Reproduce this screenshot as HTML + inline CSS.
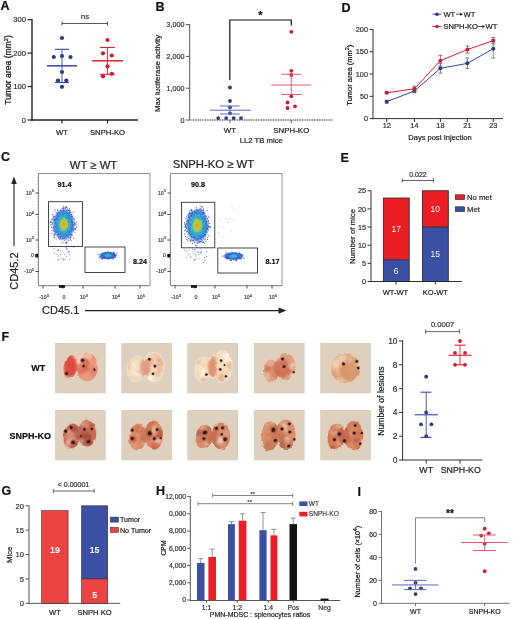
<!DOCTYPE html>
<html><head><meta charset="utf-8"><style>
html,body{margin:0;padding:0;background:#fff;width:520px;height:619px;overflow:hidden}
svg{display:block;font-family:"Liberation Sans",sans-serif;filter:blur(0.3px)}
text{stroke:currentColor;stroke-width:0.2px}
</style></head><body>
<svg width="520" height="619" viewBox="0 0 520 619">
<rect width="520" height="619" fill="#fff"/>
<text x="0.50" y="10.47" font-size="12.5" text-anchor="start" font-weight="bold" fill="#111" style="color:#111" >A</text>
<line x1="32.00" y1="19.00" x2="32.00" y2="120.70" stroke="#222" stroke-width="1.4" />
<line x1="31.30" y1="120.00" x2="138.00" y2="120.00" stroke="#222" stroke-width="1.4" />
<line x1="27.50" y1="120.00" x2="32.00" y2="120.00" stroke="#222" stroke-width="1.2" />
<text x="26.00" y="122.72" font-size="7.6" text-anchor="end" font-weight="normal" fill="#333" style="color:#333" >0</text>
<line x1="27.50" y1="86.55" x2="32.00" y2="86.55" stroke="#222" stroke-width="1.2" />
<text x="26.00" y="89.27" font-size="7.6" text-anchor="end" font-weight="normal" fill="#333" style="color:#333" >100</text>
<line x1="27.50" y1="53.10" x2="32.00" y2="53.10" stroke="#222" stroke-width="1.2" />
<text x="26.00" y="55.82" font-size="7.6" text-anchor="end" font-weight="normal" fill="#333" style="color:#333" >200</text>
<line x1="27.50" y1="19.65" x2="32.00" y2="19.65" stroke="#222" stroke-width="1.2" />
<text x="26.00" y="22.37" font-size="7.6" text-anchor="end" font-weight="normal" fill="#333" style="color:#333" >300</text>
<line x1="62.00" y1="120.00" x2="62.00" y2="123.50" stroke="#222" stroke-width="1.2" />
<line x1="107.50" y1="120.00" x2="107.50" y2="123.50" stroke="#222" stroke-width="1.2" />
<text x="62.00" y="134.76" font-size="7.7" text-anchor="middle" font-weight="normal" fill="#222" style="color:#222" >WT</text>
<text x="107.50" y="134.76" font-size="7.7" text-anchor="middle" font-weight="normal" fill="#222" style="color:#222" >SNPH-KO</text>
<text transform="translate(10.8,70) rotate(-90)" font-size="8.6" text-anchor="middle" fill="#222">Tumor area (mm<tspan font-size="5.5" dy="-3">2</tspan><tspan dy="3">)</tspan></text>
<line x1="62.00" y1="23.50" x2="107.50" y2="23.50" stroke="#444" stroke-width="0.9" />
<line x1="62.00" y1="21.50" x2="62.00" y2="25.50" stroke="#444" stroke-width="0.9" />
<line x1="107.50" y1="21.50" x2="107.50" y2="25.50" stroke="#444" stroke-width="0.9" />
<text x="85.00" y="19.36" font-size="8" text-anchor="middle" font-weight="normal" fill="#333" style="color:#333" >ns</text>
<circle cx="62.00" cy="38.00" r="2.1" fill="#2c3888"/>
<circle cx="53.80" cy="57.00" r="2.1" fill="#2c3888"/>
<circle cx="62.00" cy="56.00" r="2.1" fill="#2c3888"/>
<circle cx="70.50" cy="57.00" r="2.1" fill="#2c3888"/>
<circle cx="62.00" cy="72.00" r="2.1" fill="#2c3888"/>
<circle cx="58.00" cy="80.50" r="2.1" fill="#2c3888"/>
<circle cx="66.30" cy="80.50" r="2.1" fill="#2c3888"/>
<circle cx="62.00" cy="86.80" r="2.1" fill="#2c3888"/>
<line x1="47.00" y1="65.80" x2="77.00" y2="65.80" stroke="#34479a" stroke-width="1.5" />
<line x1="62.00" y1="49.30" x2="62.00" y2="82.50" stroke="#34479a" stroke-width="0.9" />
<line x1="55.00" y1="49.30" x2="69.00" y2="49.30" stroke="#34479a" stroke-width="1.1" />
<line x1="55.00" y1="82.50" x2="69.00" y2="82.50" stroke="#34479a" stroke-width="1.1" />
<circle cx="107.50" cy="40.00" r="2.1" fill="#d21838"/>
<circle cx="103.00" cy="53.30" r="2.1" fill="#d21838"/>
<circle cx="111.80" cy="55.50" r="2.1" fill="#d21838"/>
<circle cx="107.50" cy="66.30" r="2.1" fill="#d21838"/>
<circle cx="111.80" cy="73.80" r="2.1" fill="#d21838"/>
<circle cx="103.00" cy="76.30" r="2.1" fill="#d21838"/>
<line x1="92.00" y1="60.80" x2="123.00" y2="60.80" stroke="#e0202e" stroke-width="1.5" />
<line x1="107.50" y1="47.50" x2="107.50" y2="74.30" stroke="#e0202e" stroke-width="0.9" />
<line x1="100.00" y1="47.50" x2="115.00" y2="47.50" stroke="#e0202e" stroke-width="1.1" />
<line x1="100.00" y1="74.30" x2="115.00" y2="74.30" stroke="#e0202e" stroke-width="1.1" />
<text x="155.50" y="11.47" font-size="12.5" text-anchor="start" font-weight="bold" fill="#111" style="color:#111" >B</text>
<line x1="189.70" y1="24.00" x2="189.70" y2="120.00" stroke="#555" stroke-width="1" />
<line x1="186.00" y1="120.00" x2="189.70" y2="120.00" stroke="#555" stroke-width="1" />
<text x="184.50" y="122.58" font-size="7.2" text-anchor="end" font-weight="normal" fill="#333" style="color:#333" >0</text>
<line x1="186.00" y1="88.20" x2="189.70" y2="88.20" stroke="#555" stroke-width="1" />
<text x="184.50" y="90.78" font-size="7.2" text-anchor="end" font-weight="normal" fill="#333" style="color:#333" >1,000</text>
<line x1="186.00" y1="56.40" x2="189.70" y2="56.40" stroke="#555" stroke-width="1" />
<text x="184.50" y="58.98" font-size="7.2" text-anchor="end" font-weight="normal" fill="#333" style="color:#333" >2,000</text>
<line x1="186.00" y1="24.60" x2="189.70" y2="24.60" stroke="#555" stroke-width="1" />
<text x="184.50" y="27.18" font-size="7.2" text-anchor="end" font-weight="normal" fill="#333" style="color:#333" >3,000</text>
<line x1="189.70" y1="120.00" x2="333.00" y2="120.00" stroke="#666" stroke-width="1.3" stroke-dasharray="1,0.7"/>
<line x1="230.00" y1="120.00" x2="230.00" y2="123.00" stroke="#555" stroke-width="0.9" />
<line x1="291.30" y1="120.00" x2="291.30" y2="123.00" stroke="#555" stroke-width="0.9" />
<text x="230.00" y="132.83" font-size="7.9" text-anchor="middle" font-weight="normal" fill="#222" style="color:#222" >WT</text>
<text x="291.30" y="132.83" font-size="7.9" text-anchor="middle" font-weight="normal" fill="#222" style="color:#222" >SNPH-KO</text>
<text x="261.30" y="143.26" font-size="7.7" text-anchor="middle" font-weight="normal" fill="#222" style="color:#222" >LL2 TB mice</text>
<text transform="translate(157.50,73.50) rotate(-90)" x="0" y="2.83" font-size="7.9" text-anchor="middle" font-weight="normal" fill="#222" style="color:#222" >Max luciferase activity</text>
<polyline points="229.8,80 229.8,20 291.3,20 291.3,25.5" fill="none" stroke="#111" stroke-width="1.2"/>
<text x="260.50" y="19.44" font-size="11" text-anchor="middle" font-weight="bold" fill="#111" style="color:#111" >*</text>
<circle cx="230.00" cy="87.50" r="1.9" fill="#2c3888"/>
<circle cx="230.00" cy="101.00" r="1.9" fill="#2c3888"/>
<circle cx="230.00" cy="107.30" r="1.9" fill="#2c3888"/>
<circle cx="230.00" cy="113.30" r="1.9" fill="#2c3888"/>
<circle cx="218.20" cy="118.10" r="1.9" fill="#2c3888"/>
<circle cx="226.20" cy="118.10" r="1.9" fill="#2c3888"/>
<circle cx="233.70" cy="118.10" r="1.9" fill="#2c3888"/>
<circle cx="241.00" cy="118.10" r="1.9" fill="#2c3888"/>
<line x1="210.00" y1="110.20" x2="251.00" y2="110.20" stroke="#5a6cc0" stroke-width="1.0" />
<line x1="230.00" y1="106.00" x2="230.00" y2="114.00" stroke="#5a6cc0" stroke-width="0.9" />
<line x1="220.00" y1="106.00" x2="239.50" y2="106.00" stroke="#5a6cc0" stroke-width="1.0" />
<line x1="220.00" y1="114.00" x2="239.50" y2="114.00" stroke="#5a6cc0" stroke-width="1.0" />
<circle cx="291.30" cy="31.80" r="1.9" fill="#d21838"/>
<circle cx="291.30" cy="70.80" r="1.9" fill="#d21838"/>
<circle cx="291.30" cy="75.00" r="1.9" fill="#d21838"/>
<circle cx="291.30" cy="96.30" r="1.9" fill="#d21838"/>
<circle cx="287.50" cy="102.50" r="1.9" fill="#d21838"/>
<circle cx="287.50" cy="108.00" r="1.9" fill="#d21838"/>
<circle cx="295.00" cy="106.30" r="1.9" fill="#d21838"/>
<line x1="271.30" y1="85.00" x2="311.30" y2="85.00" stroke="#e65a6a" stroke-width="1.0" />
<line x1="291.30" y1="74.30" x2="291.30" y2="94.50" stroke="#e65a6a" stroke-width="0.9" />
<line x1="281.30" y1="74.30" x2="301.30" y2="74.30" stroke="#e65a6a" stroke-width="1.0" />
<line x1="281.30" y1="94.50" x2="301.30" y2="94.50" stroke="#e65a6a" stroke-width="1.0" />
<text x="341.50" y="12.47" font-size="12.5" text-anchor="start" font-weight="bold" fill="#111" style="color:#111" >D</text>
<line x1="373.00" y1="29.00" x2="373.00" y2="119.20" stroke="#333" stroke-width="1" />
<line x1="372.50" y1="118.60" x2="503.00" y2="118.60" stroke="#333" stroke-width="1" />
<line x1="369.50" y1="118.60" x2="373.00" y2="118.60" stroke="#333" stroke-width="1" />
<text x="368.00" y="121.21" font-size="7.3" text-anchor="end" font-weight="normal" fill="#333" style="color:#333" >0</text>
<line x1="369.50" y1="96.32" x2="373.00" y2="96.32" stroke="#333" stroke-width="1" />
<text x="368.00" y="98.94" font-size="7.3" text-anchor="end" font-weight="normal" fill="#333" style="color:#333" >50</text>
<line x1="369.50" y1="74.05" x2="373.00" y2="74.05" stroke="#333" stroke-width="1" />
<text x="368.00" y="76.66" font-size="7.3" text-anchor="end" font-weight="normal" fill="#333" style="color:#333" >100</text>
<line x1="369.50" y1="51.77" x2="373.00" y2="51.77" stroke="#333" stroke-width="1" />
<text x="368.00" y="54.39" font-size="7.3" text-anchor="end" font-weight="normal" fill="#333" style="color:#333" >150</text>
<line x1="369.50" y1="29.50" x2="373.00" y2="29.50" stroke="#333" stroke-width="1" />
<text x="368.00" y="32.11" font-size="7.3" text-anchor="end" font-weight="normal" fill="#333" style="color:#333" >200</text>
<line x1="386.70" y1="118.60" x2="386.70" y2="122.00" stroke="#333" stroke-width="1" />
<text x="386.70" y="128.11" font-size="7.3" text-anchor="middle" font-weight="normal" fill="#333" style="color:#333" >12</text>
<line x1="414.40" y1="118.60" x2="414.40" y2="122.00" stroke="#333" stroke-width="1" />
<text x="414.40" y="128.11" font-size="7.3" text-anchor="middle" font-weight="normal" fill="#333" style="color:#333" >14</text>
<line x1="440.40" y1="118.60" x2="440.40" y2="122.00" stroke="#333" stroke-width="1" />
<text x="440.40" y="128.11" font-size="7.3" text-anchor="middle" font-weight="normal" fill="#333" style="color:#333" >18</text>
<line x1="467.40" y1="118.60" x2="467.40" y2="122.00" stroke="#333" stroke-width="1" />
<text x="467.40" y="128.11" font-size="7.3" text-anchor="middle" font-weight="normal" fill="#333" style="color:#333" >21</text>
<line x1="493.30" y1="118.60" x2="493.30" y2="122.00" stroke="#333" stroke-width="1" />
<text x="493.30" y="128.11" font-size="7.3" text-anchor="middle" font-weight="normal" fill="#333" style="color:#333" >23</text>
<text x="440.00" y="139.69" font-size="7.5" text-anchor="middle" font-weight="normal" fill="#222" style="color:#222" >Days post Injection</text>
<text transform="translate(351.5,75.2) rotate(-90)" font-size="7.5" text-anchor="middle" fill="#222">Tumor area (mm<tspan font-size="5.3" dy="-3">2</tspan><tspan dy="3">)</tspan></text>
<polyline points="386.7,101.7 414.4,91.0 440.4,68.3 467.4,63.4 493.3,48.7" fill="none" stroke="#34479a" stroke-width="1"/>
<polyline points="386.7,92.8 414.4,88.8 440.4,60.7 467.4,49.5 493.3,40.6" fill="none" stroke="#e0202e" stroke-width="1"/>
<line x1="386.70" y1="100.33" x2="386.70" y2="103.01" stroke="#666" stroke-width="0.8" />
<line x1="384.70" y1="100.33" x2="388.70" y2="100.33" stroke="#666" stroke-width="0.8" />
<line x1="384.70" y1="103.01" x2="388.70" y2="103.01" stroke="#666" stroke-width="0.8" />
<circle cx="386.70" cy="101.67" r="2" fill="#2c3888"/>
<line x1="414.40" y1="89.64" x2="414.40" y2="92.32" stroke="#666" stroke-width="0.8" />
<line x1="412.40" y1="89.64" x2="416.40" y2="89.64" stroke="#666" stroke-width="0.8" />
<line x1="412.40" y1="92.32" x2="416.40" y2="92.32" stroke="#666" stroke-width="0.8" />
<circle cx="414.40" cy="90.98" r="2" fill="#2c3888"/>
<line x1="440.40" y1="63.36" x2="440.40" y2="73.16" stroke="#666" stroke-width="0.8" />
<line x1="438.40" y1="63.36" x2="442.40" y2="63.36" stroke="#666" stroke-width="0.8" />
<line x1="438.40" y1="73.16" x2="442.40" y2="73.16" stroke="#666" stroke-width="0.8" />
<circle cx="440.40" cy="68.26" r="2" fill="#2c3888"/>
<line x1="467.40" y1="58.01" x2="467.40" y2="68.70" stroke="#666" stroke-width="0.8" />
<line x1="465.40" y1="58.01" x2="469.40" y2="58.01" stroke="#666" stroke-width="0.8" />
<line x1="465.40" y1="68.70" x2="469.40" y2="68.70" stroke="#666" stroke-width="0.8" />
<circle cx="467.40" cy="63.36" r="2" fill="#2c3888"/>
<line x1="493.30" y1="39.30" x2="493.30" y2="58.01" stroke="#666" stroke-width="0.8" />
<line x1="491.30" y1="39.30" x2="495.30" y2="39.30" stroke="#666" stroke-width="0.8" />
<line x1="491.30" y1="58.01" x2="495.30" y2="58.01" stroke="#666" stroke-width="0.8" />
<circle cx="493.30" cy="48.66" r="2" fill="#2c3888"/>
<line x1="386.70" y1="91.87" x2="386.70" y2="93.65" stroke="#666" stroke-width="0.8" />
<line x1="384.70" y1="91.87" x2="388.70" y2="91.87" stroke="#666" stroke-width="0.8" />
<line x1="384.70" y1="93.65" x2="388.70" y2="93.65" stroke="#666" stroke-width="0.8" />
<circle cx="386.70" cy="92.76" r="2" fill="#d21838"/>
<line x1="414.40" y1="86.08" x2="414.40" y2="91.42" stroke="#666" stroke-width="0.8" />
<line x1="412.40" y1="86.08" x2="416.40" y2="86.08" stroke="#666" stroke-width="0.8" />
<line x1="412.40" y1="91.42" x2="416.40" y2="91.42" stroke="#666" stroke-width="0.8" />
<circle cx="414.40" cy="88.75" r="2" fill="#d21838"/>
<line x1="440.40" y1="55.34" x2="440.40" y2="66.03" stroke="#666" stroke-width="0.8" />
<line x1="438.40" y1="55.34" x2="442.40" y2="55.34" stroke="#666" stroke-width="0.8" />
<line x1="438.40" y1="66.03" x2="442.40" y2="66.03" stroke="#666" stroke-width="0.8" />
<circle cx="440.40" cy="60.68" r="2" fill="#d21838"/>
<line x1="467.40" y1="45.98" x2="467.40" y2="53.11" stroke="#666" stroke-width="0.8" />
<line x1="465.40" y1="45.98" x2="469.40" y2="45.98" stroke="#666" stroke-width="0.8" />
<line x1="465.40" y1="53.11" x2="469.40" y2="53.11" stroke="#666" stroke-width="0.8" />
<circle cx="467.40" cy="49.55" r="2" fill="#d21838"/>
<line x1="493.30" y1="37.52" x2="493.30" y2="43.76" stroke="#666" stroke-width="0.8" />
<line x1="491.30" y1="37.52" x2="495.30" y2="37.52" stroke="#666" stroke-width="0.8" />
<line x1="491.30" y1="43.76" x2="495.30" y2="43.76" stroke="#666" stroke-width="0.8" />
<circle cx="493.30" cy="40.64" r="2" fill="#d21838"/>
<line x1="432.50" y1="14.20" x2="441.30" y2="14.20" stroke="#34479a" stroke-width="1" />
<circle cx="437.00" cy="14.20" r="1.8" fill="#2c3888"/>
<text x="443.40" y="16.92" font-size="7.6" text-anchor="start" font-weight="normal" fill="#222" style="color:#222" >WT</text>
<line x1="456.00" y1="14.20" x2="460.50" y2="14.20" stroke="#222" stroke-width="0.8" />
<polygon points="463.00,14.20 460.00,12.60 460.00,15.80" fill="#222"/>
<text x="463.50" y="16.92" font-size="7.6" text-anchor="start" font-weight="normal" fill="#222" style="color:#222" >WT</text>
<line x1="432.50" y1="26.50" x2="441.30" y2="26.50" stroke="#e0202e" stroke-width="1" />
<circle cx="437.00" cy="26.50" r="1.8" fill="#d21838"/>
<text x="443.40" y="29.22" font-size="7.6" text-anchor="start" font-weight="normal" fill="#222" style="color:#222" >SNPH-KO</text>
<line x1="478.00" y1="26.50" x2="482.80" y2="26.50" stroke="#222" stroke-width="0.8" />
<polygon points="485.30,26.50 482.30,24.90 482.30,28.10" fill="#222"/>
<text x="485.60" y="29.22" font-size="7.6" text-anchor="start" font-weight="normal" fill="#222" style="color:#222" >WT</text>
<text x="1.00" y="160.97" font-size="12.5" text-anchor="start" font-weight="bold" fill="#111" style="color:#111" >C</text>
<text x="93.50" y="169.05" font-size="11.3" text-anchor="middle" font-weight="normal" fill="#222" style="color:#222" >WT  ≥ WT</text>
<text x="213.40" y="167.55" font-size="11.3" text-anchor="middle" font-weight="normal" fill="#222" style="color:#222" >SNPH-KO ≥ WT</text>
<line x1="14.00" y1="182.00" x2="14.00" y2="246.00" stroke="#222" stroke-width="1.1" />
<polygon points="14,176.5 11.2,184 16.8,184" fill="#222"/>
<text transform="translate(14.00,271.00) rotate(-90)" x="0" y="3.94" font-size="11" text-anchor="middle" font-weight="normal" fill="#222" style="color:#222" >CD45.2</text>
<text x="42.00" y="313.94" font-size="11" text-anchor="start" font-weight="normal" fill="#222" style="color:#222" >CD45.1</text>
<line x1="85.00" y1="310.60" x2="280.00" y2="310.60" stroke="#222" stroke-width="1.1" />
<polygon points="286.5,310.6 278.5,307.4 278.5,313.8" fill="#222"/>
<rect x="38.5" y="173.5" width="111.5" height="112" fill="none" stroke="#888" stroke-width="0.9"/>
<line x1="35.50" y1="193.00" x2="38.50" y2="193.00" stroke="#333" stroke-width="0.9" />
<text x="34.00" y="194.86" font-size="5.2" text-anchor="end" font-weight="normal" fill="#444" style="color:#444" >10<tspan font-size="4" dy="-2.5">5</tspan></text>
<line x1="35.50" y1="214.50" x2="38.50" y2="214.50" stroke="#333" stroke-width="0.9" />
<text x="34.00" y="216.36" font-size="5.2" text-anchor="end" font-weight="normal" fill="#444" style="color:#444" >10<tspan font-size="4" dy="-2.5">4</tspan></text>
<line x1="35.50" y1="240.00" x2="38.50" y2="240.00" stroke="#333" stroke-width="0.9" />
<text x="34.00" y="241.86" font-size="5.2" text-anchor="end" font-weight="normal" fill="#444" style="color:#444" >10<tspan font-size="4" dy="-2.5">3</tspan></text>
<line x1="35.50" y1="255.50" x2="38.50" y2="255.50" stroke="#333" stroke-width="0.9" />
<text x="34.00" y="257.36" font-size="5.2" text-anchor="end" font-weight="normal" fill="#444" style="color:#444" >0</text>
<line x1="35.50" y1="271.50" x2="38.50" y2="271.50" stroke="#333" stroke-width="0.9" />
<text x="34.00" y="273.36" font-size="5.2" text-anchor="end" font-weight="normal" fill="#444" style="color:#444" >-10<tspan font-size="4" dy="-2.5">3</tspan></text>
<line x1="37.00" y1="178.00" x2="38.50" y2="178.00" stroke="#666" stroke-width="0.5" />
<line x1="37.00" y1="181.00" x2="38.50" y2="181.00" stroke="#666" stroke-width="0.5" />
<line x1="37.00" y1="184.00" x2="38.50" y2="184.00" stroke="#666" stroke-width="0.5" />
<line x1="37.00" y1="187.00" x2="38.50" y2="187.00" stroke="#666" stroke-width="0.5" />
<line x1="37.00" y1="190.00" x2="38.50" y2="190.00" stroke="#666" stroke-width="0.5" />
<line x1="37.00" y1="193.00" x2="38.50" y2="193.00" stroke="#666" stroke-width="0.5" />
<line x1="37.00" y1="196.00" x2="38.50" y2="196.00" stroke="#666" stroke-width="0.5" />
<line x1="37.00" y1="199.00" x2="38.50" y2="199.00" stroke="#666" stroke-width="0.5" />
<line x1="37.00" y1="202.00" x2="38.50" y2="202.00" stroke="#666" stroke-width="0.5" />
<line x1="37.00" y1="205.00" x2="38.50" y2="205.00" stroke="#666" stroke-width="0.5" />
<line x1="37.00" y1="208.00" x2="38.50" y2="208.00" stroke="#666" stroke-width="0.5" />
<line x1="37.00" y1="211.00" x2="38.50" y2="211.00" stroke="#666" stroke-width="0.5" />
<line x1="37.00" y1="214.00" x2="38.50" y2="214.00" stroke="#666" stroke-width="0.5" />
<line x1="37.00" y1="217.00" x2="38.50" y2="217.00" stroke="#666" stroke-width="0.5" />
<line x1="37.00" y1="220.00" x2="38.50" y2="220.00" stroke="#666" stroke-width="0.5" />
<line x1="37.00" y1="223.00" x2="38.50" y2="223.00" stroke="#666" stroke-width="0.5" />
<line x1="37.00" y1="226.00" x2="38.50" y2="226.00" stroke="#666" stroke-width="0.5" />
<line x1="37.00" y1="229.00" x2="38.50" y2="229.00" stroke="#666" stroke-width="0.5" />
<line x1="37.00" y1="232.00" x2="38.50" y2="232.00" stroke="#666" stroke-width="0.5" />
<line x1="37.00" y1="235.00" x2="38.50" y2="235.00" stroke="#666" stroke-width="0.5" />
<line x1="37.00" y1="238.00" x2="38.50" y2="238.00" stroke="#666" stroke-width="0.5" />
<line x1="37.00" y1="241.00" x2="38.50" y2="241.00" stroke="#666" stroke-width="0.5" />
<line x1="37.00" y1="244.00" x2="38.50" y2="244.00" stroke="#666" stroke-width="0.5" />
<line x1="37.00" y1="247.00" x2="38.50" y2="247.00" stroke="#666" stroke-width="0.5" />
<line x1="37.00" y1="250.00" x2="38.50" y2="250.00" stroke="#666" stroke-width="0.5" />
<line x1="37.00" y1="253.00" x2="38.50" y2="253.00" stroke="#666" stroke-width="0.5" />
<line x1="37.00" y1="256.00" x2="38.50" y2="256.00" stroke="#666" stroke-width="0.5" />
<line x1="37.00" y1="259.00" x2="38.50" y2="259.00" stroke="#666" stroke-width="0.5" />
<line x1="37.00" y1="262.00" x2="38.50" y2="262.00" stroke="#666" stroke-width="0.5" />
<line x1="37.00" y1="265.00" x2="38.50" y2="265.00" stroke="#666" stroke-width="0.5" />
<line x1="37.00" y1="268.00" x2="38.50" y2="268.00" stroke="#666" stroke-width="0.5" />
<line x1="37.00" y1="271.00" x2="38.50" y2="271.00" stroke="#666" stroke-width="0.5" />
<line x1="37.00" y1="274.00" x2="38.50" y2="274.00" stroke="#666" stroke-width="0.5" />
<line x1="37.00" y1="277.00" x2="38.50" y2="277.00" stroke="#666" stroke-width="0.5" />
<line x1="37.00" y1="280.00" x2="38.50" y2="280.00" stroke="#666" stroke-width="0.5" />
<line x1="37.00" y1="283.00" x2="38.50" y2="283.00" stroke="#666" stroke-width="0.5" />
<rect x="35.30" y="253.90" width="2.80" height="3.60" fill="#111" />
<line x1="43.00" y1="285.50" x2="43.00" y2="288.50" stroke="#333" stroke-width="0.9" />
<text x="44.00" y="299.16" font-size="5.2" text-anchor="middle" font-weight="normal" fill="#444" style="color:#444" >-10<tspan font-size="4" dy="-2.5">3</tspan></text>
<line x1="63.00" y1="285.50" x2="63.00" y2="288.50" stroke="#333" stroke-width="0.9" />
<text x="64.00" y="299.16" font-size="5.2" text-anchor="middle" font-weight="normal" fill="#444" style="color:#444" >0</text>
<line x1="83.00" y1="285.50" x2="83.00" y2="288.50" stroke="#333" stroke-width="0.9" />
<text x="84.00" y="299.16" font-size="5.2" text-anchor="middle" font-weight="normal" fill="#444" style="color:#444" >10<tspan font-size="4" dy="-2.5">3</tspan></text>
<line x1="115.00" y1="285.50" x2="115.00" y2="288.50" stroke="#333" stroke-width="0.9" />
<text x="116.00" y="299.16" font-size="5.2" text-anchor="middle" font-weight="normal" fill="#444" style="color:#444" >10<tspan font-size="4" dy="-2.5">4</tspan></text>
<line x1="140.00" y1="285.50" x2="140.00" y2="288.50" stroke="#333" stroke-width="0.9" />
<text x="141.00" y="299.16" font-size="5.2" text-anchor="middle" font-weight="normal" fill="#444" style="color:#444" >10<tspan font-size="4" dy="-2.5">5</tspan></text>
<line x1="40.00" y1="285.50" x2="40.00" y2="287.00" stroke="#666" stroke-width="0.5" />
<line x1="43.00" y1="285.50" x2="43.00" y2="287.00" stroke="#666" stroke-width="0.5" />
<line x1="46.00" y1="285.50" x2="46.00" y2="287.00" stroke="#666" stroke-width="0.5" />
<line x1="49.00" y1="285.50" x2="49.00" y2="287.00" stroke="#666" stroke-width="0.5" />
<line x1="52.00" y1="285.50" x2="52.00" y2="287.00" stroke="#666" stroke-width="0.5" />
<line x1="55.00" y1="285.50" x2="55.00" y2="287.00" stroke="#666" stroke-width="0.5" />
<line x1="58.00" y1="285.50" x2="58.00" y2="287.00" stroke="#666" stroke-width="0.5" />
<line x1="61.00" y1="285.50" x2="61.00" y2="287.00" stroke="#666" stroke-width="0.5" />
<line x1="64.00" y1="285.50" x2="64.00" y2="287.00" stroke="#666" stroke-width="0.5" />
<line x1="67.00" y1="285.50" x2="67.00" y2="287.00" stroke="#666" stroke-width="0.5" />
<line x1="70.00" y1="285.50" x2="70.00" y2="287.00" stroke="#666" stroke-width="0.5" />
<line x1="73.00" y1="285.50" x2="73.00" y2="287.00" stroke="#666" stroke-width="0.5" />
<line x1="76.00" y1="285.50" x2="76.00" y2="287.00" stroke="#666" stroke-width="0.5" />
<line x1="79.00" y1="285.50" x2="79.00" y2="287.00" stroke="#666" stroke-width="0.5" />
<line x1="82.00" y1="285.50" x2="82.00" y2="287.00" stroke="#666" stroke-width="0.5" />
<line x1="85.00" y1="285.50" x2="85.00" y2="287.00" stroke="#666" stroke-width="0.5" />
<line x1="88.00" y1="285.50" x2="88.00" y2="287.00" stroke="#666" stroke-width="0.5" />
<line x1="91.00" y1="285.50" x2="91.00" y2="287.00" stroke="#666" stroke-width="0.5" />
<line x1="94.00" y1="285.50" x2="94.00" y2="287.00" stroke="#666" stroke-width="0.5" />
<line x1="97.00" y1="285.50" x2="97.00" y2="287.00" stroke="#666" stroke-width="0.5" />
<line x1="100.00" y1="285.50" x2="100.00" y2="287.00" stroke="#666" stroke-width="0.5" />
<line x1="103.00" y1="285.50" x2="103.00" y2="287.00" stroke="#666" stroke-width="0.5" />
<line x1="106.00" y1="285.50" x2="106.00" y2="287.00" stroke="#666" stroke-width="0.5" />
<line x1="109.00" y1="285.50" x2="109.00" y2="287.00" stroke="#666" stroke-width="0.5" />
<line x1="112.00" y1="285.50" x2="112.00" y2="287.00" stroke="#666" stroke-width="0.5" />
<line x1="115.00" y1="285.50" x2="115.00" y2="287.00" stroke="#666" stroke-width="0.5" />
<line x1="118.00" y1="285.50" x2="118.00" y2="287.00" stroke="#666" stroke-width="0.5" />
<line x1="121.00" y1="285.50" x2="121.00" y2="287.00" stroke="#666" stroke-width="0.5" />
<line x1="124.00" y1="285.50" x2="124.00" y2="287.00" stroke="#666" stroke-width="0.5" />
<line x1="127.00" y1="285.50" x2="127.00" y2="287.00" stroke="#666" stroke-width="0.5" />
<line x1="130.00" y1="285.50" x2="130.00" y2="287.00" stroke="#666" stroke-width="0.5" />
<line x1="133.00" y1="285.50" x2="133.00" y2="287.00" stroke="#666" stroke-width="0.5" />
<line x1="136.00" y1="285.50" x2="136.00" y2="287.00" stroke="#666" stroke-width="0.5" />
<line x1="139.00" y1="285.50" x2="139.00" y2="287.00" stroke="#666" stroke-width="0.5" />
<line x1="142.00" y1="285.50" x2="142.00" y2="287.00" stroke="#666" stroke-width="0.5" />
<line x1="145.00" y1="285.50" x2="145.00" y2="287.00" stroke="#666" stroke-width="0.5" />
<line x1="148.00" y1="285.50" x2="148.00" y2="287.00" stroke="#666" stroke-width="0.5" />
<rect x="59.00" y="285.20" width="6.00" height="2.60" fill="#111" />
<rect x="170.5" y="173.5" width="111.5" height="112" fill="none" stroke="#888" stroke-width="0.9"/>
<line x1="167.50" y1="193.00" x2="170.50" y2="193.00" stroke="#333" stroke-width="0.9" />
<text x="166.00" y="194.86" font-size="5.2" text-anchor="end" font-weight="normal" fill="#444" style="color:#444" >10<tspan font-size="4" dy="-2.5">5</tspan></text>
<line x1="167.50" y1="214.50" x2="170.50" y2="214.50" stroke="#333" stroke-width="0.9" />
<text x="166.00" y="216.36" font-size="5.2" text-anchor="end" font-weight="normal" fill="#444" style="color:#444" >10<tspan font-size="4" dy="-2.5">4</tspan></text>
<line x1="167.50" y1="240.00" x2="170.50" y2="240.00" stroke="#333" stroke-width="0.9" />
<text x="166.00" y="241.86" font-size="5.2" text-anchor="end" font-weight="normal" fill="#444" style="color:#444" >10<tspan font-size="4" dy="-2.5">3</tspan></text>
<line x1="167.50" y1="255.50" x2="170.50" y2="255.50" stroke="#333" stroke-width="0.9" />
<text x="166.00" y="257.36" font-size="5.2" text-anchor="end" font-weight="normal" fill="#444" style="color:#444" >0</text>
<line x1="167.50" y1="271.50" x2="170.50" y2="271.50" stroke="#333" stroke-width="0.9" />
<text x="166.00" y="273.36" font-size="5.2" text-anchor="end" font-weight="normal" fill="#444" style="color:#444" >-10<tspan font-size="4" dy="-2.5">3</tspan></text>
<line x1="169.00" y1="178.00" x2="170.50" y2="178.00" stroke="#666" stroke-width="0.5" />
<line x1="169.00" y1="181.00" x2="170.50" y2="181.00" stroke="#666" stroke-width="0.5" />
<line x1="169.00" y1="184.00" x2="170.50" y2="184.00" stroke="#666" stroke-width="0.5" />
<line x1="169.00" y1="187.00" x2="170.50" y2="187.00" stroke="#666" stroke-width="0.5" />
<line x1="169.00" y1="190.00" x2="170.50" y2="190.00" stroke="#666" stroke-width="0.5" />
<line x1="169.00" y1="193.00" x2="170.50" y2="193.00" stroke="#666" stroke-width="0.5" />
<line x1="169.00" y1="196.00" x2="170.50" y2="196.00" stroke="#666" stroke-width="0.5" />
<line x1="169.00" y1="199.00" x2="170.50" y2="199.00" stroke="#666" stroke-width="0.5" />
<line x1="169.00" y1="202.00" x2="170.50" y2="202.00" stroke="#666" stroke-width="0.5" />
<line x1="169.00" y1="205.00" x2="170.50" y2="205.00" stroke="#666" stroke-width="0.5" />
<line x1="169.00" y1="208.00" x2="170.50" y2="208.00" stroke="#666" stroke-width="0.5" />
<line x1="169.00" y1="211.00" x2="170.50" y2="211.00" stroke="#666" stroke-width="0.5" />
<line x1="169.00" y1="214.00" x2="170.50" y2="214.00" stroke="#666" stroke-width="0.5" />
<line x1="169.00" y1="217.00" x2="170.50" y2="217.00" stroke="#666" stroke-width="0.5" />
<line x1="169.00" y1="220.00" x2="170.50" y2="220.00" stroke="#666" stroke-width="0.5" />
<line x1="169.00" y1="223.00" x2="170.50" y2="223.00" stroke="#666" stroke-width="0.5" />
<line x1="169.00" y1="226.00" x2="170.50" y2="226.00" stroke="#666" stroke-width="0.5" />
<line x1="169.00" y1="229.00" x2="170.50" y2="229.00" stroke="#666" stroke-width="0.5" />
<line x1="169.00" y1="232.00" x2="170.50" y2="232.00" stroke="#666" stroke-width="0.5" />
<line x1="169.00" y1="235.00" x2="170.50" y2="235.00" stroke="#666" stroke-width="0.5" />
<line x1="169.00" y1="238.00" x2="170.50" y2="238.00" stroke="#666" stroke-width="0.5" />
<line x1="169.00" y1="241.00" x2="170.50" y2="241.00" stroke="#666" stroke-width="0.5" />
<line x1="169.00" y1="244.00" x2="170.50" y2="244.00" stroke="#666" stroke-width="0.5" />
<line x1="169.00" y1="247.00" x2="170.50" y2="247.00" stroke="#666" stroke-width="0.5" />
<line x1="169.00" y1="250.00" x2="170.50" y2="250.00" stroke="#666" stroke-width="0.5" />
<line x1="169.00" y1="253.00" x2="170.50" y2="253.00" stroke="#666" stroke-width="0.5" />
<line x1="169.00" y1="256.00" x2="170.50" y2="256.00" stroke="#666" stroke-width="0.5" />
<line x1="169.00" y1="259.00" x2="170.50" y2="259.00" stroke="#666" stroke-width="0.5" />
<line x1="169.00" y1="262.00" x2="170.50" y2="262.00" stroke="#666" stroke-width="0.5" />
<line x1="169.00" y1="265.00" x2="170.50" y2="265.00" stroke="#666" stroke-width="0.5" />
<line x1="169.00" y1="268.00" x2="170.50" y2="268.00" stroke="#666" stroke-width="0.5" />
<line x1="169.00" y1="271.00" x2="170.50" y2="271.00" stroke="#666" stroke-width="0.5" />
<line x1="169.00" y1="274.00" x2="170.50" y2="274.00" stroke="#666" stroke-width="0.5" />
<line x1="169.00" y1="277.00" x2="170.50" y2="277.00" stroke="#666" stroke-width="0.5" />
<line x1="169.00" y1="280.00" x2="170.50" y2="280.00" stroke="#666" stroke-width="0.5" />
<line x1="169.00" y1="283.00" x2="170.50" y2="283.00" stroke="#666" stroke-width="0.5" />
<rect x="167.30" y="253.90" width="2.80" height="3.60" fill="#111" />
<line x1="175.00" y1="285.50" x2="175.00" y2="288.50" stroke="#333" stroke-width="0.9" />
<text x="176.00" y="299.16" font-size="5.2" text-anchor="middle" font-weight="normal" fill="#444" style="color:#444" >-10<tspan font-size="4" dy="-2.5">3</tspan></text>
<line x1="195.00" y1="285.50" x2="195.00" y2="288.50" stroke="#333" stroke-width="0.9" />
<text x="196.00" y="299.16" font-size="5.2" text-anchor="middle" font-weight="normal" fill="#444" style="color:#444" >0</text>
<line x1="215.00" y1="285.50" x2="215.00" y2="288.50" stroke="#333" stroke-width="0.9" />
<text x="216.00" y="299.16" font-size="5.2" text-anchor="middle" font-weight="normal" fill="#444" style="color:#444" >10<tspan font-size="4" dy="-2.5">3</tspan></text>
<line x1="247.00" y1="285.50" x2="247.00" y2="288.50" stroke="#333" stroke-width="0.9" />
<text x="248.00" y="299.16" font-size="5.2" text-anchor="middle" font-weight="normal" fill="#444" style="color:#444" >10<tspan font-size="4" dy="-2.5">4</tspan></text>
<line x1="272.00" y1="285.50" x2="272.00" y2="288.50" stroke="#333" stroke-width="0.9" />
<text x="273.00" y="299.16" font-size="5.2" text-anchor="middle" font-weight="normal" fill="#444" style="color:#444" >10<tspan font-size="4" dy="-2.5">5</tspan></text>
<line x1="172.00" y1="285.50" x2="172.00" y2="287.00" stroke="#666" stroke-width="0.5" />
<line x1="175.00" y1="285.50" x2="175.00" y2="287.00" stroke="#666" stroke-width="0.5" />
<line x1="178.00" y1="285.50" x2="178.00" y2="287.00" stroke="#666" stroke-width="0.5" />
<line x1="181.00" y1="285.50" x2="181.00" y2="287.00" stroke="#666" stroke-width="0.5" />
<line x1="184.00" y1="285.50" x2="184.00" y2="287.00" stroke="#666" stroke-width="0.5" />
<line x1="187.00" y1="285.50" x2="187.00" y2="287.00" stroke="#666" stroke-width="0.5" />
<line x1="190.00" y1="285.50" x2="190.00" y2="287.00" stroke="#666" stroke-width="0.5" />
<line x1="193.00" y1="285.50" x2="193.00" y2="287.00" stroke="#666" stroke-width="0.5" />
<line x1="196.00" y1="285.50" x2="196.00" y2="287.00" stroke="#666" stroke-width="0.5" />
<line x1="199.00" y1="285.50" x2="199.00" y2="287.00" stroke="#666" stroke-width="0.5" />
<line x1="202.00" y1="285.50" x2="202.00" y2="287.00" stroke="#666" stroke-width="0.5" />
<line x1="205.00" y1="285.50" x2="205.00" y2="287.00" stroke="#666" stroke-width="0.5" />
<line x1="208.00" y1="285.50" x2="208.00" y2="287.00" stroke="#666" stroke-width="0.5" />
<line x1="211.00" y1="285.50" x2="211.00" y2="287.00" stroke="#666" stroke-width="0.5" />
<line x1="214.00" y1="285.50" x2="214.00" y2="287.00" stroke="#666" stroke-width="0.5" />
<line x1="217.00" y1="285.50" x2="217.00" y2="287.00" stroke="#666" stroke-width="0.5" />
<line x1="220.00" y1="285.50" x2="220.00" y2="287.00" stroke="#666" stroke-width="0.5" />
<line x1="223.00" y1="285.50" x2="223.00" y2="287.00" stroke="#666" stroke-width="0.5" />
<line x1="226.00" y1="285.50" x2="226.00" y2="287.00" stroke="#666" stroke-width="0.5" />
<line x1="229.00" y1="285.50" x2="229.00" y2="287.00" stroke="#666" stroke-width="0.5" />
<line x1="232.00" y1="285.50" x2="232.00" y2="287.00" stroke="#666" stroke-width="0.5" />
<line x1="235.00" y1="285.50" x2="235.00" y2="287.00" stroke="#666" stroke-width="0.5" />
<line x1="238.00" y1="285.50" x2="238.00" y2="287.00" stroke="#666" stroke-width="0.5" />
<line x1="241.00" y1="285.50" x2="241.00" y2="287.00" stroke="#666" stroke-width="0.5" />
<line x1="244.00" y1="285.50" x2="244.00" y2="287.00" stroke="#666" stroke-width="0.5" />
<line x1="247.00" y1="285.50" x2="247.00" y2="287.00" stroke="#666" stroke-width="0.5" />
<line x1="250.00" y1="285.50" x2="250.00" y2="287.00" stroke="#666" stroke-width="0.5" />
<line x1="253.00" y1="285.50" x2="253.00" y2="287.00" stroke="#666" stroke-width="0.5" />
<line x1="256.00" y1="285.50" x2="256.00" y2="287.00" stroke="#666" stroke-width="0.5" />
<line x1="259.00" y1="285.50" x2="259.00" y2="287.00" stroke="#666" stroke-width="0.5" />
<line x1="262.00" y1="285.50" x2="262.00" y2="287.00" stroke="#666" stroke-width="0.5" />
<line x1="265.00" y1="285.50" x2="265.00" y2="287.00" stroke="#666" stroke-width="0.5" />
<line x1="268.00" y1="285.50" x2="268.00" y2="287.00" stroke="#666" stroke-width="0.5" />
<line x1="271.00" y1="285.50" x2="271.00" y2="287.00" stroke="#666" stroke-width="0.5" />
<line x1="274.00" y1="285.50" x2="274.00" y2="287.00" stroke="#666" stroke-width="0.5" />
<line x1="277.00" y1="285.50" x2="277.00" y2="287.00" stroke="#666" stroke-width="0.5" />
<line x1="280.00" y1="285.50" x2="280.00" y2="287.00" stroke="#666" stroke-width="0.5" />
<rect x="191.00" y="285.20" width="6.00" height="2.60" fill="#111" />
<rect x="48.5" y="201.7" width="34" height="44.8" fill="none" stroke="#333" stroke-width="0.9"/>
<rect x="85" y="247" width="40" height="25.5" fill="none" stroke="#333" stroke-width="0.9"/>
<rect x="181.5" y="202.3" width="33.3" height="45.5" fill="none" stroke="#333" stroke-width="0.9"/>
<rect x="217.8" y="248" width="39.7" height="25" fill="none" stroke="#333" stroke-width="0.9"/>
<text x="64.50" y="186.58" font-size="7.2" text-anchor="middle" font-weight="bold" fill="#111" style="color:#111" >91.4</text>
<text x="140.00" y="263.58" font-size="7.2" text-anchor="middle" font-weight="bold" fill="#111" style="color:#111" >8.24</text>
<text x="198.00" y="187.08" font-size="7.2" text-anchor="middle" font-weight="bold" fill="#111" style="color:#111" >90.8</text>
<text x="272.50" y="263.98" font-size="7.2" text-anchor="middle" font-weight="bold" fill="#111" style="color:#111" >8.17</text>
<defs><radialGradient id="g1" cx="0.5" cy="0.5" r="0.5"><stop offset="0" stop-color="rgb(243, 133, 40)"/><stop offset="0.12" stop-color="rgb(235, 178, 43)"/><stop offset="0.3" stop-color="rgb(148, 207, 82)"/><stop offset="0.5" stop-color="rgb(70, 190, 176)"/><stop offset="0.75" stop-color="rgb(52, 136, 221)" stop-opacity="0.9"/><stop offset="1" stop-color="rgb(50, 85, 202)" stop-opacity="0"/></radialGradient></defs>
<ellipse cx="63.8" cy="224.5" rx="11.9" ry="16.575" fill="url(#g1)"/>
<rect x="58.4" y="222.4" width="1" height="1" fill="rgb(53, 145, 219)" opacity="0.85"/>
<rect x="68.0" y="228.2" width="1" height="1" fill="rgb(67, 188, 185)" opacity="0.85"/>
<rect x="54.3" y="211.1" width="1" height="1" fill="rgb(50, 71, 194)" opacity="0.85"/>
<rect x="73.4" y="228.2" width="1" height="1" fill="rgb(50, 85, 202)" opacity="0.85"/>
<rect x="59.8" y="236.7" width="1" height="1" fill="rgb(50, 87, 204)" opacity="0.85"/>
<rect x="56.7" y="218.8" width="1" height="1" fill="rgb(51, 127, 223)" opacity="0.85"/>
<rect x="60.9" y="216.9" width="1" height="1" fill="rgb(55, 156, 216)" opacity="0.85"/>
<rect x="58.3" y="219.8" width="1" height="1" fill="rgb(54, 151, 217)" opacity="0.85"/>
<rect x="65.6" y="213.0" width="1" height="1" fill="rgb(50, 110, 218)" opacity="0.85"/>
<rect x="57.5" y="219.9" width="1" height="1" fill="rgb(60, 185, 209)" opacity="0.85"/>
<rect x="55.5" y="230.1" width="1" height="1" fill="rgb(50, 96, 209)" opacity="0.85"/>
<rect x="58.9" y="213.0" width="1" height="1" fill="rgb(50, 118, 224)" opacity="0.85"/>
<rect x="60.9" y="214.6" width="1" height="1" fill="rgb(54, 151, 217)" opacity="0.85"/>
<rect x="53.5" y="227.9" width="1" height="1" fill="rgb(51, 128, 223)" opacity="0.85"/>
<rect x="55.5" y="225.8" width="1" height="1" fill="rgb(50, 104, 215)" opacity="0.85"/>
<rect x="61.0" y="213.8" width="1" height="1" fill="rgb(58, 174, 212)" opacity="0.85"/>
<rect x="57.3" y="231.2" width="1" height="1" fill="rgb(50, 101, 213)" opacity="0.85"/>
<rect x="63.4" y="231.4" width="1" height="1" fill="rgb(72, 191, 168)" opacity="0.85"/>
<rect x="68.4" y="227.9" width="1" height="1" fill="rgb(57, 171, 213)" opacity="0.85"/>
<rect x="70.6" y="214.8" width="1" height="1" fill="rgb(51, 127, 223)" opacity="0.85"/>
<rect x="62.3" y="231.6" width="1" height="1" fill="rgb(56, 161, 215)" opacity="0.85"/>
<rect x="73.3" y="211.6" width="1" height="1" fill="rgb(50, 50, 180)" opacity="0.85"/>
<rect x="63.9" y="232.5" width="1" height="1" fill="rgb(57, 169, 213)" opacity="0.85"/>
<rect x="58.8" y="227.5" width="1" height="1" fill="rgb(59, 184, 210)" opacity="0.85"/>
<rect x="71.1" y="220.7" width="1" height="1" fill="rgb(51, 129, 222)" opacity="0.85"/>
<rect x="57.4" y="216.5" width="1" height="1" fill="rgb(50, 102, 213)" opacity="0.85"/>
<rect x="70.8" y="216.4" width="1" height="1" fill="rgb(52, 138, 220)" opacity="0.85"/>
<rect x="64.9" y="216.9" width="1" height="1" fill="rgb(57, 168, 213)" opacity="0.85"/>
<rect x="69.3" y="230.4" width="1" height="1" fill="rgb(50, 108, 217)" opacity="0.85"/>
<rect x="65.8" y="229.8" width="1" height="1" fill="rgb(54, 149, 218)" opacity="0.85"/>
<rect x="67.4" y="228.2" width="1" height="1" fill="rgb(53, 143, 219)" opacity="0.85"/>
<rect x="68.5" y="216.7" width="1" height="1" fill="rgb(50, 115, 222)" opacity="0.85"/>
<rect x="63.2" y="230.8" width="1" height="1" fill="rgb(58, 172, 212)" opacity="0.85"/>
<rect x="70.7" y="234.0" width="1" height="1" fill="rgb(51, 129, 222)" opacity="0.85"/>
<rect x="57.3" y="225.8" width="1" height="1" fill="rgb(51, 130, 222)" opacity="0.85"/>
<rect x="67.2" y="228.1" width="1" height="1" fill="rgb(56, 165, 214)" opacity="0.85"/>
<rect x="76.2" y="226.6" width="1" height="1" fill="rgb(50, 67, 191)" opacity="0.85"/>
<rect x="67.3" y="231.4" width="1" height="1" fill="rgb(50, 117, 223)" opacity="0.85"/>
<rect x="68.7" y="215.3" width="1" height="1" fill="rgb(50, 111, 219)" opacity="0.85"/>
<rect x="64.2" y="214.9" width="1" height="1" fill="rgb(58, 176, 211)" opacity="0.85"/>
<rect x="69.1" y="213.3" width="1" height="1" fill="rgb(51, 127, 223)" opacity="0.85"/>
<rect x="58.3" y="223.2" width="1" height="1" fill="rgb(53, 144, 219)" opacity="0.85"/>
<rect x="62.8" y="235.4" width="1" height="1" fill="rgb(56, 163, 215)" opacity="0.85"/>
<rect x="51.5" y="229.7" width="1" height="1" fill="rgb(50, 99, 212)" opacity="0.85"/>
<rect x="68.2" y="222.0" width="1" height="1" fill="rgb(55, 158, 216)" opacity="0.85"/>
<rect x="65.4" y="233.9" width="1" height="1" fill="rgb(57, 171, 213)" opacity="0.85"/>
<rect x="66.6" y="216.9" width="1" height="1" fill="rgb(58, 175, 212)" opacity="0.85"/>
<rect x="57.1" y="210.2" width="1" height="1" fill="rgb(50, 98, 211)" opacity="0.85"/>
<rect x="63.3" y="215.6" width="1" height="1" fill="rgb(52, 138, 220)" opacity="0.85"/>
<rect x="59.0" y="228.6" width="1" height="1" fill="rgb(75, 192, 159)" opacity="0.85"/>
<rect x="71.3" y="216.4" width="1" height="1" fill="rgb(50, 87, 204)" opacity="0.85"/>
<rect x="60.6" y="218.3" width="1" height="1" fill="rgb(60, 185, 207)" opacity="0.85"/>
<rect x="70.9" y="222.0" width="1" height="1" fill="rgb(52, 137, 220)" opacity="0.85"/>
<rect x="68.5" y="220.8" width="1" height="1" fill="rgb(68, 189, 181)" opacity="0.85"/>
<rect x="63.7" y="233.8" width="1" height="1" fill="rgb(51, 127, 223)" opacity="0.85"/>
<rect x="67.5" y="220.3" width="1" height="1" fill="rgb(59, 178, 211)" opacity="0.85"/>
<rect x="53.3" y="216.0" width="1" height="1" fill="rgb(50, 80, 199)" opacity="0.85"/>
<rect x="68.8" y="219.7" width="1" height="1" fill="rgb(56, 162, 215)" opacity="0.85"/>
<rect x="72.8" y="224.3" width="1" height="1" fill="rgb(50, 90, 206)" opacity="0.85"/>
<rect x="54.9" y="226.0" width="1" height="1" fill="rgb(50, 125, 223)" opacity="0.85"/>
<rect x="60.3" y="232.0" width="1" height="1" fill="rgb(56, 161, 215)" opacity="0.85"/>
<rect x="61.8" y="236.6" width="1" height="1" fill="rgb(50, 113, 221)" opacity="0.85"/>
<rect x="55.0" y="219.3" width="1" height="1" fill="rgb(53, 145, 219)" opacity="0.85"/>
<rect x="56.4" y="227.6" width="1" height="1" fill="rgb(53, 142, 219)" opacity="0.85"/>
<rect x="55.2" y="223.1" width="1" height="1" fill="rgb(50, 123, 224)" opacity="0.85"/>
<rect x="57.4" y="222.2" width="1" height="1" fill="rgb(67, 188, 183)" opacity="0.85"/>
<rect x="59.9" y="209.6" width="1" height="1" fill="rgb(50, 117, 223)" opacity="0.85"/>
<rect x="62.9" y="233.5" width="1" height="1" fill="rgb(60, 185, 209)" opacity="0.85"/>
<rect x="67.4" y="229.5" width="1" height="1" fill="rgb(52, 135, 221)" opacity="0.85"/>
<rect x="58.8" y="212.7" width="1" height="1" fill="rgb(52, 139, 220)" opacity="0.85"/>
<rect x="68.1" y="233.7" width="1" height="1" fill="rgb(52, 135, 221)" opacity="0.85"/>
<rect x="70.2" y="236.0" width="1" height="1" fill="rgb(50, 116, 223)" opacity="0.85"/>
<rect x="65.8" y="242.0" width="1" height="1" fill="rgb(50, 59, 185)" opacity="0.85"/>
<rect x="57.5" y="227.7" width="1" height="1" fill="rgb(53, 145, 219)" opacity="0.85"/>
<rect x="57.9" y="221.3" width="1" height="1" fill="rgb(51, 131, 222)" opacity="0.85"/>
<rect x="59.7" y="233.0" width="1" height="1" fill="rgb(53, 140, 220)" opacity="0.85"/>
<rect x="72.3" y="227.2" width="1" height="1" fill="rgb(50, 99, 211)" opacity="0.85"/>
<rect x="67.1" y="229.6" width="1" height="1" fill="rgb(71, 190, 171)" opacity="0.85"/>
<rect x="70.4" y="237.4" width="1" height="1" fill="rgb(50, 83, 201)" opacity="0.85"/>
<rect x="70.9" y="228.0" width="1" height="1" fill="rgb(50, 122, 224)" opacity="0.85"/>
<rect x="74.6" y="231.7" width="1" height="1" fill="rgb(50, 79, 198)" opacity="0.85"/>
<rect x="67.1" y="217.8" width="1" height="1" fill="rgb(55, 154, 217)" opacity="0.85"/>
<rect x="51.8" y="218.5" width="1" height="1" fill="rgb(50, 63, 188)" opacity="0.85"/>
<rect x="67.8" y="230.6" width="1" height="1" fill="rgb(52, 135, 221)" opacity="0.85"/>
<rect x="62.6" y="214.7" width="1" height="1" fill="rgb(51, 127, 223)" opacity="0.85"/>
<rect x="51.0" y="226.7" width="1" height="1" fill="rgb(50, 51, 181)" opacity="0.85"/>
<rect x="65.7" y="216.8" width="1" height="1" fill="rgb(57, 169, 213)" opacity="0.85"/>
<rect x="66.0" y="217.6" width="1" height="1" fill="rgb(58, 176, 211)" opacity="0.85"/>
<rect x="57.8" y="235.7" width="1" height="1" fill="rgb(50, 114, 221)" opacity="0.85"/>
<rect x="59.7" y="218.3" width="1" height="1" fill="rgb(56, 162, 215)" opacity="0.85"/>
<rect x="71.2" y="229.2" width="1" height="1" fill="rgb(50, 104, 215)" opacity="0.85"/>
<rect x="69.1" y="211.4" width="1" height="1" fill="rgb(50, 103, 214)" opacity="0.85"/>
<rect x="61.7" y="231.9" width="1" height="1" fill="rgb(52, 139, 220)" opacity="0.85"/>
<rect x="58.9" y="229.7" width="1" height="1" fill="rgb(56, 164, 214)" opacity="0.85"/>
<rect x="65.2" y="232.4" width="1" height="1" fill="rgb(50, 120, 224)" opacity="0.85"/>
<rect x="64.1" y="233.8" width="1" height="1" fill="rgb(54, 148, 218)" opacity="0.85"/>
<rect x="63.3" y="213.2" width="1" height="1" fill="rgb(54, 150, 217)" opacity="0.85"/>
<rect x="67.1" y="218.9" width="1" height="1" fill="rgb(56, 162, 215)" opacity="0.85"/>
<rect x="62.1" y="213.5" width="1" height="1" fill="rgb(50, 106, 216)" opacity="0.85"/>
<rect x="69.0" y="210.6" width="1" height="1" fill="rgb(50, 95, 209)" opacity="0.85"/>
<rect x="62.3" y="210.5" width="1" height="1" fill="rgb(50, 86, 203)" opacity="0.85"/>
<rect x="57.1" y="222.7" width="1" height="1" fill="rgb(60, 185, 209)" opacity="0.85"/>
<rect x="66.7" y="210.9" width="1" height="1" fill="rgb(50, 108, 217)" opacity="0.85"/>
<rect x="69.6" y="217.0" width="1" height="1" fill="rgb(53, 144, 219)" opacity="0.85"/>
<rect x="66.7" y="229.2" width="1" height="1" fill="rgb(54, 150, 218)" opacity="0.85"/>
<rect x="66.8" y="215.9" width="1" height="1" fill="rgb(56, 160, 215)" opacity="0.85"/>
<rect x="57.7" y="216.0" width="1" height="1" fill="rgb(51, 129, 222)" opacity="0.85"/>
<rect x="72.8" y="224.3" width="1" height="1" fill="rgb(50, 124, 224)" opacity="0.85"/>
<rect x="56.7" y="223.8" width="1" height="1" fill="rgb(57, 166, 214)" opacity="0.85"/>
<rect x="71.3" y="228.9" width="1" height="1" fill="rgb(50, 105, 215)" opacity="0.85"/>
<rect x="58.1" y="224.3" width="1" height="1" fill="rgb(58, 175, 212)" opacity="0.85"/>
<rect x="59.6" y="212.4" width="1" height="1" fill="rgb(50, 121, 224)" opacity="0.85"/>
<rect x="59.5" y="214.0" width="1" height="1" fill="rgb(53, 141, 220)" opacity="0.85"/>
<rect x="61.7" y="232.6" width="1" height="1" fill="rgb(55, 154, 217)" opacity="0.85"/>
<rect x="75.7" y="221.6" width="1" height="1" fill="rgb(50, 50, 180)" opacity="0.85"/>
<rect x="53.8" y="227.5" width="1" height="1" fill="rgb(52, 135, 221)" opacity="0.85"/>
<rect x="66.5" y="241.3" width="1" height="1" fill="rgb(50, 52, 181)" opacity="0.85"/>
<rect x="50.3" y="221.2" width="1" height="1" fill="rgb(50, 50, 180)" opacity="0.85"/>
<rect x="66.0" y="216.0" width="1" height="1" fill="rgb(62, 186, 202)" opacity="0.85"/>
<rect x="68.2" y="218.9" width="1" height="1" fill="rgb(50, 125, 223)" opacity="0.85"/>
<rect x="69.5" y="224.2" width="1" height="1" fill="rgb(55, 157, 216)" opacity="0.85"/>
<rect x="63.3" y="209.8" width="1" height="1" fill="rgb(50, 79, 199)" opacity="0.85"/>
<rect x="70.8" y="218.8" width="1" height="1" fill="rgb(55, 154, 216)" opacity="0.85"/>
<rect x="62.0" y="230.9" width="1" height="1" fill="rgb(57, 170, 213)" opacity="0.85"/>
<rect x="70.4" y="223.9" width="1" height="1" fill="rgb(52, 134, 221)" opacity="0.85"/>
<rect x="62.7" y="232.8" width="1" height="1" fill="rgb(52, 134, 221)" opacity="0.85"/>
<rect x="54.0" y="237.2" width="1" height="1" fill="rgb(50, 84, 202)" opacity="0.85"/>
<rect x="66.2" y="214.3" width="1" height="1" fill="rgb(57, 171, 213)" opacity="0.85"/>
<rect x="69.6" y="220.6" width="1" height="1" fill="rgb(57, 169, 213)" opacity="0.85"/>
<rect x="71.5" y="227.7" width="1" height="1" fill="rgb(50, 117, 223)" opacity="0.85"/>
<rect x="63.4" y="213.3" width="1" height="1" fill="rgb(50, 119, 224)" opacity="0.85"/>
<rect x="74.9" y="229.1" width="1" height="1" fill="rgb(50, 55, 183)" opacity="0.85"/>
<rect x="58.5" y="225.2" width="1" height="1" fill="rgb(57, 167, 214)" opacity="0.85"/>
<rect x="62.8" y="234.8" width="1" height="1" fill="rgb(50, 119, 224)" opacity="0.85"/>
<rect x="58.3" y="221.4" width="1" height="1" fill="rgb(54, 149, 218)" opacity="0.85"/>
<rect x="68.5" y="219.2" width="1" height="1" fill="rgb(52, 138, 220)" opacity="0.85"/>
<rect x="53.2" y="217.4" width="1" height="1" fill="rgb(50, 103, 214)" opacity="0.85"/>
<rect x="58.6" y="228.0" width="1" height="1" fill="rgb(58, 174, 212)" opacity="0.85"/>
<rect x="59.8" y="228.7" width="1" height="1" fill="rgb(54, 150, 218)" opacity="0.85"/>
<rect x="67.7" y="230.2" width="1" height="1" fill="rgb(57, 169, 213)" opacity="0.85"/>
<rect x="58.6" y="228.7" width="1" height="1" fill="rgb(71, 190, 171)" opacity="0.85"/>
<rect x="69.6" y="211.8" width="1" height="1" fill="rgb(50, 66, 190)" opacity="0.85"/>
<rect x="71.5" y="226.3" width="1" height="1" fill="rgb(55, 155, 216)" opacity="0.85"/>
<rect x="56.3" y="225.6" width="1" height="1" fill="rgb(50, 110, 219)" opacity="0.85"/>
<rect x="53.9" y="234.7" width="1" height="1" fill="rgb(50, 95, 208)" opacity="0.85"/>
<rect x="67.0" y="231.4" width="1" height="1" fill="rgb(57, 170, 213)" opacity="0.85"/>
<rect x="71.2" y="219.7" width="1" height="1" fill="rgb(52, 133, 221)" opacity="0.85"/>
<rect x="63.8" y="215.8" width="1" height="1" fill="rgb(57, 170, 213)" opacity="0.85"/>
<rect x="72.3" y="227.2" width="1" height="1" fill="rgb(50, 96, 210)" opacity="0.85"/>
<rect x="70.0" y="218.9" width="1" height="1" fill="rgb(50, 120, 224)" opacity="0.85"/>
<rect x="57.9" y="215.3" width="1" height="1" fill="rgb(50, 102, 214)" opacity="0.85"/>
<rect x="69.2" y="227.9" width="1" height="1" fill="rgb(56, 162, 215)" opacity="0.85"/>
<rect x="61.4" y="231.8" width="1" height="1" fill="rgb(70, 190, 175)" opacity="0.85"/>
<rect x="56.5" y="211.9" width="1" height="1" fill="rgb(50, 89, 205)" opacity="0.85"/>
<rect x="71.4" y="221.2" width="1" height="1" fill="rgb(50, 112, 220)" opacity="0.85"/>
<rect x="69.5" y="225.2" width="1" height="1" fill="rgb(58, 173, 212)" opacity="0.85"/>
<rect x="57.3" y="209.4" width="1" height="1" fill="rgb(50, 62, 187)" opacity="0.85"/>
<rect x="68.0" y="225.4" width="1" height="1" fill="rgb(58, 178, 211)" opacity="0.85"/>
<rect x="65.8" y="212.4" width="1" height="1" fill="rgb(50, 119, 224)" opacity="0.85"/>
<rect x="59.6" y="236.7" width="1" height="1" fill="rgb(50, 89, 205)" opacity="0.85"/>
<rect x="64.9" y="236.3" width="1" height="1" fill="rgb(50, 103, 214)" opacity="0.85"/>
<rect x="69.2" y="221.4" width="1" height="1" fill="rgb(52, 136, 221)" opacity="0.85"/>
<rect x="64.2" y="231.6" width="1" height="1" fill="rgb(60, 185, 209)" opacity="0.85"/>
<rect x="54.4" y="233.8" width="1" height="1" fill="rgb(50, 107, 217)" opacity="0.85"/>
<rect x="68.2" y="240.0" width="1" height="1" fill="rgb(50, 86, 203)" opacity="0.85"/>
<rect x="71.0" y="226.2" width="1" height="1" fill="rgb(50, 123, 224)" opacity="0.85"/>
<rect x="62.4" y="230.8" width="1" height="1" fill="rgb(80, 195, 142)" opacity="0.85"/>
<rect x="73.1" y="237.4" width="1" height="1" fill="rgb(50, 50, 180)" opacity="0.85"/>
<rect x="57.2" y="234.8" width="1" height="1" fill="rgb(50, 123, 224)" opacity="0.85"/>
<rect x="58.2" y="225.2" width="1" height="1" fill="rgb(76, 193, 155)" opacity="0.85"/>
<rect x="65.1" y="230.6" width="1" height="1" fill="rgb(76, 193, 156)" opacity="0.85"/>
<rect x="68.7" y="225.4" width="1" height="1" fill="rgb(67, 188, 183)" opacity="0.85"/>
<rect x="63.1" y="208.2" width="1" height="1" fill="rgb(50, 77, 197)" opacity="0.85"/>
<rect x="61.4" y="242.5" width="1" height="1" fill="rgb(50, 68, 191)" opacity="0.85"/>
<rect x="62.7" y="235.7" width="1" height="1" fill="rgb(50, 111, 219)" opacity="0.85"/>
<rect x="63.7" y="207.5" width="1" height="1" fill="rgb(50, 88, 204)" opacity="0.85"/>
<rect x="63.9" y="232.4" width="1" height="1" fill="rgb(68, 189, 180)" opacity="0.85"/>
<rect x="68.3" y="221.9" width="1" height="1" fill="rgb(55, 157, 216)" opacity="0.85"/>
<rect x="57.7" y="227.7" width="1" height="1" fill="rgb(65, 187, 190)" opacity="0.85"/>
<rect x="67.2" y="236.2" width="1" height="1" fill="rgb(50, 122, 224)" opacity="0.85"/>
<rect x="67.3" y="212.6" width="1" height="1" fill="rgb(50, 119, 224)" opacity="0.85"/>
<rect x="57.3" y="233.9" width="1" height="1" fill="rgb(50, 88, 204)" opacity="0.85"/>
<rect x="66.2" y="235.7" width="1" height="1" fill="rgb(50, 102, 213)" opacity="0.85"/>
<rect x="74.2" y="222.1" width="1" height="1" fill="rgb(50, 117, 223)" opacity="0.85"/>
<rect x="68.4" y="229.0" width="1" height="1" fill="rgb(58, 176, 211)" opacity="0.85"/>
<rect x="56.9" y="229.1" width="1" height="1" fill="rgb(55, 154, 217)" opacity="0.85"/>
<rect x="63.2" y="209.6" width="1" height="1" fill="rgb(50, 108, 217)" opacity="0.85"/>
<rect x="70.7" y="233.8" width="1" height="1" fill="rgb(50, 89, 205)" opacity="0.85"/>
<rect x="58.6" y="221.1" width="1" height="1" fill="rgb(67, 188, 184)" opacity="0.85"/>
<rect x="68.5" y="217.5" width="1" height="1" fill="rgb(52, 134, 221)" opacity="0.85"/>
<rect x="66.1" y="213.9" width="1" height="1" fill="rgb(58, 173, 212)" opacity="0.85"/>
<rect x="68.1" y="229.0" width="1" height="1" fill="rgb(62, 186, 202)" opacity="0.85"/>
<rect x="69.7" y="210.2" width="1" height="1" fill="rgb(50, 55, 183)" opacity="0.85"/>
<rect x="52.7" y="215.5" width="1" height="1" fill="rgb(50, 68, 191)" opacity="0.85"/>
<rect x="67.2" y="218.0" width="1" height="1" fill="rgb(54, 148, 218)" opacity="0.85"/>
<rect x="65.5" y="206.4" width="1" height="1" fill="rgb(50, 50, 180)" opacity="0.85"/>
<rect x="57.2" y="218.1" width="1" height="1" fill="rgb(50, 119, 224)" opacity="0.85"/>
<rect x="57.0" y="217.7" width="1" height="1" fill="rgb(50, 114, 221)" opacity="0.85"/>
<rect x="65.2" y="215.0" width="1" height="1" fill="rgb(50, 118, 224)" opacity="0.85"/>
<rect x="67.6" y="228.4" width="1" height="1" fill="rgb(59, 179, 211)" opacity="0.85"/>
<rect x="67.5" y="233.8" width="1" height="1" fill="rgb(50, 120, 224)" opacity="0.85"/>
<rect x="58.7" y="221.2" width="1" height="1" fill="rgb(58, 174, 212)" opacity="0.85"/>
<rect x="74.7" y="224.6" width="1" height="1" fill="rgb(50, 81, 200)" opacity="0.85"/>
<rect x="65.6" y="217.2" width="1" height="1" fill="rgb(71, 190, 171)" opacity="0.85"/>
<rect x="70.0" y="224.9" width="1" height="1" fill="rgb(56, 162, 215)" opacity="0.85"/>
<rect x="59.6" y="219.0" width="1" height="1" fill="rgb(59, 179, 211)" opacity="0.85"/>
<rect x="51.3" y="221.8" width="1" height="1" fill="rgb(50, 55, 183)" opacity="0.85"/>
<rect x="53.7" y="224.8" width="1" height="1" fill="rgb(52, 139, 220)" opacity="0.85"/>
<rect x="68.0" y="220.7" width="1" height="1" fill="rgb(74, 192, 162)" opacity="0.85"/>
<rect x="56.1" y="214.5" width="1" height="1" fill="rgb(50, 85, 202)" opacity="0.85"/>
<rect x="54.8" y="232.1" width="1" height="1" fill="rgb(50, 117, 223)" opacity="0.85"/>
<rect x="58.1" y="229.3" width="1" height="1" fill="rgb(54, 148, 218)" opacity="0.85"/>
<rect x="61.5" y="208.4" width="1" height="1" fill="rgb(50, 61, 187)" opacity="0.85"/>
<rect x="55.0" y="219.2" width="1" height="1" fill="rgb(50, 90, 205)" opacity="0.85"/>
<rect x="57.8" y="218.5" width="1" height="1" fill="rgb(56, 162, 215)" opacity="0.85"/>
<rect x="61.4" y="231.3" width="1" height="1" fill="rgb(58, 178, 211)" opacity="0.85"/>
<rect x="56.3" y="228.9" width="1" height="1" fill="rgb(51, 129, 222)" opacity="0.85"/>
<rect x="58.8" y="218.2" width="1" height="1" fill="rgb(53, 140, 220)" opacity="0.85"/>
<rect x="64.1" y="211.2" width="1" height="1" fill="rgb(50, 109, 218)" opacity="0.85"/>
<rect x="65.9" y="231.6" width="1" height="1" fill="rgb(52, 133, 221)" opacity="0.85"/>
<rect x="67.2" y="229.7" width="1" height="1" fill="rgb(52, 138, 220)" opacity="0.85"/>
<rect x="57.4" y="227.2" width="1" height="1" fill="rgb(50, 122, 224)" opacity="0.85"/>
<rect x="62.3" y="211.2" width="1" height="1" fill="rgb(50, 113, 220)" opacity="0.85"/>
<rect x="69.2" y="226.9" width="1" height="1" fill="rgb(54, 149, 218)" opacity="0.85"/>
<rect x="62.2" y="210.5" width="1" height="1" fill="rgb(50, 88, 204)" opacity="0.85"/>
<rect x="69.4" y="223.0" width="1" height="1" fill="rgb(67, 188, 185)" opacity="0.85"/>
<rect x="66.2" y="207.4" width="1" height="1" fill="rgb(50, 50, 180)" opacity="0.85"/>
<rect x="58.0" y="234.0" width="1" height="1" fill="rgb(50, 96, 210)" opacity="0.85"/>
<rect x="51.3" y="223.8" width="1" height="1" fill="rgb(50, 63, 188)" opacity="0.85"/>
<rect x="62.8" y="232.8" width="1" height="1" fill="rgb(53, 144, 219)" opacity="0.85"/>
<rect x="69.9" y="238.8" width="1" height="1" fill="rgb(50, 82, 201)" opacity="0.85"/>
<rect x="55.9" y="222.0" width="1" height="1" fill="rgb(51, 126, 223)" opacity="0.85"/>
<rect x="68.0" y="217.2" width="1" height="1" fill="rgb(55, 157, 216)" opacity="0.85"/>
<rect x="70.8" y="223.5" width="1" height="1" fill="rgb(51, 130, 222)" opacity="0.85"/>
<rect x="70.3" y="223.4" width="1" height="1" fill="rgb(52, 136, 221)" opacity="0.85"/>
<rect x="63.8" y="216.0" width="1" height="1" fill="rgb(53, 143, 219)" opacity="0.85"/>
<rect x="56.6" y="218.4" width="1" height="1" fill="rgb(50, 118, 224)" opacity="0.85"/>
<rect x="67.7" y="232.3" width="1" height="1" fill="rgb(52, 136, 221)" opacity="0.85"/>
<rect x="52.0" y="222.7" width="1" height="1" fill="rgb(50, 66, 190)" opacity="0.85"/>
<rect x="64.4" y="234.7" width="1" height="1" fill="rgb(50, 103, 214)" opacity="0.85"/>
<rect x="68.3" y="224.1" width="1" height="1" fill="rgb(54, 151, 217)" opacity="0.85"/>
<rect x="57.2" y="219.0" width="1" height="1" fill="rgb(50, 122, 224)" opacity="0.85"/>
<rect x="59.0" y="218.1" width="1" height="1" fill="rgb(52, 135, 221)" opacity="0.85"/>
<rect x="56.3" y="212.5" width="1" height="1" fill="rgb(50, 109, 218)" opacity="0.85"/>
<rect x="70.9" y="224.8" width="1" height="1" fill="rgb(53, 141, 220)" opacity="0.85"/>
<rect x="58.8" y="232.6" width="1" height="1" fill="rgb(51, 131, 222)" opacity="0.85"/>
<rect x="71.3" y="219.4" width="1" height="1" fill="rgb(50, 105, 215)" opacity="0.85"/>
<rect x="58.0" y="222.5" width="1" height="1" fill="rgb(55, 153, 217)" opacity="0.85"/>
<rect x="71.9" y="228.6" width="1" height="1" fill="rgb(50, 85, 202)" opacity="0.85"/>
<rect x="51.3" y="218.5" width="1" height="1" fill="rgb(50, 50, 180)" opacity="0.85"/>
<rect x="65.6" y="233.6" width="1" height="1" fill="rgb(53, 143, 219)" opacity="0.85"/>
<rect x="57.2" y="213.5" width="1" height="1" fill="rgb(50, 88, 204)" opacity="0.85"/>
<rect x="73.9" y="228.7" width="1" height="1" fill="rgb(50, 104, 215)" opacity="0.85"/>
<rect x="68.2" y="213.8" width="1" height="1" fill="rgb(50, 115, 222)" opacity="0.85"/>
<rect x="63.0" y="215.9" width="1" height="1" fill="rgb(53, 145, 219)" opacity="0.85"/>
<rect x="68.0" y="225.6" width="1" height="1" fill="rgb(71, 190, 170)" opacity="0.85"/>
<rect x="59.8" y="210.5" width="1" height="1" fill="rgb(50, 111, 219)" opacity="0.85"/>
<rect x="62.6" y="233.4" width="1" height="1" fill="rgb(54, 146, 218)" opacity="0.85"/>
<rect x="64.8" y="215.2" width="1" height="1" fill="rgb(52, 138, 220)" opacity="0.85"/>
<rect x="54.6" y="209.1" width="1" height="1" fill="rgb(50, 50, 180)" opacity="0.85"/>
<rect x="62.8" y="206.2" width="1" height="1" fill="rgb(50, 82, 201)" opacity="0.85"/>
<rect x="58.2" y="237.5" width="1" height="1" fill="rgb(50, 81, 200)" opacity="0.85"/>
<rect x="64.1" y="240.1" width="1" height="1" fill="rgb(50, 90, 206)" opacity="0.85"/>
<rect x="60.5" y="213.7" width="1" height="1" fill="rgb(57, 170, 213)" opacity="0.85"/>
<rect x="53.3" y="226.7" width="1" height="1" fill="rgb(50, 112, 219)" opacity="0.85"/>
<rect x="66.9" y="217.8" width="1" height="1" fill="rgb(61, 185, 205)" opacity="0.85"/>
<rect x="65.1" y="234.1" width="1" height="1" fill="rgb(50, 110, 219)" opacity="0.85"/>
<rect x="67.7" y="221.1" width="1" height="1" fill="rgb(55, 155, 216)" opacity="0.85"/>
<rect x="60.6" y="214.2" width="1" height="1" fill="rgb(55, 153, 217)" opacity="0.85"/>
<rect x="59.0" y="220.2" width="1" height="1" fill="rgb(72, 191, 168)" opacity="0.85"/>
<rect x="68.0" y="209.9" width="1" height="1" fill="rgb(50, 64, 189)" opacity="0.85"/>
<rect x="71.3" y="211.9" width="1" height="1" fill="rgb(50, 106, 216)" opacity="0.85"/>
<rect x="68.9" y="212.9" width="1" height="1" fill="rgb(50, 114, 221)" opacity="0.85"/>
<rect x="66.7" y="214.7" width="1" height="1" fill="rgb(50, 122, 224)" opacity="0.85"/>
<rect x="60.9" y="231.1" width="1" height="1" fill="rgb(52, 134, 221)" opacity="0.85"/>
<rect x="62.2" y="217.1" width="1" height="1" fill="rgb(57, 165, 214)" opacity="0.85"/>
<rect x="69.4" y="222.0" width="1" height="1" fill="rgb(61, 185, 206)" opacity="0.85"/>
<rect x="58.4" y="228.1" width="1" height="1" fill="rgb(63, 186, 197)" opacity="0.85"/>
<rect x="58.6" y="233.5" width="1" height="1" fill="rgb(51, 128, 223)" opacity="0.85"/>
<rect x="65.5" y="238.4" width="1" height="1" fill="rgb(50, 73, 194)" opacity="0.85"/>
<rect x="69.5" y="224.2" width="1" height="1" fill="rgb(56, 160, 215)" opacity="0.85"/>
<rect x="58.4" y="224.2" width="1" height="1" fill="rgb(74, 192, 161)" opacity="0.85"/>
<rect x="62.5" y="241.7" width="1" height="1" fill="rgb(50, 57, 184)" opacity="0.85"/>
<rect x="65.1" y="235.2" width="1" height="1" fill="rgb(50, 126, 223)" opacity="0.85"/>
<rect x="69.1" y="230.7" width="1" height="1" fill="rgb(50, 109, 218)" opacity="0.85"/>
<rect x="65.2" y="212.9" width="1" height="1" fill="rgb(54, 149, 218)" opacity="0.85"/>
<rect x="59.8" y="219.0" width="1" height="1" fill="rgb(58, 173, 212)" opacity="0.85"/>
<rect x="54.5" y="233.6" width="1" height="1" fill="rgb(50, 65, 189)" opacity="0.85"/>
<rect x="68.4" y="218.9" width="1" height="1" fill="rgb(54, 150, 217)" opacity="0.85"/>
<rect x="56.9" y="226.2" width="1" height="1" fill="rgb(58, 174, 212)" opacity="0.85"/>
<rect x="63.4" y="213.3" width="1" height="1" fill="rgb(50, 124, 224)" opacity="0.85"/>
<rect x="67.6" y="214.9" width="1" height="1" fill="rgb(54, 152, 217)" opacity="0.85"/>
<rect x="66.1" y="231.0" width="1" height="1" fill="rgb(63, 186, 198)" opacity="0.85"/>
<rect x="52.5" y="227.6" width="1" height="1" fill="rgb(50, 75, 196)" opacity="0.85"/>
<rect x="60.3" y="210.3" width="1" height="1" fill="rgb(50, 80, 199)" opacity="0.85"/>
<rect x="60.3" y="232.0" width="1" height="1" fill="rgb(51, 130, 222)" opacity="0.85"/>
<rect x="71.8" y="222.1" width="1" height="1" fill="rgb(50, 98, 210)" opacity="0.85"/>
<rect x="65.7" y="212.4" width="1" height="1" fill="rgb(50, 115, 222)" opacity="0.85"/>
<rect x="65.8" y="234.0" width="1" height="1" fill="rgb(50, 110, 218)" opacity="0.85"/>
<rect x="64.7" y="231.1" width="1" height="1" fill="rgb(53, 140, 220)" opacity="0.85"/>
<rect x="55.7" y="231.8" width="1" height="1" fill="rgb(50, 121, 224)" opacity="0.85"/>
<rect x="55.8" y="224.0" width="1" height="1" fill="rgb(52, 135, 221)" opacity="0.85"/>
<rect x="67.9" y="231.8" width="1" height="1" fill="rgb(52, 135, 221)" opacity="0.85"/>
<rect x="62.6" y="207.8" width="1" height="1" fill="rgb(50, 79, 198)" opacity="0.85"/>
<rect x="55.4" y="218.5" width="1" height="1" fill="rgb(50, 112, 220)" opacity="0.85"/>
<rect x="64.4" y="235.8" width="1" height="1" fill="rgb(54, 151, 217)" opacity="0.85"/>
<rect x="64.5" y="212.6" width="1" height="1" fill="rgb(55, 153, 217)" opacity="0.85"/>
<rect x="60.0" y="214.4" width="1" height="1" fill="rgb(52, 133, 221)" opacity="0.85"/>
<rect x="60.4" y="233.6" width="1" height="1" fill="rgb(50, 111, 219)" opacity="0.85"/>
<rect x="55.2" y="230.3" width="1" height="1" fill="rgb(50, 125, 223)" opacity="0.85"/>
<rect x="58.1" y="227.8" width="1" height="1" fill="rgb(58, 176, 212)" opacity="0.85"/>
<rect x="56.6" y="230.0" width="1" height="1" fill="rgb(56, 164, 214)" opacity="0.85"/>
<rect x="66.5" y="233.9" width="1" height="1" fill="rgb(55, 156, 216)" opacity="0.85"/>
<rect x="58.6" y="229.5" width="1" height="1" fill="rgb(68, 189, 182)" opacity="0.85"/>
<rect x="69.8" y="226.2" width="1" height="1" fill="rgb(51, 126, 223)" opacity="0.85"/>
<rect x="65.8" y="206.7" width="1" height="1" fill="rgb(50, 72, 194)" opacity="0.85"/>
<rect x="68.9" y="229.7" width="1" height="1" fill="rgb(54, 151, 217)" opacity="0.85"/>
<rect x="62.0" y="215.3" width="1" height="1" fill="rgb(57, 168, 213)" opacity="0.85"/>
<rect x="66.4" y="216.1" width="1" height="1" fill="rgb(54, 149, 218)" opacity="0.85"/>
<rect x="61.2" y="217.2" width="1" height="1" fill="rgb(67, 188, 186)" opacity="0.85"/>
<rect x="62.5" y="231.4" width="1" height="1" fill="rgb(52, 137, 221)" opacity="0.85"/>
<rect x="58.5" y="227.8" width="1" height="1" fill="rgb(61, 185, 205)" opacity="0.85"/>
<rect x="64.7" y="236.0" width="1" height="1" fill="rgb(54, 152, 217)" opacity="0.85"/>
<rect x="65.0" y="217.0" width="1" height="1" fill="rgb(55, 153, 217)" opacity="0.85"/>
<rect x="69.6" y="233.3" width="1" height="1" fill="rgb(52, 134, 221)" opacity="0.85"/>
<rect x="59.3" y="217.8" width="1" height="1" fill="rgb(57, 169, 213)" opacity="0.85"/>
<rect x="65.4" y="242.9" width="1" height="1" fill="rgb(50, 50, 180)" opacity="0.85"/>
<rect x="57.0" y="213.5" width="1" height="1" fill="rgb(50, 124, 224)" opacity="0.85"/>
<rect x="65.8" y="218.0" width="1" height="1" fill="rgb(74, 192, 160)" opacity="0.85"/>
<rect x="62.7" y="231.2" width="1" height="1" fill="rgb(56, 159, 215)" opacity="0.85"/>
<rect x="71.8" y="224.2" width="1" height="1" fill="rgb(50, 109, 217)" opacity="0.85"/>
<rect x="57.7" y="225.0" width="1" height="1" fill="rgb(59, 181, 210)" opacity="0.85"/>
<rect x="60.6" y="218.1" width="1" height="1" fill="rgb(77, 193, 150)" opacity="0.85"/>
<rect x="68.7" y="209.8" width="1" height="1" fill="rgb(50, 100, 212)" opacity="0.85"/>
<rect x="69.7" y="234.8" width="1" height="1" fill="rgb(50, 110, 218)" opacity="0.85"/>
<rect x="70.7" y="220.8" width="1" height="1" fill="rgb(50, 116, 222)" opacity="0.85"/>
<rect x="64.2" y="236.8" width="1" height="1" fill="rgb(50, 104, 214)" opacity="0.85"/>
<rect x="69.9" y="237.1" width="1" height="1" fill="rgb(50, 100, 212)" opacity="0.85"/>
<rect x="68.8" y="237.6" width="1" height="1" fill="rgb(50, 94, 208)" opacity="0.85"/>
<rect x="64.8" y="213.2" width="1" height="1" fill="rgb(56, 162, 215)" opacity="0.85"/>
<rect x="65.7" y="210.2" width="1" height="1" fill="rgb(50, 84, 201)" opacity="0.85"/>
<rect x="61.0" y="215.5" width="1" height="1" fill="rgb(58, 174, 212)" opacity="0.85"/>
<rect x="53.1" y="229.8" width="1" height="1" fill="rgb(50, 93, 208)" opacity="0.85"/>
<rect x="67.3" y="230.6" width="1" height="1" fill="rgb(51, 126, 223)" opacity="0.85"/>
<rect x="57.1" y="224.5" width="1" height="1" fill="rgb(56, 163, 215)" opacity="0.85"/>
<rect x="66.5" y="217.0" width="1" height="1" fill="rgb(57, 169, 213)" opacity="0.85"/>
<rect x="58.1" y="211.8" width="1" height="1" fill="rgb(50, 93, 208)" opacity="0.85"/>
<rect x="51.5" y="233.2" width="1" height="1" fill="rgb(50, 50, 180)" opacity="0.85"/>
<rect x="58.4" y="216.0" width="1" height="1" fill="rgb(50, 106, 216)" opacity="0.85"/>
<rect x="57.1" y="216.9" width="1" height="1" fill="rgb(56, 163, 215)" opacity="0.85"/>
<rect x="57.2" y="223.4" width="1" height="1" fill="rgb(65, 187, 192)" opacity="0.85"/>
<rect x="71.6" y="226.5" width="1" height="1" fill="rgb(51, 132, 222)" opacity="0.85"/>
<rect x="57.7" y="236.5" width="1" height="1" fill="rgb(50, 88, 204)" opacity="0.85"/>
<rect x="56.9" y="225.4" width="1" height="1" fill="rgb(58, 177, 211)" opacity="0.85"/>
<rect x="64.7" y="231.7" width="1" height="1" fill="rgb(56, 163, 214)" opacity="0.85"/>
<rect x="53.9" y="219.4" width="1" height="1" fill="rgb(50, 92, 207)" opacity="0.85"/>
<rect x="65.8" y="217.3" width="1" height="1" fill="rgb(58, 174, 212)" opacity="0.85"/>
<rect x="62.4" y="232.7" width="1" height="1" fill="rgb(66, 188, 187)" opacity="0.85"/>
<rect x="58.0" y="213.2" width="1" height="1" fill="rgb(50, 100, 212)" opacity="0.85"/>
<rect x="56.8" y="218.6" width="1" height="1" fill="rgb(56, 160, 215)" opacity="0.85"/>
<rect x="71.6" y="227.0" width="1" height="1" fill="rgb(54, 151, 217)" opacity="0.85"/>
<rect x="67.7" y="239.5" width="1" height="1" fill="rgb(50, 84, 202)" opacity="0.85"/>
<rect x="58.2" y="213.1" width="1" height="1" fill="rgb(52, 138, 220)" opacity="0.85"/>
<rect x="57.7" y="217.4" width="1" height="1" fill="rgb(54, 151, 217)" opacity="0.85"/>
<rect x="60.9" y="214.6" width="1" height="1" fill="rgb(55, 158, 216)" opacity="0.85"/>
<rect x="65.1" y="234.7" width="1" height="1" fill="rgb(51, 129, 222)" opacity="0.85"/>
<rect x="65.1" y="207.8" width="1" height="1" fill="rgb(50, 90, 205)" opacity="0.85"/>
<rect x="56.6" y="234.1" width="1" height="1" fill="rgb(50, 120, 224)" opacity="0.85"/>
<rect x="61.5" y="231.3" width="1" height="1" fill="rgb(55, 157, 216)" opacity="0.85"/>
<rect x="56.4" y="228.5" width="1" height="1" fill="rgb(57, 170, 213)" opacity="0.85"/>
<rect x="69.8" y="227.2" width="1" height="1" fill="rgb(50, 115, 221)" opacity="0.85"/>
<rect x="70.4" y="233.2" width="1" height="1" fill="rgb(50, 111, 219)" opacity="0.85"/>
<rect x="68.3" y="220.1" width="1" height="1" fill="rgb(51, 130, 222)" opacity="0.85"/>
<rect x="57.9" y="230.5" width="1" height="1" fill="rgb(59, 179, 211)" opacity="0.85"/>
<rect x="69.3" y="223.0" width="1" height="1" fill="rgb(55, 156, 216)" opacity="0.85"/>
<rect x="69.4" y="230.4" width="1" height="1" fill="rgb(50, 115, 222)" opacity="0.85"/>
<rect x="71.4" y="224.3" width="1" height="1" fill="rgb(50, 105, 215)" opacity="0.85"/>
<rect x="71.7" y="225.3" width="1" height="1" fill="rgb(50, 107, 216)" opacity="0.85"/>
<rect x="72.0" y="228.0" width="1" height="1" fill="rgb(51, 127, 223)" opacity="0.85"/>
<rect x="68.6" y="214.6" width="1" height="1" fill="rgb(50, 96, 210)" opacity="0.85"/>
<rect x="57.5" y="215.6" width="1" height="1" fill="rgb(50, 121, 224)" opacity="0.85"/>
<rect x="71.5" y="221.4" width="1" height="1" fill="rgb(50, 94, 208)" opacity="0.85"/>
<rect x="71.0" y="225.0" width="1" height="1" fill="rgb(56, 160, 215)" opacity="0.85"/>
<rect x="67.2" y="217.4" width="1" height="1" fill="rgb(51, 127, 223)" opacity="0.85"/>
<rect x="58.6" y="231.2" width="1" height="1" fill="rgb(53, 143, 219)" opacity="0.85"/>
<rect x="64.8" y="217.3" width="1" height="1" fill="rgb(64, 187, 196)" opacity="0.85"/>
<rect x="59.5" y="218.4" width="1" height="1" fill="rgb(56, 163, 214)" opacity="0.85"/>
<rect x="66.2" y="206.6" width="1" height="1" fill="rgb(50, 84, 202)" opacity="0.85"/>
<rect x="60.4" y="210.7" width="1" height="1" fill="rgb(50, 94, 208)" opacity="0.85"/>
<rect x="66.8" y="215.2" width="1" height="1" fill="rgb(51, 128, 222)" opacity="0.85"/>
<rect x="53.3" y="230.7" width="1" height="1" fill="rgb(50, 82, 200)" opacity="0.85"/>
<rect x="60.4" y="214.8" width="1" height="1" fill="rgb(58, 174, 212)" opacity="0.85"/>
<rect x="57.1" y="228.6" width="1" height="1" fill="rgb(57, 170, 213)" opacity="0.85"/>
<rect x="68.2" y="212.3" width="1" height="1" fill="rgb(51, 129, 222)" opacity="0.85"/>
<rect x="69.0" y="213.2" width="1" height="1" fill="rgb(50, 117, 223)" opacity="0.85"/>
<rect x="67.5" y="220.5" width="1" height="1" fill="rgb(54, 150, 217)" opacity="0.85"/>
<rect x="54.3" y="219.6" width="1" height="1" fill="rgb(50, 92, 207)" opacity="0.85"/>
<rect x="63.3" y="206.8" width="1" height="1" fill="rgb(50, 59, 186)" opacity="0.85"/>
<rect x="57.0" y="217.1" width="1" height="1" fill="rgb(51, 127, 223)" opacity="0.85"/>
<rect x="63.4" y="210.9" width="1" height="1" fill="rgb(50, 107, 217)" opacity="0.85"/>
<rect x="71.5" y="231.0" width="1" height="1" fill="rgb(50, 123, 224)" opacity="0.85"/>
<rect x="64.1" y="233.7" width="1" height="1" fill="rgb(58, 178, 211)" opacity="0.85"/>
<rect x="68.2" y="218.1" width="1" height="1" fill="rgb(55, 154, 216)" opacity="0.85"/>
<rect x="61.8" y="217.3" width="1" height="1" fill="rgb(60, 185, 208)" opacity="0.85"/>
<rect x="58.0" y="229.1" width="1" height="1" fill="rgb(51, 129, 222)" opacity="0.85"/>
<rect x="57.0" y="214.3" width="1" height="1" fill="rgb(50, 91, 206)" opacity="0.85"/>
<rect x="59.3" y="220.1" width="1" height="1" fill="rgb(59, 184, 210)" opacity="0.85"/>
<rect x="73.9" y="223.1" width="1" height="1" fill="rgb(50, 94, 208)" opacity="0.85"/>
<rect x="64.3" y="216.3" width="1" height="1" fill="rgb(72, 191, 167)" opacity="0.85"/>
<rect x="64.4" y="210.4" width="1" height="1" fill="rgb(52, 135, 221)" opacity="0.85"/>
<rect x="53.2" y="218.7" width="1" height="1" fill="rgb(50, 91, 206)" opacity="0.85"/>
<rect x="74.3" y="218.7" width="1" height="1" fill="rgb(50, 58, 185)" opacity="0.85"/>
<rect x="58.9" y="219.7" width="1" height="1" fill="rgb(53, 145, 219)" opacity="0.85"/>
<rect x="56.3" y="219.8" width="1" height="1" fill="rgb(58, 172, 212)" opacity="0.85"/>
<rect x="60.7" y="217.5" width="1" height="1" fill="rgb(57, 171, 213)" opacity="0.85"/>
<rect x="70.7" y="240.2" width="1" height="1" fill="rgb(50, 84, 201)" opacity="0.85"/>
<rect x="63.1" y="230.9" width="1" height="1" fill="rgb(77, 193, 151)" opacity="0.85"/>
<rect x="71.7" y="216.0" width="1" height="1" fill="rgb(50, 76, 196)" opacity="0.85"/>
<rect x="65.2" y="212.7" width="1" height="1" fill="rgb(52, 135, 221)" opacity="0.85"/>
<rect x="68.8" y="233.8" width="1" height="1" fill="rgb(54, 149, 218)" opacity="0.85"/>
<rect x="55.8" y="217.2" width="1" height="1" fill="rgb(50, 93, 208)" opacity="0.85"/>
<rect x="67.6" y="230.0" width="1" height="1" fill="rgb(52, 136, 221)" opacity="0.85"/>
<rect x="75.2" y="227.8" width="1" height="1" fill="rgb(50, 60, 186)" opacity="0.85"/>
<rect x="73.1" y="218.0" width="1" height="1" fill="rgb(50, 116, 222)" opacity="0.85"/>
<rect x="67.0" y="230.2" width="1" height="1" fill="rgb(52, 136, 221)" opacity="0.85"/>
<rect x="72.5" y="217.8" width="1" height="1" fill="rgb(50, 107, 217)" opacity="0.85"/>
<rect x="58.7" y="226.0" width="1" height="1" fill="rgb(74, 192, 160)" opacity="0.85"/>
<rect x="55.9" y="225.5" width="1" height="1" fill="rgb(50, 113, 221)" opacity="0.85"/>
<rect x="61.8" y="214.8" width="1" height="1" fill="rgb(50, 123, 224)" opacity="0.85"/>
<rect x="62.0" y="238.1" width="1" height="1" fill="rgb(50, 91, 206)" opacity="0.85"/>
<rect x="66.4" y="231.5" width="1" height="1" fill="rgb(54, 147, 218)" opacity="0.85"/>
<rect x="69.5" y="217.3" width="1" height="1" fill="rgb(50, 112, 220)" opacity="0.85"/>
<rect x="75.4" y="223.8" width="1" height="1" fill="rgb(50, 54, 183)" opacity="0.85"/>
<rect x="60.5" y="239.3" width="1" height="1" fill="rgb(50, 62, 187)" opacity="0.85"/>
<rect x="65.0" y="217.7" width="1" height="1" fill="rgb(55, 155, 216)" opacity="0.85"/>
<rect x="73.4" y="224.2" width="1" height="1" fill="rgb(50, 104, 214)" opacity="0.85"/>
<rect x="65.5" y="231.3" width="1" height="1" fill="rgb(70, 190, 175)" opacity="0.85"/>
<rect x="64.7" y="233.5" width="1" height="1" fill="rgb(50, 120, 224)" opacity="0.85"/>
<rect x="67.2" y="235.5" width="1" height="1" fill="rgb(51, 127, 223)" opacity="0.85"/>
<rect x="69.5" y="229.3" width="1" height="1" fill="rgb(53, 142, 219)" opacity="0.85"/>
<rect x="57.0" y="216.5" width="1" height="1" fill="rgb(54, 148, 218)" opacity="0.85"/>
<rect x="71.2" y="228.8" width="1" height="1" fill="rgb(50, 114, 221)" opacity="0.85"/>
<rect x="65.1" y="217.8" width="1" height="1" fill="rgb(76, 193, 155)" opacity="0.85"/>
<rect x="67.4" y="217.5" width="1" height="1" fill="rgb(50, 123, 224)" opacity="0.85"/>
<rect x="68.4" y="219.5" width="1" height="1" fill="rgb(64, 187, 194)" opacity="0.85"/>
<rect x="65.8" y="217.8" width="1" height="1" fill="rgb(55, 153, 217)" opacity="0.85"/>
<rect x="58.4" y="231.2" width="1" height="1" fill="rgb(50, 110, 218)" opacity="0.85"/>
<rect x="57.6" y="223.0" width="1" height="1" fill="rgb(57, 169, 213)" opacity="0.85"/>
<rect x="69.4" y="232.1" width="1" height="1" fill="rgb(54, 147, 218)" opacity="0.85"/>
<rect x="62.0" y="217.0" width="1" height="1" fill="rgb(67, 188, 184)" opacity="0.85"/>
<rect x="73.3" y="229.6" width="1" height="1" fill="rgb(50, 118, 224)" opacity="0.85"/>
<rect x="56.9" y="224.3" width="1" height="1" fill="rgb(56, 160, 215)" opacity="0.85"/>
<rect x="63.3" y="237.7" width="1" height="1" fill="rgb(50, 79, 198)" opacity="0.85"/>
<rect x="70.1" y="230.5" width="1" height="1" fill="rgb(50, 107, 216)" opacity="0.85"/>
<rect x="70.5" y="225.1" width="1" height="1" fill="rgb(54, 150, 218)" opacity="0.85"/>
<rect x="55.1" y="222.3" width="1" height="1" fill="rgb(50, 101, 213)" opacity="0.85"/>
<rect x="69.1" y="215.4" width="1" height="1" fill="rgb(50, 96, 209)" opacity="0.85"/>
<rect x="67.7" y="230.0" width="1" height="1" fill="rgb(56, 160, 215)" opacity="0.85"/>
<rect x="54.4" y="216.0" width="1" height="1" fill="rgb(50, 76, 197)" opacity="0.85"/>
<rect x="55.4" y="218.6" width="1" height="1" fill="rgb(50, 98, 211)" opacity="0.85"/>
<rect x="69.1" y="208.5" width="1" height="1" fill="rgb(50, 66, 190)" opacity="0.85"/>
<rect x="54.4" y="230.8" width="1" height="1" fill="rgb(50, 102, 213)" opacity="0.85"/>
<rect x="53.3" y="234.8" width="1" height="1" fill="rgb(50, 86, 203)" opacity="0.85"/>
<rect x="60.4" y="230.8" width="1" height="1" fill="rgb(73, 191, 164)" opacity="0.85"/>
<rect x="67.2" y="208.6" width="1" height="1" fill="rgb(50, 99, 211)" opacity="0.85"/>
<rect x="50.0" y="222.0" width="1" height="1" fill="rgb(50, 86, 203)" opacity="0.85"/>
<rect x="63.3" y="231.8" width="1" height="1" fill="rgb(59, 182, 210)" opacity="0.85"/>
<rect x="59.0" y="230.9" width="1" height="1" fill="rgb(50, 121, 224)" opacity="0.85"/>
<rect x="57.5" y="227.6" width="1" height="1" fill="rgb(50, 121, 224)" opacity="0.85"/>
<rect x="65.4" y="206.8" width="1" height="1" fill="rgb(50, 80, 199)" opacity="0.85"/>
<rect x="67.3" y="209.7" width="1" height="1" fill="rgb(50, 111, 219)" opacity="0.85"/>
<rect x="70.7" y="226.3" width="1" height="1" fill="rgb(50, 119, 224)" opacity="0.85"/>
<rect x="51.6" y="219.6" width="1" height="1" fill="rgb(50, 84, 202)" opacity="0.85"/>
<rect x="63.3" y="233.0" width="1" height="1" fill="rgb(54, 151, 217)" opacity="0.85"/>
<rect x="60.7" y="234.1" width="1" height="1" fill="rgb(50, 110, 218)" opacity="0.85"/>
<rect x="52.3" y="213.7" width="1" height="1" fill="rgb(50, 63, 188)" opacity="0.85"/>
<rect x="62.6" y="232.2" width="1" height="1" fill="rgb(57, 167, 213)" opacity="0.85"/>
<rect x="53.5" y="219.9" width="1" height="1" fill="rgb(50, 107, 216)" opacity="0.85"/>
<rect x="56.3" y="219.4" width="1" height="1" fill="rgb(50, 114, 221)" opacity="0.85"/>
<rect x="61.8" y="216.0" width="1" height="1" fill="rgb(57, 169, 213)" opacity="0.85"/>
<rect x="58.8" y="218.6" width="1" height="1" fill="rgb(54, 149, 218)" opacity="0.85"/>
<rect x="58.1" y="223.4" width="1" height="1" fill="rgb(59, 184, 210)" opacity="0.85"/>
<rect x="68.2" y="224.5" width="1" height="1" fill="rgb(75, 192, 158)" opacity="0.85"/>
<rect x="63.8" y="233.4" width="1" height="1" fill="rgb(54, 150, 217)" opacity="0.85"/>
<rect x="60.7" y="236.2" width="1" height="1" fill="rgb(50, 94, 208)" opacity="0.85"/>
<rect x="73.1" y="230.1" width="1" height="1" fill="rgb(50, 90, 205)" opacity="0.85"/>
<rect x="68.2" y="226.8" width="1" height="1" fill="rgb(58, 172, 212)" opacity="0.85"/>
<rect x="65.4" y="242.5" width="1" height="1" fill="rgb(50, 74, 195)" opacity="0.85"/>
<rect x="66.0" y="229.5" width="1" height="1" fill="rgb(58, 172, 212)" opacity="0.85"/>
<rect x="60.0" y="214.9" width="1" height="1" fill="rgb(57, 168, 213)" opacity="0.85"/>
<rect x="66.1" y="215.9" width="1" height="1" fill="rgb(58, 175, 212)" opacity="0.85"/>
<rect x="62.9" y="211.5" width="1" height="1" fill="rgb(50, 114, 221)" opacity="0.85"/>
<rect x="65.1" y="212.6" width="1" height="1" fill="rgb(55, 156, 216)" opacity="0.85"/>
<rect x="70.8" y="234.8" width="1" height="1" fill="rgb(50, 66, 190)" opacity="0.85"/>
<rect x="64.0" y="214.2" width="1" height="1" fill="rgb(54, 146, 218)" opacity="0.85"/>
<rect x="70.0" y="221.8" width="1" height="1" fill="rgb(53, 142, 219)" opacity="0.85"/>
<rect x="65.6" y="209.3" width="1" height="1" fill="rgb(50, 99, 211)" opacity="0.85"/>
<rect x="59.1" y="229.6" width="1" height="1" fill="rgb(56, 163, 214)" opacity="0.85"/>
<rect x="58.1" y="230.0" width="1" height="1" fill="rgb(53, 142, 219)" opacity="0.85"/>
<rect x="59.2" y="235.7" width="1" height="1" fill="rgb(52, 134, 221)" opacity="0.85"/>
<rect x="57.5" y="224.0" width="1" height="1" fill="rgb(53, 143, 219)" opacity="0.85"/>
<rect x="57.1" y="219.5" width="1" height="1" fill="rgb(50, 116, 222)" opacity="0.85"/>
<rect x="68.9" y="212.2" width="1" height="1" fill="rgb(51, 129, 222)" opacity="0.85"/>
<rect x="64.9" y="231.5" width="1" height="1" fill="rgb(71, 190, 172)" opacity="0.85"/>
<rect x="57.6" y="220.6" width="1" height="1" fill="rgb(65, 187, 193)" opacity="0.85"/>
<rect x="64.3" y="214.9" width="1" height="1" fill="rgb(64, 187, 193)" opacity="0.85"/>
<rect x="56.9" y="223.0" width="1" height="1" fill="rgb(57, 171, 213)" opacity="0.85"/>
<rect x="59.5" y="228.5" width="1" height="1" fill="rgb(62, 186, 202)" opacity="0.85"/>
<rect x="55.6" y="238.5" width="1" height="1" fill="rgb(50, 77, 197)" opacity="0.85"/>
<rect x="59.5" y="229.3" width="1" height="1" fill="rgb(59, 179, 211)" opacity="0.85"/>
<rect x="53.5" y="217.2" width="1" height="1" fill="rgb(50, 117, 223)" opacity="0.85"/>
<rect x="57.6" y="224.7" width="1" height="1" fill="rgb(59, 178, 211)" opacity="0.85"/>
<rect x="68.2" y="223.8" width="1" height="1" fill="rgb(60, 185, 208)" opacity="0.85"/>
<rect x="66.2" y="216.1" width="1" height="1" fill="rgb(51, 127, 223)" opacity="0.85"/>
<rect x="69.7" y="217.0" width="1" height="1" fill="rgb(55, 153, 217)" opacity="0.85"/>
<rect x="74.4" y="223.1" width="1" height="1" fill="rgb(50, 84, 202)" opacity="0.85"/>
<rect x="57.0" y="223.4" width="1" height="1" fill="rgb(52, 134, 221)" opacity="0.85"/>
<rect x="66.4" y="233.5" width="1" height="1" fill="rgb(54, 146, 218)" opacity="0.85"/>
<rect x="55.3" y="230.9" width="1" height="1" fill="rgb(50, 100, 212)" opacity="0.85"/>
<rect x="59.9" y="237.4" width="1" height="1" fill="rgb(50, 105, 215)" opacity="0.85"/>
<rect x="56.5" y="224.1" width="1" height="1" fill="rgb(52, 133, 221)" opacity="0.85"/>
<rect x="59.3" y="216.7" width="1" height="1" fill="rgb(65, 187, 191)" opacity="0.85"/>
<rect x="58.4" y="220.6" width="1" height="1" fill="rgb(53, 143, 219)" opacity="0.85"/>
<rect x="68.3" y="234.4" width="1" height="1" fill="rgb(50, 93, 207)" opacity="0.85"/>
<rect x="53.5" y="222.1" width="1" height="1" fill="rgb(50, 110, 219)" opacity="0.85"/>
<rect x="72.4" y="225.0" width="1" height="1" fill="rgb(50, 103, 214)" opacity="0.85"/>
<rect x="62.2" y="217.2" width="1" height="1" fill="rgb(55, 156, 216)" opacity="0.85"/>
<rect x="69.1" y="218.4" width="1" height="1" fill="rgb(52, 135, 221)" opacity="0.85"/>
<rect x="58.3" y="226.3" width="1" height="1" fill="rgb(53, 142, 219)" opacity="0.85"/>
<rect x="68.7" y="217.8" width="1" height="1" fill="rgb(59, 182, 210)" opacity="0.85"/>
<rect x="56.4" y="227.8" width="1" height="1" fill="rgb(50, 121, 224)" opacity="0.85"/>
<rect x="75.1" y="228.7" width="1" height="1" fill="rgb(50, 95, 208)" opacity="0.85"/>
<rect x="58.8" y="238.6" width="1" height="1" fill="rgb(50, 103, 214)" opacity="0.85"/>
<rect x="60.9" y="233.5" width="1" height="1" fill="rgb(59, 179, 211)" opacity="0.85"/>
<rect x="50.3" y="224.5" width="1" height="1" fill="rgb(50, 52, 181)" opacity="0.85"/>
<rect x="56.8" y="231.5" width="1" height="1" fill="rgb(50, 106, 216)" opacity="0.85"/>
<rect x="59.4" y="238.1" width="1" height="1" fill="rgb(50, 91, 206)" opacity="0.85"/>
<rect x="65.6" y="230.2" width="1" height="1" fill="rgb(55, 156, 216)" opacity="0.85"/>
<rect x="58.2" y="222.5" width="1" height="1" fill="rgb(57, 169, 213)" opacity="0.85"/>
<rect x="65.6" y="217.9" width="1" height="1" fill="rgb(56, 162, 215)" opacity="0.85"/>
<rect x="60.8" y="218.2" width="1" height="1" fill="rgb(55, 156, 216)" opacity="0.85"/>
<rect x="62.1" y="238.0" width="1" height="1" fill="rgb(50, 81, 200)" opacity="0.85"/>
<rect x="53.8" y="228.9" width="1" height="1" fill="rgb(50, 118, 224)" opacity="0.85"/>
<rect x="66.0" y="229.8" width="1" height="1" fill="rgb(68, 189, 180)" opacity="0.85"/>
<rect x="53.7" y="237.1" width="1" height="1" fill="rgb(50, 50, 180)" opacity="0.85"/>
<rect x="69.3" y="221.3" width="1" height="1" fill="rgb(52, 137, 220)" opacity="0.85"/>
<rect x="69.0" y="218.2" width="1" height="1" fill="rgb(52, 135, 221)" opacity="0.85"/>
<rect x="63.5" y="234.1" width="1" height="1" fill="rgb(50, 120, 224)" opacity="0.85"/>
<rect x="56.7" y="223.2" width="1" height="1" fill="rgb(52, 135, 221)" opacity="0.85"/>
<rect x="64.0" y="216.8" width="1" height="1" fill="rgb(62, 186, 200)" opacity="0.85"/>
<rect x="67.9" y="237.0" width="1" height="1" fill="rgb(50, 88, 204)" opacity="0.85"/>
<rect x="58.6" y="221.3" width="1" height="1" fill="rgb(59, 180, 210)" opacity="0.85"/>
<rect x="69.2" y="232.4" width="1" height="1" fill="rgb(50, 109, 218)" opacity="0.85"/>
<rect x="53.7" y="233.3" width="1" height="1" fill="rgb(50, 98, 211)" opacity="0.85"/>
<rect x="71.1" y="214.1" width="1" height="1" fill="rgb(50, 75, 196)" opacity="0.85"/>
<rect x="59.9" y="214.1" width="1" height="1" fill="rgb(50, 121, 224)" opacity="0.85"/>
<rect x="56.6" y="229.7" width="1" height="1" fill="rgb(54, 149, 218)" opacity="0.85"/>
<rect x="63.4" y="238.4" width="1" height="1" fill="rgb(50, 91, 206)" opacity="0.85"/>
<rect x="72.1" y="234.8" width="1" height="1" fill="rgb(50, 94, 208)" opacity="0.85"/>
<rect x="60.5" y="233.8" width="1" height="1" fill="rgb(50, 114, 221)" opacity="0.85"/>
<rect x="67.0" y="215.9" width="1" height="1" fill="rgb(57, 165, 214)" opacity="0.85"/>
<rect x="63.1" y="231.9" width="1" height="1" fill="rgb(59, 184, 210)" opacity="0.85"/>
<defs><radialGradient id="g2" cx="0.5" cy="0.5" r="0.5"><stop offset="0" stop-color="rgb(243, 133, 40)"/><stop offset="0.12" stop-color="rgb(235, 178, 43)"/><stop offset="0.3" stop-color="rgb(148, 207, 82)"/><stop offset="0.5" stop-color="rgb(70, 190, 176)"/><stop offset="0.75" stop-color="rgb(52, 136, 221)" stop-opacity="0.9"/><stop offset="1" stop-color="rgb(50, 85, 202)" stop-opacity="0"/></radialGradient></defs>
<ellipse cx="197.3" cy="225.5" rx="12.325" ry="17.849999999999998" fill="url(#g2)"/>
<rect x="201.6" y="213.1" width="1" height="1" fill="rgb(50, 100, 212)" opacity="0.85"/>
<rect x="207.2" y="229.2" width="1" height="1" fill="rgb(50, 103, 214)" opacity="0.85"/>
<rect x="204.3" y="234.1" width="1" height="1" fill="rgb(50, 94, 208)" opacity="0.85"/>
<rect x="204.7" y="218.2" width="1" height="1" fill="rgb(50, 93, 208)" opacity="0.85"/>
<rect x="194.9" y="217.5" width="1" height="1" fill="rgb(66, 188, 188)" opacity="0.85"/>
<rect x="208.1" y="235.3" width="1" height="1" fill="rgb(50, 63, 188)" opacity="0.85"/>
<rect x="204.5" y="219.8" width="1" height="1" fill="rgb(54, 146, 218)" opacity="0.85"/>
<rect x="200.5" y="215.2" width="1" height="1" fill="rgb(52, 135, 221)" opacity="0.85"/>
<rect x="204.8" y="229.1" width="1" height="1" fill="rgb(50, 120, 224)" opacity="0.85"/>
<rect x="184.2" y="223.6" width="1" height="1" fill="rgb(50, 55, 183)" opacity="0.85"/>
<rect x="193.9" y="211.2" width="1" height="1" fill="rgb(50, 94, 208)" opacity="0.85"/>
<rect x="192.3" y="217.4" width="1" height="1" fill="rgb(52, 133, 221)" opacity="0.85"/>
<rect x="201.6" y="227.7" width="1" height="1" fill="rgb(58, 174, 212)" opacity="0.85"/>
<rect x="202.4" y="234.5" width="1" height="1" fill="rgb(52, 138, 220)" opacity="0.85"/>
<rect x="190.8" y="224.2" width="1" height="1" fill="rgb(70, 190, 174)" opacity="0.85"/>
<rect x="192.2" y="222.2" width="1" height="1" fill="rgb(75, 192, 159)" opacity="0.85"/>
<rect x="187.9" y="221.0" width="1" height="1" fill="rgb(50, 96, 210)" opacity="0.85"/>
<rect x="193.1" y="215.7" width="1" height="1" fill="rgb(53, 141, 220)" opacity="0.85"/>
<rect x="197.9" y="210.0" width="1" height="1" fill="rgb(50, 81, 200)" opacity="0.85"/>
<rect x="195.5" y="232.3" width="1" height="1" fill="rgb(55, 157, 216)" opacity="0.85"/>
<rect x="199.6" y="236.7" width="1" height="1" fill="rgb(50, 121, 224)" opacity="0.85"/>
<rect x="191.7" y="226.5" width="1" height="1" fill="rgb(55, 154, 217)" opacity="0.85"/>
<rect x="206.0" y="224.3" width="1" height="1" fill="rgb(50, 93, 208)" opacity="0.85"/>
<rect x="190.9" y="225.6" width="1" height="1" fill="rgb(53, 145, 219)" opacity="0.85"/>
<rect x="203.7" y="219.4" width="1" height="1" fill="rgb(54, 146, 218)" opacity="0.85"/>
<rect x="204.2" y="220.4" width="1" height="1" fill="rgb(50, 116, 222)" opacity="0.85"/>
<rect x="206.2" y="227.4" width="1" height="1" fill="rgb(52, 136, 221)" opacity="0.85"/>
<rect x="189.9" y="213.2" width="1" height="1" fill="rgb(50, 124, 223)" opacity="0.85"/>
<rect x="201.5" y="237.2" width="1" height="1" fill="rgb(52, 133, 221)" opacity="0.85"/>
<rect x="200.9" y="238.7" width="1" height="1" fill="rgb(50, 93, 208)" opacity="0.85"/>
<rect x="192.1" y="232.4" width="1" height="1" fill="rgb(53, 141, 219)" opacity="0.85"/>
<rect x="203.7" y="227.6" width="1" height="1" fill="rgb(56, 159, 215)" opacity="0.85"/>
<rect x="200.5" y="213.7" width="1" height="1" fill="rgb(55, 156, 216)" opacity="0.85"/>
<rect x="202.9" y="221.8" width="1" height="1" fill="rgb(56, 160, 215)" opacity="0.85"/>
<rect x="202.7" y="211.8" width="1" height="1" fill="rgb(50, 113, 220)" opacity="0.85"/>
<rect x="193.3" y="216.8" width="1" height="1" fill="rgb(54, 151, 217)" opacity="0.85"/>
<rect x="193.7" y="232.3" width="1" height="1" fill="rgb(59, 182, 210)" opacity="0.85"/>
<rect x="202.3" y="209.7" width="1" height="1" fill="rgb(50, 65, 190)" opacity="0.85"/>
<rect x="195.1" y="233.3" width="1" height="1" fill="rgb(58, 173, 212)" opacity="0.85"/>
<rect x="206.1" y="216.3" width="1" height="1" fill="rgb(50, 122, 224)" opacity="0.85"/>
<rect x="204.2" y="222.4" width="1" height="1" fill="rgb(56, 164, 214)" opacity="0.85"/>
<rect x="204.5" y="229.4" width="1" height="1" fill="rgb(52, 139, 220)" opacity="0.85"/>
<rect x="194.7" y="234.9" width="1" height="1" fill="rgb(59, 184, 210)" opacity="0.85"/>
<rect x="188.9" y="226.4" width="1" height="1" fill="rgb(50, 120, 224)" opacity="0.85"/>
<rect x="190.5" y="238.8" width="1" height="1" fill="rgb(50, 63, 188)" opacity="0.85"/>
<rect x="199.9" y="236.1" width="1" height="1" fill="rgb(50, 126, 223)" opacity="0.85"/>
<rect x="203.8" y="231.0" width="1" height="1" fill="rgb(50, 123, 224)" opacity="0.85"/>
<rect x="191.8" y="221.0" width="1" height="1" fill="rgb(58, 174, 212)" opacity="0.85"/>
<rect x="191.7" y="221.8" width="1" height="1" fill="rgb(53, 145, 219)" opacity="0.85"/>
<rect x="201.7" y="240.2" width="1" height="1" fill="rgb(50, 91, 206)" opacity="0.85"/>
<rect x="205.2" y="235.3" width="1" height="1" fill="rgb(50, 82, 200)" opacity="0.85"/>
<rect x="202.4" y="230.5" width="1" height="1" fill="rgb(52, 135, 221)" opacity="0.85"/>
<rect x="189.8" y="225.7" width="1" height="1" fill="rgb(51, 130, 222)" opacity="0.85"/>
<rect x="189.5" y="224.1" width="1" height="1" fill="rgb(50, 115, 221)" opacity="0.85"/>
<rect x="186.6" y="230.9" width="1" height="1" fill="rgb(50, 98, 211)" opacity="0.85"/>
<rect x="194.8" y="211.9" width="1" height="1" fill="rgb(50, 94, 208)" opacity="0.85"/>
<rect x="205.6" y="224.3" width="1" height="1" fill="rgb(50, 99, 211)" opacity="0.85"/>
<rect x="199.5" y="218.0" width="1" height="1" fill="rgb(54, 150, 217)" opacity="0.85"/>
<rect x="203.7" y="222.4" width="1" height="1" fill="rgb(57, 171, 213)" opacity="0.85"/>
<rect x="203.0" y="235.5" width="1" height="1" fill="rgb(50, 88, 204)" opacity="0.85"/>
<rect x="197.2" y="232.7" width="1" height="1" fill="rgb(53, 141, 220)" opacity="0.85"/>
<rect x="194.1" y="236.9" width="1" height="1" fill="rgb(50, 119, 224)" opacity="0.85"/>
<rect x="202.7" y="217.8" width="1" height="1" fill="rgb(57, 169, 213)" opacity="0.85"/>
<rect x="185.4" y="218.1" width="1" height="1" fill="rgb(50, 100, 212)" opacity="0.85"/>
<rect x="201.3" y="236.5" width="1" height="1" fill="rgb(50, 108, 217)" opacity="0.85"/>
<rect x="197.5" y="213.0" width="1" height="1" fill="rgb(55, 155, 216)" opacity="0.85"/>
<rect x="200.6" y="230.4" width="1" height="1" fill="rgb(67, 188, 184)" opacity="0.85"/>
<rect x="205.1" y="220.9" width="1" height="1" fill="rgb(50, 95, 209)" opacity="0.85"/>
<rect x="187.3" y="220.7" width="1" height="1" fill="rgb(50, 86, 203)" opacity="0.85"/>
<rect x="204.2" y="219.6" width="1" height="1" fill="rgb(50, 114, 221)" opacity="0.85"/>
<rect x="198.9" y="233.1" width="1" height="1" fill="rgb(65, 187, 190)" opacity="0.85"/>
<rect x="194.7" y="217.8" width="1" height="1" fill="rgb(54, 150, 218)" opacity="0.85"/>
<rect x="201.7" y="218.0" width="1" height="1" fill="rgb(57, 168, 213)" opacity="0.85"/>
<rect x="201.6" y="206.8" width="1" height="1" fill="rgb(50, 50, 180)" opacity="0.85"/>
<rect x="185.6" y="224.8" width="1" height="1" fill="rgb(50, 110, 218)" opacity="0.85"/>
<rect x="200.3" y="214.1" width="1" height="1" fill="rgb(50, 121, 224)" opacity="0.85"/>
<rect x="199.9" y="218.4" width="1" height="1" fill="rgb(72, 191, 168)" opacity="0.85"/>
<rect x="202.6" y="218.4" width="1" height="1" fill="rgb(50, 112, 220)" opacity="0.85"/>
<rect x="199.3" y="231.6" width="1" height="1" fill="rgb(58, 178, 211)" opacity="0.85"/>
<rect x="192.0" y="221.3" width="1" height="1" fill="rgb(56, 165, 214)" opacity="0.85"/>
<rect x="204.0" y="225.4" width="1" height="1" fill="rgb(52, 134, 221)" opacity="0.85"/>
<rect x="202.9" y="226.1" width="1" height="1" fill="rgb(71, 190, 170)" opacity="0.85"/>
<rect x="195.9" y="234.3" width="1" height="1" fill="rgb(53, 141, 220)" opacity="0.85"/>
<rect x="190.7" y="220.9" width="1" height="1" fill="rgb(63, 186, 197)" opacity="0.85"/>
<rect x="188.0" y="219.9" width="1" height="1" fill="rgb(53, 140, 220)" opacity="0.85"/>
<rect x="198.0" y="213.8" width="1" height="1" fill="rgb(54, 148, 218)" opacity="0.85"/>
<rect x="199.9" y="209.4" width="1" height="1" fill="rgb(50, 117, 223)" opacity="0.85"/>
<rect x="197.6" y="212.0" width="1" height="1" fill="rgb(50, 119, 224)" opacity="0.85"/>
<rect x="193.4" y="219.4" width="1" height="1" fill="rgb(60, 185, 207)" opacity="0.85"/>
<rect x="203.1" y="224.3" width="1" height="1" fill="rgb(54, 152, 217)" opacity="0.85"/>
<rect x="207.9" y="225.7" width="1" height="1" fill="rgb(50, 91, 206)" opacity="0.85"/>
<rect x="190.1" y="228.5" width="1" height="1" fill="rgb(52, 133, 221)" opacity="0.85"/>
<rect x="195.8" y="215.0" width="1" height="1" fill="rgb(60, 185, 207)" opacity="0.85"/>
<rect x="190.1" y="240.2" width="1" height="1" fill="rgb(50, 83, 201)" opacity="0.85"/>
<rect x="190.9" y="235.8" width="1" height="1" fill="rgb(50, 109, 218)" opacity="0.85"/>
<rect x="185.1" y="226.7" width="1" height="1" fill="rgb(50, 73, 195)" opacity="0.85"/>
<rect x="188.0" y="215.4" width="1" height="1" fill="rgb(50, 103, 214)" opacity="0.85"/>
<rect x="199.7" y="237.3" width="1" height="1" fill="rgb(55, 155, 216)" opacity="0.85"/>
<rect x="200.9" y="209.8" width="1" height="1" fill="rgb(50, 83, 201)" opacity="0.85"/>
<rect x="185.9" y="221.3" width="1" height="1" fill="rgb(50, 100, 212)" opacity="0.85"/>
<rect x="192.5" y="236.8" width="1" height="1" fill="rgb(51, 127, 223)" opacity="0.85"/>
<rect x="189.9" y="231.7" width="1" height="1" fill="rgb(50, 118, 223)" opacity="0.85"/>
<rect x="202.1" y="227.9" width="1" height="1" fill="rgb(52, 137, 220)" opacity="0.85"/>
<rect x="193.3" y="219.9" width="1" height="1" fill="rgb(59, 184, 210)" opacity="0.85"/>
<rect x="203.1" y="220.3" width="1" height="1" fill="rgb(61, 185, 203)" opacity="0.85"/>
<rect x="203.9" y="228.8" width="1" height="1" fill="rgb(56, 159, 215)" opacity="0.85"/>
<rect x="199.1" y="217.3" width="1" height="1" fill="rgb(58, 174, 212)" opacity="0.85"/>
<rect x="190.8" y="219.6" width="1" height="1" fill="rgb(56, 163, 214)" opacity="0.85"/>
<rect x="194.6" y="211.8" width="1" height="1" fill="rgb(52, 134, 221)" opacity="0.85"/>
<rect x="193.4" y="237.8" width="1" height="1" fill="rgb(54, 148, 218)" opacity="0.85"/>
<rect x="183.8" y="222.2" width="1" height="1" fill="rgb(50, 50, 180)" opacity="0.85"/>
<rect x="203.1" y="225.5" width="1" height="1" fill="rgb(58, 175, 212)" opacity="0.85"/>
<rect x="197.6" y="217.5" width="1" height="1" fill="rgb(80, 195, 140)" opacity="0.85"/>
<rect x="198.1" y="238.3" width="1" height="1" fill="rgb(50, 93, 207)" opacity="0.85"/>
<rect x="202.8" y="228.5" width="1" height="1" fill="rgb(56, 163, 214)" opacity="0.85"/>
<rect x="202.2" y="242.2" width="1" height="1" fill="rgb(50, 63, 188)" opacity="0.85"/>
<rect x="195.8" y="207.1" width="1" height="1" fill="rgb(50, 59, 186)" opacity="0.85"/>
<rect x="206.2" y="227.5" width="1" height="1" fill="rgb(50, 98, 210)" opacity="0.85"/>
<rect x="203.2" y="224.0" width="1" height="1" fill="rgb(57, 170, 213)" opacity="0.85"/>
<rect x="191.3" y="236.9" width="1" height="1" fill="rgb(50, 106, 216)" opacity="0.85"/>
<rect x="191.5" y="240.4" width="1" height="1" fill="rgb(50, 62, 188)" opacity="0.85"/>
<rect x="193.4" y="218.6" width="1" height="1" fill="rgb(71, 190, 172)" opacity="0.85"/>
<rect x="203.4" y="228.8" width="1" height="1" fill="rgb(53, 142, 219)" opacity="0.85"/>
<rect x="208.4" y="215.7" width="1" height="1" fill="rgb(50, 76, 196)" opacity="0.85"/>
<rect x="196.3" y="233.5" width="1" height="1" fill="rgb(54, 149, 218)" opacity="0.85"/>
<rect x="199.5" y="237.9" width="1" height="1" fill="rgb(50, 125, 223)" opacity="0.85"/>
<rect x="198.3" y="235.1" width="1" height="1" fill="rgb(50, 122, 224)" opacity="0.85"/>
<rect x="204.0" y="212.8" width="1" height="1" fill="rgb(50, 81, 200)" opacity="0.85"/>
<rect x="196.9" y="210.2" width="1" height="1" fill="rgb(50, 92, 207)" opacity="0.85"/>
<rect x="193.7" y="233.0" width="1" height="1" fill="rgb(64, 187, 194)" opacity="0.85"/>
<rect x="201.2" y="235.3" width="1" height="1" fill="rgb(52, 137, 221)" opacity="0.85"/>
<rect x="189.9" y="228.1" width="1" height="1" fill="rgb(58, 177, 211)" opacity="0.85"/>
<rect x="199.7" y="241.0" width="1" height="1" fill="rgb(50, 82, 201)" opacity="0.85"/>
<rect x="198.8" y="209.4" width="1" height="1" fill="rgb(50, 77, 197)" opacity="0.85"/>
<rect x="208.9" y="226.0" width="1" height="1" fill="rgb(50, 62, 188)" opacity="0.85"/>
<rect x="200.9" y="235.6" width="1" height="1" fill="rgb(50, 103, 214)" opacity="0.85"/>
<rect x="190.2" y="240.1" width="1" height="1" fill="rgb(50, 91, 206)" opacity="0.85"/>
<rect x="199.0" y="213.2" width="1" height="1" fill="rgb(50, 99, 212)" opacity="0.85"/>
<rect x="192.2" y="240.0" width="1" height="1" fill="rgb(50, 70, 193)" opacity="0.85"/>
<rect x="196.3" y="215.6" width="1" height="1" fill="rgb(51, 129, 222)" opacity="0.85"/>
<rect x="192.9" y="232.4" width="1" height="1" fill="rgb(65, 187, 193)" opacity="0.85"/>
<rect x="208.0" y="221.6" width="1" height="1" fill="rgb(50, 103, 214)" opacity="0.85"/>
<rect x="203.1" y="227.6" width="1" height="1" fill="rgb(54, 151, 217)" opacity="0.85"/>
<rect x="191.9" y="222.4" width="1" height="1" fill="rgb(53, 142, 219)" opacity="0.85"/>
<rect x="193.8" y="214.3" width="1" height="1" fill="rgb(52, 138, 220)" opacity="0.85"/>
<rect x="188.8" y="221.3" width="1" height="1" fill="rgb(57, 165, 214)" opacity="0.85"/>
<rect x="203.0" y="216.0" width="1" height="1" fill="rgb(50, 116, 222)" opacity="0.85"/>
<rect x="194.4" y="232.6" width="1" height="1" fill="rgb(74, 192, 160)" opacity="0.85"/>
<rect x="192.7" y="230.1" width="1" height="1" fill="rgb(57, 170, 213)" opacity="0.85"/>
<rect x="204.3" y="225.4" width="1" height="1" fill="rgb(58, 175, 212)" opacity="0.85"/>
<rect x="196.6" y="236.0" width="1" height="1" fill="rgb(51, 132, 222)" opacity="0.85"/>
<rect x="204.7" y="235.2" width="1" height="1" fill="rgb(50, 116, 222)" opacity="0.85"/>
<rect x="192.6" y="217.0" width="1" height="1" fill="rgb(52, 137, 220)" opacity="0.85"/>
<rect x="196.5" y="209.4" width="1" height="1" fill="rgb(50, 98, 211)" opacity="0.85"/>
<rect x="197.6" y="236.2" width="1" height="1" fill="rgb(55, 158, 216)" opacity="0.85"/>
<rect x="190.5" y="233.7" width="1" height="1" fill="rgb(50, 116, 222)" opacity="0.85"/>
<rect x="189.3" y="223.2" width="1" height="1" fill="rgb(55, 155, 216)" opacity="0.85"/>
<rect x="193.4" y="235.1" width="1" height="1" fill="rgb(53, 142, 219)" opacity="0.85"/>
<rect x="198.1" y="235.8" width="1" height="1" fill="rgb(50, 123, 224)" opacity="0.85"/>
<rect x="202.0" y="220.1" width="1" height="1" fill="rgb(59, 181, 210)" opacity="0.85"/>
<rect x="190.6" y="223.7" width="1" height="1" fill="rgb(53, 141, 219)" opacity="0.85"/>
<rect x="204.7" y="239.2" width="1" height="1" fill="rgb(50, 78, 198)" opacity="0.85"/>
<rect x="190.1" y="223.5" width="1" height="1" fill="rgb(59, 180, 211)" opacity="0.85"/>
<rect x="199.5" y="217.0" width="1" height="1" fill="rgb(58, 176, 211)" opacity="0.85"/>
<rect x="202.3" y="210.1" width="1" height="1" fill="rgb(50, 108, 217)" opacity="0.85"/>
<rect x="202.0" y="227.1" width="1" height="1" fill="rgb(71, 190, 171)" opacity="0.85"/>
<rect x="200.9" y="229.5" width="1" height="1" fill="rgb(72, 191, 168)" opacity="0.85"/>
<rect x="190.8" y="223.8" width="1" height="1" fill="rgb(52, 134, 221)" opacity="0.85"/>
<rect x="194.8" y="216.8" width="1" height="1" fill="rgb(57, 165, 214)" opacity="0.85"/>
<rect x="199.6" y="212.2" width="1" height="1" fill="rgb(50, 96, 209)" opacity="0.85"/>
<rect x="194.6" y="218.1" width="1" height="1" fill="rgb(59, 181, 210)" opacity="0.85"/>
<rect x="197.2" y="232.7" width="1" height="1" fill="rgb(57, 166, 214)" opacity="0.85"/>
<rect x="199.0" y="234.9" width="1" height="1" fill="rgb(50, 115, 222)" opacity="0.85"/>
<rect x="200.6" y="236.4" width="1" height="1" fill="rgb(50, 109, 218)" opacity="0.85"/>
<rect x="189.6" y="213.1" width="1" height="1" fill="rgb(50, 80, 199)" opacity="0.85"/>
<rect x="188.1" y="231.6" width="1" height="1" fill="rgb(50, 116, 222)" opacity="0.85"/>
<rect x="191.9" y="227.7" width="1" height="1" fill="rgb(67, 188, 186)" opacity="0.85"/>
<rect x="195.2" y="232.8" width="1" height="1" fill="rgb(60, 185, 209)" opacity="0.85"/>
<rect x="198.7" y="218.1" width="1" height="1" fill="rgb(58, 173, 212)" opacity="0.85"/>
<rect x="185.8" y="216.4" width="1" height="1" fill="rgb(50, 60, 186)" opacity="0.85"/>
<rect x="205.4" y="222.7" width="1" height="1" fill="rgb(50, 115, 222)" opacity="0.85"/>
<rect x="205.2" y="230.8" width="1" height="1" fill="rgb(50, 109, 218)" opacity="0.85"/>
<rect x="190.4" y="223.5" width="1" height="1" fill="rgb(64, 187, 196)" opacity="0.85"/>
<rect x="191.7" y="220.1" width="1" height="1" fill="rgb(56, 162, 215)" opacity="0.85"/>
<rect x="199.8" y="218.0" width="1" height="1" fill="rgb(57, 170, 213)" opacity="0.85"/>
<rect x="201.4" y="219.5" width="1" height="1" fill="rgb(57, 168, 213)" opacity="0.85"/>
<rect x="186.5" y="223.9" width="1" height="1" fill="rgb(50, 113, 220)" opacity="0.85"/>
<rect x="196.5" y="216.9" width="1" height="1" fill="rgb(52, 138, 220)" opacity="0.85"/>
<rect x="193.8" y="215.8" width="1" height="1" fill="rgb(58, 172, 212)" opacity="0.85"/>
<rect x="204.6" y="232.0" width="1" height="1" fill="rgb(50, 120, 224)" opacity="0.85"/>
<rect x="204.6" y="229.1" width="1" height="1" fill="rgb(54, 146, 218)" opacity="0.85"/>
<rect x="194.7" y="217.3" width="1" height="1" fill="rgb(59, 178, 211)" opacity="0.85"/>
<rect x="207.0" y="224.8" width="1" height="1" fill="rgb(51, 128, 222)" opacity="0.85"/>
<rect x="199.8" y="230.7" width="1" height="1" fill="rgb(60, 185, 207)" opacity="0.85"/>
<rect x="201.2" y="217.1" width="1" height="1" fill="rgb(54, 152, 217)" opacity="0.85"/>
<rect x="193.1" y="240.1" width="1" height="1" fill="rgb(50, 111, 219)" opacity="0.85"/>
<rect x="191.6" y="223.2" width="1" height="1" fill="rgb(58, 176, 212)" opacity="0.85"/>
<rect x="189.5" y="225.7" width="1" height="1" fill="rgb(52, 136, 221)" opacity="0.85"/>
<rect x="202.9" y="220.1" width="1" height="1" fill="rgb(50, 117, 223)" opacity="0.85"/>
<rect x="194.1" y="234.1" width="1" height="1" fill="rgb(54, 147, 218)" opacity="0.85"/>
<rect x="195.4" y="239.1" width="1" height="1" fill="rgb(50, 97, 210)" opacity="0.85"/>
<rect x="194.4" y="211.1" width="1" height="1" fill="rgb(50, 113, 220)" opacity="0.85"/>
<rect x="184.4" y="230.2" width="1" height="1" fill="rgb(50, 70, 193)" opacity="0.85"/>
<rect x="189.6" y="229.6" width="1" height="1" fill="rgb(50, 107, 216)" opacity="0.85"/>
<rect x="203.0" y="220.2" width="1" height="1" fill="rgb(58, 173, 212)" opacity="0.85"/>
<rect x="188.6" y="225.1" width="1" height="1" fill="rgb(53, 144, 219)" opacity="0.85"/>
<rect x="199.7" y="205.9" width="1" height="1" fill="rgb(50, 61, 187)" opacity="0.85"/>
<rect x="203.8" y="218.2" width="1" height="1" fill="rgb(50, 107, 216)" opacity="0.85"/>
<rect x="204.8" y="229.3" width="1" height="1" fill="rgb(50, 99, 211)" opacity="0.85"/>
<rect x="197.6" y="235.5" width="1" height="1" fill="rgb(51, 132, 222)" opacity="0.85"/>
<rect x="191.1" y="232.8" width="1" height="1" fill="rgb(50, 116, 222)" opacity="0.85"/>
<rect x="188.1" y="227.9" width="1" height="1" fill="rgb(50, 116, 222)" opacity="0.85"/>
<rect x="203.1" y="221.4" width="1" height="1" fill="rgb(53, 139, 220)" opacity="0.85"/>
<rect x="191.5" y="235.9" width="1" height="1" fill="rgb(50, 116, 222)" opacity="0.85"/>
<rect x="185.8" y="226.5" width="1" height="1" fill="rgb(50, 101, 212)" opacity="0.85"/>
<rect x="205.1" y="215.4" width="1" height="1" fill="rgb(50, 84, 202)" opacity="0.85"/>
<rect x="189.4" y="240.9" width="1" height="1" fill="rgb(50, 77, 197)" opacity="0.85"/>
<rect x="201.5" y="227.2" width="1" height="1" fill="rgb(59, 181, 210)" opacity="0.85"/>
<rect x="196.9" y="238.1" width="1" height="1" fill="rgb(50, 100, 212)" opacity="0.85"/>
<rect x="203.2" y="229.3" width="1" height="1" fill="rgb(50, 119, 224)" opacity="0.85"/>
<rect x="187.6" y="220.5" width="1" height="1" fill="rgb(50, 116, 222)" opacity="0.85"/>
<rect x="192.3" y="221.5" width="1" height="1" fill="rgb(58, 172, 212)" opacity="0.85"/>
<rect x="203.1" y="241.6" width="1" height="1" fill="rgb(50, 61, 187)" opacity="0.85"/>
<rect x="202.9" y="211.4" width="1" height="1" fill="rgb(50, 92, 207)" opacity="0.85"/>
<rect x="190.0" y="225.2" width="1" height="1" fill="rgb(50, 124, 223)" opacity="0.85"/>
<rect x="190.4" y="222.9" width="1" height="1" fill="rgb(54, 148, 218)" opacity="0.85"/>
<rect x="198.6" y="232.7" width="1" height="1" fill="rgb(54, 151, 217)" opacity="0.85"/>
<rect x="201.3" y="218.2" width="1" height="1" fill="rgb(63, 186, 199)" opacity="0.85"/>
<rect x="209.9" y="226.8" width="1" height="1" fill="rgb(50, 69, 192)" opacity="0.85"/>
<rect x="198.6" y="215.0" width="1" height="1" fill="rgb(56, 163, 214)" opacity="0.85"/>
<rect x="198.0" y="238.2" width="1" height="1" fill="rgb(50, 97, 210)" opacity="0.85"/>
<rect x="191.6" y="231.0" width="1" height="1" fill="rgb(53, 140, 220)" opacity="0.85"/>
<rect x="188.8" y="217.1" width="1" height="1" fill="rgb(50, 124, 223)" opacity="0.85"/>
<rect x="204.2" y="227.8" width="1" height="1" fill="rgb(55, 155, 216)" opacity="0.85"/>
<rect x="198.8" y="218.3" width="1" height="1" fill="rgb(74, 192, 163)" opacity="0.85"/>
<rect x="184.7" y="229.3" width="1" height="1" fill="rgb(50, 51, 181)" opacity="0.85"/>
<rect x="202.1" y="222.0" width="1" height="1" fill="rgb(57, 165, 214)" opacity="0.85"/>
<rect x="196.0" y="213.0" width="1" height="1" fill="rgb(50, 107, 217)" opacity="0.85"/>
<rect x="206.6" y="224.8" width="1" height="1" fill="rgb(50, 109, 217)" opacity="0.85"/>
<rect x="187.2" y="225.2" width="1" height="1" fill="rgb(53, 141, 220)" opacity="0.85"/>
<rect x="196.9" y="213.6" width="1" height="1" fill="rgb(50, 115, 222)" opacity="0.85"/>
<rect x="189.3" y="214.1" width="1" height="1" fill="rgb(50, 115, 222)" opacity="0.85"/>
<rect x="204.1" y="232.0" width="1" height="1" fill="rgb(50, 113, 220)" opacity="0.85"/>
<rect x="204.3" y="242.7" width="1" height="1" fill="rgb(50, 66, 190)" opacity="0.85"/>
<rect x="202.9" y="208.5" width="1" height="1" fill="rgb(50, 95, 209)" opacity="0.85"/>
<rect x="196.5" y="209.9" width="1" height="1" fill="rgb(50, 119, 224)" opacity="0.85"/>
<rect x="191.8" y="220.4" width="1" height="1" fill="rgb(66, 188, 189)" opacity="0.85"/>
<rect x="199.2" y="209.2" width="1" height="1" fill="rgb(50, 82, 200)" opacity="0.85"/>
<rect x="203.4" y="222.6" width="1" height="1" fill="rgb(62, 186, 200)" opacity="0.85"/>
<rect x="198.8" y="233.4" width="1" height="1" fill="rgb(53, 145, 219)" opacity="0.85"/>
<rect x="184.8" y="225.8" width="1" height="1" fill="rgb(50, 93, 208)" opacity="0.85"/>
<rect x="195.4" y="217.3" width="1" height="1" fill="rgb(68, 189, 182)" opacity="0.85"/>
<rect x="199.1" y="213.4" width="1" height="1" fill="rgb(56, 163, 214)" opacity="0.85"/>
<rect x="199.4" y="217.8" width="1" height="1" fill="rgb(53, 141, 219)" opacity="0.85"/>
<rect x="190.8" y="212.6" width="1" height="1" fill="rgb(50, 92, 207)" opacity="0.85"/>
<rect x="188.1" y="216.5" width="1" height="1" fill="rgb(50, 118, 223)" opacity="0.85"/>
<rect x="203.2" y="225.3" width="1" height="1" fill="rgb(50, 123, 224)" opacity="0.85"/>
<rect x="204.5" y="234.3" width="1" height="1" fill="rgb(50, 101, 213)" opacity="0.85"/>
<rect x="192.0" y="219.6" width="1" height="1" fill="rgb(55, 153, 217)" opacity="0.85"/>
<rect x="198.0" y="232.3" width="1" height="1" fill="rgb(74, 192, 161)" opacity="0.85"/>
<rect x="195.0" y="216.8" width="1" height="1" fill="rgb(59, 181, 210)" opacity="0.85"/>
<rect x="194.9" y="244.9" width="1" height="1" fill="rgb(50, 54, 182)" opacity="0.85"/>
<rect x="198.7" y="241.5" width="1" height="1" fill="rgb(50, 95, 208)" opacity="0.85"/>
<rect x="201.1" y="220.1" width="1" height="1" fill="rgb(58, 175, 212)" opacity="0.85"/>
<rect x="203.1" y="222.4" width="1" height="1" fill="rgb(67, 188, 185)" opacity="0.85"/>
<rect x="200.7" y="239.0" width="1" height="1" fill="rgb(50, 83, 201)" opacity="0.85"/>
<rect x="202.8" y="242.1" width="1" height="1" fill="rgb(50, 66, 190)" opacity="0.85"/>
<rect x="186.4" y="219.8" width="1" height="1" fill="rgb(50, 96, 210)" opacity="0.85"/>
<rect x="187.8" y="237.8" width="1" height="1" fill="rgb(50, 98, 210)" opacity="0.85"/>
<rect x="192.6" y="218.9" width="1" height="1" fill="rgb(71, 190, 170)" opacity="0.85"/>
<rect x="191.6" y="234.0" width="1" height="1" fill="rgb(53, 143, 219)" opacity="0.85"/>
<rect x="192.0" y="231.8" width="1" height="1" fill="rgb(57, 170, 213)" opacity="0.85"/>
<rect x="202.2" y="219.8" width="1" height="1" fill="rgb(54, 149, 218)" opacity="0.85"/>
<rect x="201.0" y="214.6" width="1" height="1" fill="rgb(52, 133, 221)" opacity="0.85"/>
<rect x="188.1" y="229.3" width="1" height="1" fill="rgb(54, 146, 218)" opacity="0.85"/>
<rect x="195.6" y="211.8" width="1" height="1" fill="rgb(50, 91, 206)" opacity="0.85"/>
<rect x="207.9" y="220.1" width="1" height="1" fill="rgb(50, 68, 191)" opacity="0.85"/>
<rect x="190.6" y="219.5" width="1" height="1" fill="rgb(50, 114, 221)" opacity="0.85"/>
<rect x="189.7" y="233.3" width="1" height="1" fill="rgb(51, 127, 223)" opacity="0.85"/>
<rect x="195.0" y="238.3" width="1" height="1" fill="rgb(50, 103, 214)" opacity="0.85"/>
<rect x="191.3" y="222.7" width="1" height="1" fill="rgb(74, 192, 160)" opacity="0.85"/>
<rect x="190.9" y="213.4" width="1" height="1" fill="rgb(50, 117, 223)" opacity="0.85"/>
<rect x="186.5" y="239.0" width="1" height="1" fill="rgb(50, 70, 193)" opacity="0.85"/>
<rect x="200.6" y="233.9" width="1" height="1" fill="rgb(58, 173, 212)" opacity="0.85"/>
<rect x="198.2" y="217.9" width="1" height="1" fill="rgb(55, 154, 216)" opacity="0.85"/>
<rect x="185.6" y="223.4" width="1" height="1" fill="rgb(50, 73, 194)" opacity="0.85"/>
<rect x="195.2" y="232.5" width="1" height="1" fill="rgb(77, 193, 150)" opacity="0.85"/>
<rect x="192.0" y="242.8" width="1" height="1" fill="rgb(50, 52, 181)" opacity="0.85"/>
<rect x="194.3" y="232.7" width="1" height="1" fill="rgb(52, 138, 220)" opacity="0.85"/>
<rect x="196.4" y="233.0" width="1" height="1" fill="rgb(57, 166, 214)" opacity="0.85"/>
<rect x="200.2" y="241.7" width="1" height="1" fill="rgb(50, 80, 199)" opacity="0.85"/>
<rect x="200.9" y="215.3" width="1" height="1" fill="rgb(56, 159, 215)" opacity="0.85"/>
<rect x="197.1" y="216.0" width="1" height="1" fill="rgb(57, 169, 213)" opacity="0.85"/>
<rect x="192.4" y="213.3" width="1" height="1" fill="rgb(50, 104, 214)" opacity="0.85"/>
<rect x="188.8" y="238.5" width="1" height="1" fill="rgb(50, 81, 200)" opacity="0.85"/>
<rect x="194.9" y="235.9" width="1" height="1" fill="rgb(50, 120, 224)" opacity="0.85"/>
<rect x="200.1" y="215.9" width="1" height="1" fill="rgb(52, 138, 220)" opacity="0.85"/>
<rect x="188.0" y="221.0" width="1" height="1" fill="rgb(51, 129, 222)" opacity="0.85"/>
<rect x="188.3" y="232.6" width="1" height="1" fill="rgb(50, 85, 202)" opacity="0.85"/>
<rect x="194.0" y="235.8" width="1" height="1" fill="rgb(58, 172, 212)" opacity="0.85"/>
<rect x="191.2" y="215.9" width="1" height="1" fill="rgb(54, 149, 218)" opacity="0.85"/>
<rect x="186.5" y="236.7" width="1" height="1" fill="rgb(50, 84, 202)" opacity="0.85"/>
<rect x="193.8" y="231.7" width="1" height="1" fill="rgb(69, 189, 179)" opacity="0.85"/>
<rect x="201.5" y="217.9" width="1" height="1" fill="rgb(55, 156, 216)" opacity="0.85"/>
<rect x="191.0" y="210.0" width="1" height="1" fill="rgb(50, 64, 189)" opacity="0.85"/>
<rect x="191.2" y="229.9" width="1" height="1" fill="rgb(61, 185, 205)" opacity="0.85"/>
<rect x="193.2" y="215.9" width="1" height="1" fill="rgb(53, 140, 220)" opacity="0.85"/>
<rect x="202.2" y="213.4" width="1" height="1" fill="rgb(52, 133, 221)" opacity="0.85"/>
<rect x="201.6" y="234.7" width="1" height="1" fill="rgb(54, 151, 217)" opacity="0.85"/>
<rect x="185.0" y="224.9" width="1" height="1" fill="rgb(50, 108, 217)" opacity="0.85"/>
<rect x="196.4" y="210.2" width="1" height="1" fill="rgb(50, 113, 220)" opacity="0.85"/>
<rect x="194.4" y="213.1" width="1" height="1" fill="rgb(52, 134, 221)" opacity="0.85"/>
<rect x="188.6" y="216.0" width="1" height="1" fill="rgb(50, 91, 206)" opacity="0.85"/>
<rect x="203.7" y="231.7" width="1" height="1" fill="rgb(57, 167, 213)" opacity="0.85"/>
<rect x="198.5" y="217.9" width="1" height="1" fill="rgb(67, 188, 186)" opacity="0.85"/>
<rect x="206.3" y="231.7" width="1" height="1" fill="rgb(50, 91, 206)" opacity="0.85"/>
<rect x="204.6" y="225.2" width="1" height="1" fill="rgb(50, 113, 220)" opacity="0.85"/>
<rect x="190.2" y="228.4" width="1" height="1" fill="rgb(58, 175, 212)" opacity="0.85"/>
<rect x="206.8" y="228.7" width="1" height="1" fill="rgb(50, 81, 200)" opacity="0.85"/>
<rect x="198.0" y="236.1" width="1" height="1" fill="rgb(51, 126, 223)" opacity="0.85"/>
<rect x="193.3" y="234.0" width="1" height="1" fill="rgb(51, 127, 223)" opacity="0.85"/>
<rect x="202.1" y="212.7" width="1" height="1" fill="rgb(50, 109, 218)" opacity="0.85"/>
<rect x="206.2" y="227.6" width="1" height="1" fill="rgb(50, 86, 203)" opacity="0.85"/>
<rect x="191.0" y="224.8" width="1" height="1" fill="rgb(52, 137, 220)" opacity="0.85"/>
<rect x="190.7" y="215.7" width="1" height="1" fill="rgb(51, 127, 223)" opacity="0.85"/>
<rect x="191.5" y="230.6" width="1" height="1" fill="rgb(56, 165, 214)" opacity="0.85"/>
<rect x="198.4" y="240.9" width="1" height="1" fill="rgb(50, 123, 224)" opacity="0.85"/>
<rect x="201.5" y="205.8" width="1" height="1" fill="rgb(50, 50, 180)" opacity="0.85"/>
<rect x="188.8" y="228.4" width="1" height="1" fill="rgb(53, 145, 219)" opacity="0.85"/>
<rect x="192.0" y="227.1" width="1" height="1" fill="rgb(56, 159, 215)" opacity="0.85"/>
<rect x="199.9" y="237.2" width="1" height="1" fill="rgb(50, 120, 224)" opacity="0.85"/>
<rect x="196.1" y="235.2" width="1" height="1" fill="rgb(57, 166, 214)" opacity="0.85"/>
<rect x="205.8" y="222.8" width="1" height="1" fill="rgb(54, 151, 217)" opacity="0.85"/>
<rect x="204.5" y="218.8" width="1" height="1" fill="rgb(52, 138, 220)" opacity="0.85"/>
<rect x="207.8" y="226.3" width="1" height="1" fill="rgb(50, 108, 217)" opacity="0.85"/>
<rect x="199.1" y="231.7" width="1" height="1" fill="rgb(77, 193, 152)" opacity="0.85"/>
<rect x="198.8" y="216.7" width="1" height="1" fill="rgb(52, 135, 221)" opacity="0.85"/>
<rect x="197.9" y="216.1" width="1" height="1" fill="rgb(70, 190, 173)" opacity="0.85"/>
<rect x="205.1" y="217.5" width="1" height="1" fill="rgb(50, 108, 217)" opacity="0.85"/>
<rect x="202.3" y="231.5" width="1" height="1" fill="rgb(54, 150, 217)" opacity="0.85"/>
<rect x="208.8" y="227.3" width="1" height="1" fill="rgb(50, 94, 208)" opacity="0.85"/>
<rect x="188.6" y="230.0" width="1" height="1" fill="rgb(50, 113, 220)" opacity="0.85"/>
<rect x="200.8" y="210.8" width="1" height="1" fill="rgb(50, 80, 199)" opacity="0.85"/>
<rect x="192.2" y="221.0" width="1" height="1" fill="rgb(53, 139, 220)" opacity="0.85"/>
<rect x="201.5" y="212.7" width="1" height="1" fill="rgb(50, 109, 218)" opacity="0.85"/>
<rect x="207.9" y="229.5" width="1" height="1" fill="rgb(50, 91, 206)" opacity="0.85"/>
<rect x="188.7" y="213.3" width="1" height="1" fill="rgb(50, 89, 205)" opacity="0.85"/>
<rect x="197.3" y="242.3" width="1" height="1" fill="rgb(50, 77, 197)" opacity="0.85"/>
<rect x="202.7" y="231.5" width="1" height="1" fill="rgb(50, 117, 223)" opacity="0.85"/>
<rect x="198.7" y="233.4" width="1" height="1" fill="rgb(58, 173, 212)" opacity="0.85"/>
<rect x="191.1" y="215.5" width="1" height="1" fill="rgb(50, 120, 224)" opacity="0.85"/>
<rect x="204.9" y="230.3" width="1" height="1" fill="rgb(50, 95, 209)" opacity="0.85"/>
<rect x="191.3" y="226.5" width="1" height="1" fill="rgb(62, 186, 202)" opacity="0.85"/>
<rect x="191.8" y="215.1" width="1" height="1" fill="rgb(50, 125, 223)" opacity="0.85"/>
<rect x="204.4" y="238.6" width="1" height="1" fill="rgb(50, 88, 204)" opacity="0.85"/>
<rect x="189.2" y="233.8" width="1" height="1" fill="rgb(51, 132, 222)" opacity="0.85"/>
<rect x="190.8" y="215.2" width="1" height="1" fill="rgb(50, 92, 207)" opacity="0.85"/>
<rect x="190.8" y="208.8" width="1" height="1" fill="rgb(50, 83, 201)" opacity="0.85"/>
<rect x="205.3" y="222.9" width="1" height="1" fill="rgb(50, 105, 215)" opacity="0.85"/>
<rect x="199.5" y="208.7" width="1" height="1" fill="rgb(50, 112, 220)" opacity="0.85"/>
<rect x="207.6" y="225.2" width="1" height="1" fill="rgb(50, 101, 213)" opacity="0.85"/>
<rect x="199.6" y="216.5" width="1" height="1" fill="rgb(57, 168, 213)" opacity="0.85"/>
<rect x="188.6" y="217.0" width="1" height="1" fill="rgb(50, 85, 202)" opacity="0.85"/>
<rect x="203.3" y="228.3" width="1" height="1" fill="rgb(52, 136, 221)" opacity="0.85"/>
<rect x="201.6" y="212.2" width="1" height="1" fill="rgb(50, 104, 214)" opacity="0.85"/>
<rect x="202.5" y="233.0" width="1" height="1" fill="rgb(50, 114, 221)" opacity="0.85"/>
<rect x="203.6" y="223.5" width="1" height="1" fill="rgb(53, 141, 220)" opacity="0.85"/>
<rect x="204.2" y="232.2" width="1" height="1" fill="rgb(54, 147, 218)" opacity="0.85"/>
<rect x="194.2" y="214.9" width="1" height="1" fill="rgb(53, 145, 219)" opacity="0.85"/>
<rect x="191.4" y="227.2" width="1" height="1" fill="rgb(59, 182, 210)" opacity="0.85"/>
<rect x="189.5" y="210.7" width="1" height="1" fill="rgb(50, 93, 208)" opacity="0.85"/>
<rect x="200.3" y="208.1" width="1" height="1" fill="rgb(50, 100, 212)" opacity="0.85"/>
<rect x="192.3" y="210.9" width="1" height="1" fill="rgb(50, 94, 208)" opacity="0.85"/>
<rect x="202.4" y="222.0" width="1" height="1" fill="rgb(59, 184, 210)" opacity="0.85"/>
<rect x="201.7" y="229.8" width="1" height="1" fill="rgb(72, 191, 166)" opacity="0.85"/>
<rect x="189.5" y="209.8" width="1" height="1" fill="rgb(50, 89, 205)" opacity="0.85"/>
<rect x="196.8" y="233.2" width="1" height="1" fill="rgb(52, 135, 221)" opacity="0.85"/>
<rect x="198.2" y="241.5" width="1" height="1" fill="rgb(50, 113, 220)" opacity="0.85"/>
<rect x="192.3" y="237.0" width="1" height="1" fill="rgb(51, 132, 222)" opacity="0.85"/>
<rect x="204.3" y="215.9" width="1" height="1" fill="rgb(50, 111, 219)" opacity="0.85"/>
<rect x="204.9" y="234.1" width="1" height="1" fill="rgb(50, 93, 207)" opacity="0.85"/>
<rect x="193.1" y="219.5" width="1" height="1" fill="rgb(59, 182, 210)" opacity="0.85"/>
<rect x="189.0" y="222.8" width="1" height="1" fill="rgb(52, 138, 220)" opacity="0.85"/>
<rect x="202.0" y="221.9" width="1" height="1" fill="rgb(73, 191, 166)" opacity="0.85"/>
<rect x="194.0" y="241.9" width="1" height="1" fill="rgb(50, 56, 184)" opacity="0.85"/>
<rect x="196.2" y="237.6" width="1" height="1" fill="rgb(56, 161, 215)" opacity="0.85"/>
<rect x="199.4" y="232.7" width="1" height="1" fill="rgb(59, 183, 210)" opacity="0.85"/>
<rect x="193.5" y="212.7" width="1" height="1" fill="rgb(52, 136, 221)" opacity="0.85"/>
<rect x="205.1" y="227.1" width="1" height="1" fill="rgb(50, 109, 218)" opacity="0.85"/>
<rect x="195.9" y="245.6" width="1" height="1" fill="rgb(50, 65, 190)" opacity="0.85"/>
<rect x="190.0" y="218.7" width="1" height="1" fill="rgb(53, 141, 219)" opacity="0.85"/>
<rect x="202.0" y="225.7" width="1" height="1" fill="rgb(55, 152, 217)" opacity="0.85"/>
<rect x="201.7" y="231.1" width="1" height="1" fill="rgb(67, 188, 184)" opacity="0.85"/>
<rect x="189.7" y="231.6" width="1" height="1" fill="rgb(50, 123, 224)" opacity="0.85"/>
<rect x="201.4" y="222.0" width="1" height="1" fill="rgb(75, 192, 159)" opacity="0.85"/>
<rect x="207.0" y="227.9" width="1" height="1" fill="rgb(50, 87, 204)" opacity="0.85"/>
<rect x="202.9" y="213.6" width="1" height="1" fill="rgb(50, 117, 223)" opacity="0.85"/>
<rect x="201.2" y="241.1" width="1" height="1" fill="rgb(50, 65, 189)" opacity="0.85"/>
<rect x="192.8" y="216.1" width="1" height="1" fill="rgb(55, 158, 216)" opacity="0.85"/>
<rect x="190.9" y="232.8" width="1" height="1" fill="rgb(53, 140, 220)" opacity="0.85"/>
<rect x="207.5" y="226.5" width="1" height="1" fill="rgb(50, 77, 197)" opacity="0.85"/>
<rect x="201.9" y="223.3" width="1" height="1" fill="rgb(67, 188, 183)" opacity="0.85"/>
<rect x="203.1" y="235.7" width="1" height="1" fill="rgb(50, 96, 210)" opacity="0.85"/>
<rect x="192.3" y="232.2" width="1" height="1" fill="rgb(50, 126, 223)" opacity="0.85"/>
<rect x="196.9" y="239.2" width="1" height="1" fill="rgb(50, 97, 210)" opacity="0.85"/>
<rect x="189.9" y="234.2" width="1" height="1" fill="rgb(50, 99, 211)" opacity="0.85"/>
<rect x="192.9" y="230.1" width="1" height="1" fill="rgb(63, 186, 197)" opacity="0.85"/>
<rect x="185.9" y="227.8" width="1" height="1" fill="rgb(50, 68, 192)" opacity="0.85"/>
<rect x="191.4" y="212.0" width="1" height="1" fill="rgb(50, 86, 203)" opacity="0.85"/>
<rect x="202.6" y="226.6" width="1" height="1" fill="rgb(52, 139, 220)" opacity="0.85"/>
<rect x="188.4" y="228.1" width="1" height="1" fill="rgb(50, 100, 212)" opacity="0.85"/>
<rect x="201.5" y="231.1" width="1" height="1" fill="rgb(52, 137, 220)" opacity="0.85"/>
<rect x="197.5" y="233.5" width="1" height="1" fill="rgb(52, 139, 220)" opacity="0.85"/>
<rect x="201.5" y="228.1" width="1" height="1" fill="rgb(58, 178, 211)" opacity="0.85"/>
<rect x="203.3" y="221.1" width="1" height="1" fill="rgb(50, 118, 224)" opacity="0.85"/>
<rect x="198.4" y="238.0" width="1" height="1" fill="rgb(50, 122, 224)" opacity="0.85"/>
<rect x="206.5" y="210.1" width="1" height="1" fill="rgb(50, 78, 198)" opacity="0.85"/>
<rect x="207.0" y="237.2" width="1" height="1" fill="rgb(50, 70, 193)" opacity="0.85"/>
<rect x="202.2" y="220.9" width="1" height="1" fill="rgb(59, 183, 210)" opacity="0.85"/>
<rect x="202.2" y="229.0" width="1" height="1" fill="rgb(55, 152, 217)" opacity="0.85"/>
<rect x="199.1" y="236.3" width="1" height="1" fill="rgb(50, 122, 224)" opacity="0.85"/>
<rect x="204.8" y="225.8" width="1" height="1" fill="rgb(52, 136, 221)" opacity="0.85"/>
<rect x="202.9" y="226.4" width="1" height="1" fill="rgb(59, 183, 210)" opacity="0.85"/>
<rect x="189.3" y="225.1" width="1" height="1" fill="rgb(55, 155, 216)" opacity="0.85"/>
<rect x="202.9" y="236.4" width="1" height="1" fill="rgb(52, 138, 220)" opacity="0.85"/>
<rect x="196.1" y="209.3" width="1" height="1" fill="rgb(50, 89, 205)" opacity="0.85"/>
<rect x="197.9" y="235.7" width="1" height="1" fill="rgb(58, 175, 212)" opacity="0.85"/>
<rect x="202.6" y="226.9" width="1" height="1" fill="rgb(53, 141, 220)" opacity="0.85"/>
<rect x="200.1" y="237.4" width="1" height="1" fill="rgb(50, 122, 224)" opacity="0.85"/>
<rect x="202.0" y="222.0" width="1" height="1" fill="rgb(62, 186, 202)" opacity="0.85"/>
<rect x="210.2" y="226.5" width="1" height="1" fill="rgb(50, 52, 181)" opacity="0.85"/>
<rect x="190.3" y="226.4" width="1" height="1" fill="rgb(65, 187, 193)" opacity="0.85"/>
<rect x="202.9" y="225.0" width="1" height="1" fill="rgb(53, 145, 219)" opacity="0.85"/>
<rect x="192.6" y="229.0" width="1" height="1" fill="rgb(67, 188, 186)" opacity="0.85"/>
<rect x="202.1" y="226.1" width="1" height="1" fill="rgb(55, 152, 217)" opacity="0.85"/>
<rect x="190.0" y="227.9" width="1" height="1" fill="rgb(57, 166, 214)" opacity="0.85"/>
<rect x="207.0" y="238.9" width="1" height="1" fill="rgb(50, 50, 180)" opacity="0.85"/>
<rect x="201.2" y="232.4" width="1" height="1" fill="rgb(56, 162, 215)" opacity="0.85"/>
<rect x="191.6" y="220.5" width="1" height="1" fill="rgb(56, 160, 215)" opacity="0.85"/>
<rect x="203.0" y="217.4" width="1" height="1" fill="rgb(56, 161, 215)" opacity="0.85"/>
<rect x="202.1" y="222.1" width="1" height="1" fill="rgb(52, 138, 220)" opacity="0.85"/>
<rect x="200.7" y="218.9" width="1" height="1" fill="rgb(58, 174, 212)" opacity="0.85"/>
<rect x="202.6" y="213.2" width="1" height="1" fill="rgb(50, 116, 222)" opacity="0.85"/>
<rect x="197.1" y="236.7" width="1" height="1" fill="rgb(53, 140, 220)" opacity="0.85"/>
<rect x="200.5" y="208.8" width="1" height="1" fill="rgb(50, 112, 219)" opacity="0.85"/>
<rect x="202.5" y="218.8" width="1" height="1" fill="rgb(50, 124, 224)" opacity="0.85"/>
<rect x="197.2" y="232.6" width="1" height="1" fill="rgb(59, 181, 210)" opacity="0.85"/>
<rect x="196.4" y="213.9" width="1" height="1" fill="rgb(52, 137, 220)" opacity="0.85"/>
<rect x="192.2" y="212.4" width="1" height="1" fill="rgb(50, 81, 200)" opacity="0.85"/>
<rect x="188.6" y="226.9" width="1" height="1" fill="rgb(54, 146, 218)" opacity="0.85"/>
<rect x="206.1" y="221.4" width="1" height="1" fill="rgb(50, 96, 209)" opacity="0.85"/>
<rect x="184.2" y="233.5" width="1" height="1" fill="rgb(50, 50, 180)" opacity="0.85"/>
<rect x="185.0" y="236.0" width="1" height="1" fill="rgb(50, 81, 200)" opacity="0.85"/>
<rect x="197.8" y="237.9" width="1" height="1" fill="rgb(50, 111, 219)" opacity="0.85"/>
<rect x="191.9" y="213.4" width="1" height="1" fill="rgb(50, 93, 207)" opacity="0.85"/>
<rect x="200.5" y="231.1" width="1" height="1" fill="rgb(57, 167, 213)" opacity="0.85"/>
<rect x="203.2" y="230.0" width="1" height="1" fill="rgb(59, 181, 210)" opacity="0.85"/>
<rect x="192.2" y="221.5" width="1" height="1" fill="rgb(67, 188, 184)" opacity="0.85"/>
<rect x="187.2" y="239.9" width="1" height="1" fill="rgb(50, 73, 195)" opacity="0.85"/>
<rect x="200.8" y="215.2" width="1" height="1" fill="rgb(54, 147, 218)" opacity="0.85"/>
<rect x="199.9" y="237.8" width="1" height="1" fill="rgb(50, 103, 214)" opacity="0.85"/>
<rect x="196.4" y="239.8" width="1" height="1" fill="rgb(50, 110, 218)" opacity="0.85"/>
<rect x="203.4" y="211.8" width="1" height="1" fill="rgb(50, 97, 210)" opacity="0.85"/>
<rect x="188.2" y="222.2" width="1" height="1" fill="rgb(50, 108, 217)" opacity="0.85"/>
<rect x="200.7" y="235.9" width="1" height="1" fill="rgb(50, 97, 210)" opacity="0.85"/>
<rect x="199.8" y="230.8" width="1" height="1" fill="rgb(60, 185, 207)" opacity="0.85"/>
<rect x="194.4" y="232.5" width="1" height="1" fill="rgb(57, 170, 213)" opacity="0.85"/>
<rect x="203.3" y="231.1" width="1" height="1" fill="rgb(55, 155, 216)" opacity="0.85"/>
<rect x="196.0" y="239.1" width="1" height="1" fill="rgb(50, 124, 224)" opacity="0.85"/>
<rect x="193.3" y="232.8" width="1" height="1" fill="rgb(52, 136, 221)" opacity="0.85"/>
<rect x="203.2" y="220.6" width="1" height="1" fill="rgb(50, 116, 222)" opacity="0.85"/>
<rect x="201.6" y="235.1" width="1" height="1" fill="rgb(50, 119, 224)" opacity="0.85"/>
<rect x="199.7" y="211.3" width="1" height="1" fill="rgb(50, 85, 202)" opacity="0.85"/>
<rect x="194.2" y="211.1" width="1" height="1" fill="rgb(50, 125, 223)" opacity="0.85"/>
<rect x="193.1" y="216.2" width="1" height="1" fill="rgb(50, 121, 224)" opacity="0.85"/>
<rect x="199.4" y="234.9" width="1" height="1" fill="rgb(50, 117, 223)" opacity="0.85"/>
<rect x="196.5" y="233.4" width="1" height="1" fill="rgb(58, 174, 212)" opacity="0.85"/>
<rect x="194.8" y="236.0" width="1" height="1" fill="rgb(54, 152, 217)" opacity="0.85"/>
<rect x="187.9" y="213.7" width="1" height="1" fill="rgb(50, 68, 192)" opacity="0.85"/>
<rect x="193.8" y="235.9" width="1" height="1" fill="rgb(50, 116, 222)" opacity="0.85"/>
<rect x="198.2" y="210.2" width="1" height="1" fill="rgb(50, 115, 222)" opacity="0.85"/>
<rect x="206.3" y="221.4" width="1" height="1" fill="rgb(50, 99, 211)" opacity="0.85"/>
<rect x="193.3" y="236.7" width="1" height="1" fill="rgb(50, 96, 209)" opacity="0.85"/>
<rect x="203.1" y="227.9" width="1" height="1" fill="rgb(51, 130, 222)" opacity="0.85"/>
<rect x="207.1" y="218.2" width="1" height="1" fill="rgb(50, 90, 205)" opacity="0.85"/>
<rect x="190.1" y="224.6" width="1" height="1" fill="rgb(53, 145, 219)" opacity="0.85"/>
<rect x="195.4" y="215.4" width="1" height="1" fill="rgb(58, 176, 211)" opacity="0.85"/>
<rect x="192.0" y="231.0" width="1" height="1" fill="rgb(53, 143, 219)" opacity="0.85"/>
<rect x="194.2" y="233.3" width="1" height="1" fill="rgb(59, 180, 211)" opacity="0.85"/>
<rect x="197.5" y="217.4" width="1" height="1" fill="rgb(58, 175, 212)" opacity="0.85"/>
<rect x="208.3" y="216.8" width="1" height="1" fill="rgb(50, 80, 199)" opacity="0.85"/>
<rect x="201.6" y="230.4" width="1" height="1" fill="rgb(58, 177, 211)" opacity="0.85"/>
<rect x="208.8" y="222.9" width="1" height="1" fill="rgb(50, 62, 187)" opacity="0.85"/>
<rect x="189.3" y="227.4" width="1" height="1" fill="rgb(50, 125, 223)" opacity="0.85"/>
<rect x="205.1" y="230.6" width="1" height="1" fill="rgb(52, 136, 221)" opacity="0.85"/>
<rect x="194.6" y="238.3" width="1" height="1" fill="rgb(50, 93, 208)" opacity="0.85"/>
<rect x="200.3" y="233.4" width="1" height="1" fill="rgb(59, 181, 210)" opacity="0.85"/>
<rect x="197.3" y="216.6" width="1" height="1" fill="rgb(55, 158, 216)" opacity="0.85"/>
<rect x="196.3" y="238.1" width="1" height="1" fill="rgb(54, 148, 218)" opacity="0.85"/>
<rect x="201.9" y="219.9" width="1" height="1" fill="rgb(69, 189, 179)" opacity="0.85"/>
<rect x="188.3" y="227.7" width="1" height="1" fill="rgb(53, 141, 220)" opacity="0.85"/>
<rect x="198.7" y="218.3" width="1" height="1" fill="rgb(56, 164, 214)" opacity="0.85"/>
<rect x="196.6" y="234.0" width="1" height="1" fill="rgb(71, 190, 173)" opacity="0.85"/>
<rect x="203.2" y="237.6" width="1" height="1" fill="rgb(50, 87, 204)" opacity="0.85"/>
<rect x="201.0" y="236.7" width="1" height="1" fill="rgb(50, 109, 217)" opacity="0.85"/>
<rect x="199.0" y="232.7" width="1" height="1" fill="rgb(67, 188, 184)" opacity="0.85"/>
<rect x="201.5" y="217.1" width="1" height="1" fill="rgb(50, 112, 220)" opacity="0.85"/>
<rect x="197.4" y="214.1" width="1" height="1" fill="rgb(58, 174, 212)" opacity="0.85"/>
<rect x="202.7" y="213.0" width="1" height="1" fill="rgb(50, 92, 207)" opacity="0.85"/>
<rect x="193.2" y="230.8" width="1" height="1" fill="rgb(57, 167, 214)" opacity="0.85"/>
<rect x="198.5" y="242.3" width="1" height="1" fill="rgb(50, 77, 197)" opacity="0.85"/>
<rect x="189.2" y="212.4" width="1" height="1" fill="rgb(50, 103, 214)" opacity="0.85"/>
<rect x="197.2" y="242.9" width="1" height="1" fill="rgb(50, 96, 209)" opacity="0.85"/>
<rect x="205.7" y="224.2" width="1" height="1" fill="rgb(53, 140, 220)" opacity="0.85"/>
<rect x="193.8" y="218.5" width="1" height="1" fill="rgb(71, 190, 170)" opacity="0.85"/>
<rect x="201.4" y="232.4" width="1" height="1" fill="rgb(53, 141, 220)" opacity="0.85"/>
<rect x="199.0" y="218.4" width="1" height="1" fill="rgb(75, 192, 158)" opacity="0.85"/>
<rect x="203.3" y="211.6" width="1" height="1" fill="rgb(50, 71, 193)" opacity="0.85"/>
<rect x="205.2" y="220.0" width="1" height="1" fill="rgb(51, 130, 222)" opacity="0.85"/>
<rect x="201.6" y="217.7" width="1" height="1" fill="rgb(54, 149, 218)" opacity="0.85"/>
<rect x="191.7" y="236.8" width="1" height="1" fill="rgb(51, 130, 222)" opacity="0.85"/>
<rect x="206.5" y="227.3" width="1" height="1" fill="rgb(50, 94, 208)" opacity="0.85"/>
<rect x="191.4" y="226.9" width="1" height="1" fill="rgb(68, 189, 182)" opacity="0.85"/>
<rect x="188.9" y="212.5" width="1" height="1" fill="rgb(50, 85, 203)" opacity="0.85"/>
<rect x="204.0" y="217.3" width="1" height="1" fill="rgb(50, 109, 217)" opacity="0.85"/>
<rect x="201.9" y="217.6" width="1" height="1" fill="rgb(50, 118, 223)" opacity="0.85"/>
<rect x="188.0" y="217.2" width="1" height="1" fill="rgb(50, 104, 214)" opacity="0.85"/>
<rect x="191.1" y="225.8" width="1" height="1" fill="rgb(70, 190, 174)" opacity="0.85"/>
<rect x="193.4" y="230.8" width="1" height="1" fill="rgb(79, 194, 145)" opacity="0.85"/>
<rect x="191.9" y="220.4" width="1" height="1" fill="rgb(61, 185, 205)" opacity="0.85"/>
<rect x="186.7" y="222.8" width="1" height="1" fill="rgb(50, 121, 224)" opacity="0.85"/>
<rect x="196.5" y="210.7" width="1" height="1" fill="rgb(50, 92, 207)" opacity="0.85"/>
<rect x="191.9" y="228.2" width="1" height="1" fill="rgb(65, 187, 191)" opacity="0.85"/>
<rect x="190.6" y="222.3" width="1" height="1" fill="rgb(58, 173, 212)" opacity="0.85"/>
<rect x="205.4" y="240.7" width="1" height="1" fill="rgb(50, 90, 206)" opacity="0.85"/>
<rect x="187.7" y="219.7" width="1" height="1" fill="rgb(50, 91, 206)" opacity="0.85"/>
<rect x="202.7" y="219.6" width="1" height="1" fill="rgb(58, 172, 212)" opacity="0.85"/>
<rect x="200.3" y="219.4" width="1" height="1" fill="rgb(77, 193, 150)" opacity="0.85"/>
<rect x="185.0" y="224.7" width="1" height="1" fill="rgb(50, 108, 217)" opacity="0.85"/>
<rect x="203.1" y="222.3" width="1" height="1" fill="rgb(64, 187, 195)" opacity="0.85"/>
<rect x="190.0" y="214.4" width="1" height="1" fill="rgb(50, 103, 214)" opacity="0.85"/>
<rect x="195.9" y="233.2" width="1" height="1" fill="rgb(58, 173, 212)" opacity="0.85"/>
<rect x="201.8" y="225.3" width="1" height="1" fill="rgb(69, 189, 177)" opacity="0.85"/>
<rect x="196.6" y="234.6" width="1" height="1" fill="rgb(51, 132, 222)" opacity="0.85"/>
<rect x="187.3" y="214.6" width="1" height="1" fill="rgb(50, 67, 191)" opacity="0.85"/>
<rect x="189.2" y="218.5" width="1" height="1" fill="rgb(53, 141, 220)" opacity="0.85"/>
<rect x="194.8" y="212.8" width="1" height="1" fill="rgb(50, 110, 218)" opacity="0.85"/>
<rect x="203.4" y="209.6" width="1" height="1" fill="rgb(50, 52, 181)" opacity="0.85"/>
<rect x="202.4" y="222.0" width="1" height="1" fill="rgb(52, 136, 221)" opacity="0.85"/>
<rect x="205.7" y="231.0" width="1" height="1" fill="rgb(50, 119, 224)" opacity="0.85"/>
<rect x="200.6" y="231.9" width="1" height="1" fill="rgb(58, 176, 211)" opacity="0.85"/>
<rect x="201.8" y="224.9" width="1" height="1" fill="rgb(72, 191, 168)" opacity="0.85"/>
<rect x="199.8" y="232.0" width="1" height="1" fill="rgb(59, 182, 210)" opacity="0.85"/>
<rect x="190.9" y="226.1" width="1" height="1" fill="rgb(72, 191, 167)" opacity="0.85"/>
<rect x="183.6" y="226.7" width="1" height="1" fill="rgb(50, 67, 191)" opacity="0.85"/>
<rect x="199.2" y="235.1" width="1" height="1" fill="rgb(50, 118, 223)" opacity="0.85"/>
<defs><radialGradient id="g3" cx="0.5" cy="0.5" r="0.5"><stop offset="0" stop-color="rgb(73, 192, 163)"/><stop offset="0.12" stop-color="rgb(65, 187, 191)"/><stop offset="0.3" stop-color="rgb(56, 162, 215)"/><stop offset="0.5" stop-color="rgb(51, 129, 222)"/><stop offset="0.75" stop-color="rgb(50, 99, 211)" stop-opacity="0.9"/><stop offset="1" stop-color="rgb(50, 71, 193)" stop-opacity="0"/></radialGradient></defs>
<ellipse cx="108" cy="255.5" rx="9.35" ry="4.25" fill="url(#g3)"/>
<rect x="104.3" y="256.0" width="1" height="1" fill="rgb(50, 114, 221)" opacity="0.85"/>
<rect x="103.7" y="257.3" width="1" height="1" fill="rgb(50, 89, 205)" opacity="0.85"/>
<rect x="112.3" y="258.1" width="1" height="1" fill="rgb(50, 81, 200)" opacity="0.85"/>
<rect x="115.6" y="255.1" width="1" height="1" fill="rgb(50, 92, 207)" opacity="0.85"/>
<rect x="103.9" y="257.1" width="1" height="1" fill="rgb(50, 125, 223)" opacity="0.85"/>
<rect x="103.9" y="256.2" width="1" height="1" fill="rgb(50, 102, 213)" opacity="0.85"/>
<rect x="101.7" y="254.1" width="1" height="1" fill="rgb(50, 110, 219)" opacity="0.85"/>
<rect x="102.1" y="257.8" width="1" height="1" fill="rgb(50, 95, 209)" opacity="0.85"/>
<rect x="102.2" y="253.5" width="1" height="1" fill="rgb(50, 87, 204)" opacity="0.85"/>
<rect x="112.5" y="254.2" width="1" height="1" fill="rgb(50, 100, 212)" opacity="0.85"/>
<rect x="113.5" y="253.0" width="1" height="1" fill="rgb(50, 58, 185)" opacity="0.85"/>
<rect x="105.4" y="256.9" width="1" height="1" fill="rgb(50, 110, 218)" opacity="0.85"/>
<rect x="101.7" y="258.1" width="1" height="1" fill="rgb(50, 63, 188)" opacity="0.85"/>
<rect x="98.1" y="254.1" width="1" height="1" fill="rgb(50, 73, 194)" opacity="0.85"/>
<rect x="103.2" y="256.7" width="1" height="1" fill="rgb(50, 117, 223)" opacity="0.85"/>
<rect x="107.2" y="256.8" width="1" height="1" fill="rgb(50, 111, 219)" opacity="0.85"/>
<rect x="101.5" y="258.2" width="1" height="1" fill="rgb(50, 71, 193)" opacity="0.85"/>
<rect x="106.9" y="258.1" width="1" height="1" fill="rgb(50, 104, 214)" opacity="0.85"/>
<rect x="116.1" y="252.5" width="1" height="1" fill="rgb(50, 63, 188)" opacity="0.85"/>
<rect x="111.5" y="254.1" width="1" height="1" fill="rgb(50, 96, 209)" opacity="0.85"/>
<rect x="107.4" y="251.2" width="1" height="1" fill="rgb(50, 71, 193)" opacity="0.85"/>
<rect x="114.6" y="257.1" width="1" height="1" fill="rgb(50, 90, 205)" opacity="0.85"/>
<rect x="106.0" y="252.4" width="1" height="1" fill="rgb(50, 78, 198)" opacity="0.85"/>
<rect x="102.7" y="253.2" width="1" height="1" fill="rgb(50, 124, 223)" opacity="0.85"/>
<rect x="103.7" y="255.8" width="1" height="1" fill="rgb(50, 102, 213)" opacity="0.85"/>
<rect x="114.0" y="254.9" width="1" height="1" fill="rgb(50, 75, 196)" opacity="0.85"/>
<rect x="103.4" y="257.5" width="1" height="1" fill="rgb(50, 66, 190)" opacity="0.85"/>
<rect x="101.3" y="254.5" width="1" height="1" fill="rgb(50, 70, 192)" opacity="0.85"/>
<rect x="100.6" y="256.2" width="1" height="1" fill="rgb(50, 90, 205)" opacity="0.85"/>
<rect x="99.3" y="256.2" width="1" height="1" fill="rgb(50, 80, 199)" opacity="0.85"/>
<rect x="105.3" y="256.6" width="1" height="1" fill="rgb(54, 148, 218)" opacity="0.85"/>
<rect x="113.4" y="251.7" width="1" height="1" fill="rgb(50, 72, 194)" opacity="0.85"/>
<rect x="102.7" y="256.9" width="1" height="1" fill="rgb(50, 67, 191)" opacity="0.85"/>
<rect x="109.9" y="251.8" width="1" height="1" fill="rgb(50, 87, 204)" opacity="0.85"/>
<rect x="115.0" y="255.1" width="1" height="1" fill="rgb(50, 80, 199)" opacity="0.85"/>
<rect x="104.9" y="252.8" width="1" height="1" fill="rgb(50, 117, 223)" opacity="0.85"/>
<rect x="98.6" y="257.6" width="1" height="1" fill="rgb(50, 81, 200)" opacity="0.85"/>
<rect x="112.7" y="253.9" width="1" height="1" fill="rgb(50, 90, 206)" opacity="0.85"/>
<rect x="113.6" y="253.1" width="1" height="1" fill="rgb(50, 102, 213)" opacity="0.85"/>
<rect x="110.5" y="253.3" width="1" height="1" fill="rgb(50, 97, 210)" opacity="0.85"/>
<rect x="113.9" y="253.6" width="1" height="1" fill="rgb(50, 69, 192)" opacity="0.85"/>
<rect x="107.9" y="252.5" width="1" height="1" fill="rgb(51, 129, 222)" opacity="0.85"/>
<rect x="103.7" y="254.0" width="1" height="1" fill="rgb(53, 145, 219)" opacity="0.85"/>
<rect x="113.7" y="256.7" width="1" height="1" fill="rgb(50, 65, 189)" opacity="0.85"/>
<rect x="110.6" y="253.5" width="1" height="1" fill="rgb(51, 127, 223)" opacity="0.85"/>
<rect x="107.2" y="258.1" width="1" height="1" fill="rgb(50, 100, 212)" opacity="0.85"/>
<rect x="111.5" y="256.3" width="1" height="1" fill="rgb(50, 122, 224)" opacity="0.85"/>
<rect x="108.8" y="257.7" width="1" height="1" fill="rgb(50, 85, 203)" opacity="0.85"/>
<rect x="101.0" y="258.1" width="1" height="1" fill="rgb(50, 92, 207)" opacity="0.85"/>
<rect x="111.9" y="255.0" width="1" height="1" fill="rgb(50, 117, 223)" opacity="0.85"/>
<rect x="110.0" y="252.0" width="1" height="1" fill="rgb(50, 86, 203)" opacity="0.85"/>
<rect x="110.3" y="253.5" width="1" height="1" fill="rgb(54, 148, 218)" opacity="0.85"/>
<rect x="112.7" y="254.8" width="1" height="1" fill="rgb(50, 119, 224)" opacity="0.85"/>
<rect x="111.5" y="257.0" width="1" height="1" fill="rgb(50, 92, 207)" opacity="0.85"/>
<rect x="107.5" y="258.5" width="1" height="1" fill="rgb(50, 57, 184)" opacity="0.85"/>
<rect x="112.8" y="251.8" width="1" height="1" fill="rgb(50, 50, 180)" opacity="0.85"/>
<rect x="102.9" y="255.5" width="1" height="1" fill="rgb(50, 124, 223)" opacity="0.85"/>
<rect x="107.0" y="253.3" width="1" height="1" fill="rgb(55, 152, 217)" opacity="0.85"/>
<rect x="109.4" y="257.1" width="1" height="1" fill="rgb(50, 100, 212)" opacity="0.85"/>
<rect x="112.5" y="258.8" width="1" height="1" fill="rgb(50, 63, 188)" opacity="0.85"/>
<rect x="112.3" y="253.5" width="1" height="1" fill="rgb(51, 130, 222)" opacity="0.85"/>
<rect x="108.3" y="252.3" width="1" height="1" fill="rgb(50, 101, 213)" opacity="0.85"/>
<rect x="110.3" y="253.4" width="1" height="1" fill="rgb(50, 90, 205)" opacity="0.85"/>
<rect x="114.0" y="253.2" width="1" height="1" fill="rgb(50, 94, 208)" opacity="0.85"/>
<rect x="99.9" y="255.8" width="1" height="1" fill="rgb(50, 108, 217)" opacity="0.85"/>
<rect x="105.4" y="252.8" width="1" height="1" fill="rgb(50, 100, 212)" opacity="0.85"/>
<rect x="102.7" y="255.4" width="1" height="1" fill="rgb(50, 96, 209)" opacity="0.85"/>
<rect x="103.9" y="256.8" width="1" height="1" fill="rgb(50, 120, 224)" opacity="0.85"/>
<rect x="110.5" y="253.8" width="1" height="1" fill="rgb(55, 152, 217)" opacity="0.85"/>
<rect x="103.6" y="256.6" width="1" height="1" fill="rgb(50, 95, 209)" opacity="0.85"/>
<rect x="103.8" y="253.2" width="1" height="1" fill="rgb(52, 134, 221)" opacity="0.85"/>
<rect x="105.9" y="253.3" width="1" height="1" fill="rgb(54, 152, 217)" opacity="0.85"/>
<rect x="104.0" y="253.2" width="1" height="1" fill="rgb(51, 129, 222)" opacity="0.85"/>
<rect x="105.6" y="253.4" width="1" height="1" fill="rgb(50, 125, 223)" opacity="0.85"/>
<rect x="110.7" y="252.6" width="1" height="1" fill="rgb(50, 107, 216)" opacity="0.85"/>
<rect x="104.6" y="252.3" width="1" height="1" fill="rgb(50, 65, 190)" opacity="0.85"/>
<rect x="111.7" y="255.6" width="1" height="1" fill="rgb(54, 148, 218)" opacity="0.85"/>
<rect x="105.4" y="257.3" width="1" height="1" fill="rgb(50, 77, 197)" opacity="0.85"/>
<rect x="99.7" y="257.1" width="1" height="1" fill="rgb(50, 76, 196)" opacity="0.85"/>
<rect x="111.2" y="253.4" width="1" height="1" fill="rgb(50, 98, 211)" opacity="0.85"/>
<rect x="111.7" y="254.6" width="1" height="1" fill="rgb(51, 128, 222)" opacity="0.85"/>
<rect x="114.7" y="256.5" width="1" height="1" fill="rgb(50, 108, 217)" opacity="0.85"/>
<rect x="112.8" y="257.0" width="1" height="1" fill="rgb(50, 77, 197)" opacity="0.85"/>
<rect x="109.9" y="256.4" width="1" height="1" fill="rgb(51, 129, 222)" opacity="0.85"/>
<rect x="113.3" y="254.9" width="1" height="1" fill="rgb(50, 109, 218)" opacity="0.85"/>
<rect x="111.1" y="257.6" width="1" height="1" fill="rgb(50, 95, 209)" opacity="0.85"/>
<rect x="101.8" y="258.2" width="1" height="1" fill="rgb(50, 57, 185)" opacity="0.85"/>
<rect x="110.8" y="257.0" width="1" height="1" fill="rgb(50, 120, 224)" opacity="0.85"/>
<rect x="110.1" y="256.9" width="1" height="1" fill="rgb(50, 113, 220)" opacity="0.85"/>
<rect x="103.5" y="254.3" width="1" height="1" fill="rgb(50, 117, 223)" opacity="0.85"/>
<rect x="111.5" y="256.2" width="1" height="1" fill="rgb(50, 104, 214)" opacity="0.85"/>
<rect x="103.9" y="257.8" width="1" height="1" fill="rgb(50, 73, 194)" opacity="0.85"/>
<defs><radialGradient id="g4" cx="0.5" cy="0.5" r="0.5"><stop offset="0" stop-color="rgb(77, 193, 150)"/><stop offset="0.12" stop-color="rgb(69, 189, 179)"/><stop offset="0.3" stop-color="rgb(57, 167, 214)"/><stop offset="0.5" stop-color="rgb(52, 133, 221)"/><stop offset="0.75" stop-color="rgb(50, 100, 212)" stop-opacity="0.9"/><stop offset="1" stop-color="rgb(50, 71, 193)" stop-opacity="0"/></radialGradient></defs>
<ellipse cx="233.5" cy="256.2" rx="11.049999999999999" ry="4.25" fill="url(#g4)"/>
<rect x="228.5" y="252.5" width="1" height="1" fill="rgb(50, 79, 199)" opacity="0.85"/>
<rect x="221.8" y="255.6" width="1" height="1" fill="rgb(50, 73, 194)" opacity="0.85"/>
<rect x="239.1" y="257.2" width="1" height="1" fill="rgb(50, 96, 209)" opacity="0.85"/>
<rect x="230.9" y="257.8" width="1" height="1" fill="rgb(53, 140, 220)" opacity="0.85"/>
<rect x="239.5" y="254.1" width="1" height="1" fill="rgb(50, 91, 206)" opacity="0.85"/>
<rect x="239.9" y="258.3" width="1" height="1" fill="rgb(50, 88, 204)" opacity="0.85"/>
<rect x="236.8" y="257.9" width="1" height="1" fill="rgb(50, 77, 197)" opacity="0.85"/>
<rect x="228.5" y="255.6" width="1" height="1" fill="rgb(50, 99, 212)" opacity="0.85"/>
<rect x="232.6" y="252.7" width="1" height="1" fill="rgb(50, 95, 209)" opacity="0.85"/>
<rect x="236.6" y="258.2" width="1" height="1" fill="rgb(50, 94, 208)" opacity="0.85"/>
<rect x="233.8" y="257.6" width="1" height="1" fill="rgb(50, 101, 212)" opacity="0.85"/>
<rect x="239.4" y="257.2" width="1" height="1" fill="rgb(51, 126, 223)" opacity="0.85"/>
<rect x="226.9" y="257.4" width="1" height="1" fill="rgb(50, 93, 207)" opacity="0.85"/>
<rect x="227.3" y="255.7" width="1" height="1" fill="rgb(50, 94, 208)" opacity="0.85"/>
<rect x="230.2" y="253.8" width="1" height="1" fill="rgb(51, 132, 222)" opacity="0.85"/>
<rect x="230.0" y="260.0" width="1" height="1" fill="rgb(50, 82, 200)" opacity="0.85"/>
<rect x="230.0" y="253.0" width="1" height="1" fill="rgb(50, 100, 212)" opacity="0.85"/>
<rect x="231.1" y="252.4" width="1" height="1" fill="rgb(50, 64, 189)" opacity="0.85"/>
<rect x="226.1" y="254.2" width="1" height="1" fill="rgb(50, 85, 202)" opacity="0.85"/>
<rect x="231.4" y="254.0" width="1" height="1" fill="rgb(52, 136, 221)" opacity="0.85"/>
<rect x="239.7" y="257.4" width="1" height="1" fill="rgb(50, 114, 221)" opacity="0.85"/>
<rect x="238.4" y="253.5" width="1" height="1" fill="rgb(50, 73, 194)" opacity="0.85"/>
<rect x="227.6" y="257.6" width="1" height="1" fill="rgb(50, 70, 193)" opacity="0.85"/>
<rect x="237.5" y="256.2" width="1" height="1" fill="rgb(54, 150, 217)" opacity="0.85"/>
<rect x="240.3" y="253.9" width="1" height="1" fill="rgb(50, 108, 217)" opacity="0.85"/>
<rect x="225.6" y="252.1" width="1" height="1" fill="rgb(50, 64, 189)" opacity="0.85"/>
<rect x="235.0" y="257.9" width="1" height="1" fill="rgb(50, 108, 217)" opacity="0.85"/>
<rect x="230.5" y="257.3" width="1" height="1" fill="rgb(50, 120, 224)" opacity="0.85"/>
<rect x="232.0" y="257.9" width="1" height="1" fill="rgb(50, 111, 219)" opacity="0.85"/>
<rect x="226.6" y="257.1" width="1" height="1" fill="rgb(50, 81, 200)" opacity="0.85"/>
<rect x="234.0" y="252.8" width="1" height="1" fill="rgb(50, 111, 219)" opacity="0.85"/>
<rect x="238.3" y="254.7" width="1" height="1" fill="rgb(50, 103, 214)" opacity="0.85"/>
<rect x="231.7" y="257.6" width="1" height="1" fill="rgb(52, 133, 221)" opacity="0.85"/>
<rect x="235.4" y="253.7" width="1" height="1" fill="rgb(51, 127, 223)" opacity="0.85"/>
<rect x="234.3" y="257.7" width="1" height="1" fill="rgb(50, 106, 216)" opacity="0.85"/>
<rect x="231.4" y="257.4" width="1" height="1" fill="rgb(53, 140, 220)" opacity="0.85"/>
<rect x="233.9" y="259.0" width="1" height="1" fill="rgb(50, 96, 210)" opacity="0.85"/>
<rect x="229.9" y="253.3" width="1" height="1" fill="rgb(50, 112, 220)" opacity="0.85"/>
<rect x="238.9" y="255.2" width="1" height="1" fill="rgb(50, 119, 224)" opacity="0.85"/>
<rect x="241.7" y="255.0" width="1" height="1" fill="rgb(50, 70, 193)" opacity="0.85"/>
<rect x="235.3" y="252.7" width="1" height="1" fill="rgb(50, 92, 207)" opacity="0.85"/>
<rect x="225.2" y="255.9" width="1" height="1" fill="rgb(50, 117, 223)" opacity="0.85"/>
<rect x="238.8" y="252.6" width="1" height="1" fill="rgb(50, 74, 195)" opacity="0.85"/>
<rect x="241.5" y="254.0" width="1" height="1" fill="rgb(50, 70, 193)" opacity="0.85"/>
<rect x="239.2" y="252.5" width="1" height="1" fill="rgb(50, 69, 192)" opacity="0.85"/>
<rect x="236.0" y="258.8" width="1" height="1" fill="rgb(50, 82, 200)" opacity="0.85"/>
<rect x="240.8" y="258.5" width="1" height="1" fill="rgb(50, 68, 191)" opacity="0.85"/>
<rect x="227.7" y="257.2" width="1" height="1" fill="rgb(50, 90, 206)" opacity="0.85"/>
<rect x="237.9" y="255.9" width="1" height="1" fill="rgb(50, 111, 219)" opacity="0.85"/>
<rect x="237.8" y="255.8" width="1" height="1" fill="rgb(53, 140, 220)" opacity="0.85"/>
<rect x="229.3" y="258.2" width="1" height="1" fill="rgb(50, 104, 215)" opacity="0.85"/>
<rect x="229.9" y="253.4" width="1" height="1" fill="rgb(50, 91, 206)" opacity="0.85"/>
<rect x="236.0" y="259.3" width="1" height="1" fill="rgb(50, 102, 213)" opacity="0.85"/>
<rect x="233.7" y="258.2" width="1" height="1" fill="rgb(50, 109, 218)" opacity="0.85"/>
<rect x="229.8" y="258.1" width="1" height="1" fill="rgb(50, 106, 216)" opacity="0.85"/>
<rect x="228.9" y="256.6" width="1" height="1" fill="rgb(54, 151, 217)" opacity="0.85"/>
<rect x="233.6" y="259.4" width="1" height="1" fill="rgb(50, 64, 189)" opacity="0.85"/>
<rect x="228.9" y="254.7" width="1" height="1" fill="rgb(50, 93, 207)" opacity="0.85"/>
<rect x="235.6" y="252.4" width="1" height="1" fill="rgb(50, 72, 194)" opacity="0.85"/>
<rect x="233.9" y="253.6" width="1" height="1" fill="rgb(54, 147, 218)" opacity="0.85"/>
<rect x="237.6" y="256.3" width="1" height="1" fill="rgb(50, 103, 214)" opacity="0.85"/>
<rect x="226.9" y="253.4" width="1" height="1" fill="rgb(50, 107, 217)" opacity="0.85"/>
<rect x="228.3" y="255.1" width="1" height="1" fill="rgb(53, 141, 220)" opacity="0.85"/>
<rect x="233.1" y="253.7" width="1" height="1" fill="rgb(54, 151, 217)" opacity="0.85"/>
<rect x="237.6" y="256.8" width="1" height="1" fill="rgb(50, 97, 210)" opacity="0.85"/>
<rect x="237.0" y="256.7" width="1" height="1" fill="rgb(50, 116, 222)" opacity="0.85"/>
<rect x="231.2" y="253.5" width="1" height="1" fill="rgb(53, 143, 219)" opacity="0.85"/>
<rect x="235.9" y="257.7" width="1" height="1" fill="rgb(50, 110, 218)" opacity="0.85"/>
<rect x="226.2" y="258.4" width="1" height="1" fill="rgb(50, 62, 187)" opacity="0.85"/>
<rect x="236.3" y="254.5" width="1" height="1" fill="rgb(50, 111, 219)" opacity="0.85"/>
<rect x="228.2" y="254.1" width="1" height="1" fill="rgb(50, 94, 208)" opacity="0.85"/>
<rect x="243.6" y="258.1" width="1" height="1" fill="rgb(50, 51, 180)" opacity="0.85"/>
<rect x="238.4" y="257.5" width="1" height="1" fill="rgb(50, 101, 213)" opacity="0.85"/>
<rect x="235.5" y="254.3" width="1" height="1" fill="rgb(50, 117, 223)" opacity="0.85"/>
<rect x="237.5" y="255.2" width="1" height="1" fill="rgb(50, 114, 221)" opacity="0.85"/>
<rect x="236.8" y="258.1" width="1" height="1" fill="rgb(50, 108, 217)" opacity="0.85"/>
<rect x="228.2" y="256.3" width="1" height="1" fill="rgb(50, 102, 213)" opacity="0.85"/>
<rect x="234.4" y="253.7" width="1" height="1" fill="rgb(52, 137, 220)" opacity="0.85"/>
<rect x="227.3" y="257.9" width="1" height="1" fill="rgb(50, 66, 190)" opacity="0.85"/>
<rect x="235.4" y="260.4" width="1" height="1" fill="rgb(50, 66, 190)" opacity="0.85"/>
<rect x="230.4" y="253.7" width="1" height="1" fill="rgb(50, 109, 218)" opacity="0.85"/>
<rect x="228.4" y="253.4" width="1" height="1" fill="rgb(50, 83, 201)" opacity="0.85"/>
<rect x="226.2" y="256.0" width="1" height="1" fill="rgb(50, 82, 200)" opacity="0.85"/>
<rect x="230.3" y="258.4" width="1" height="1" fill="rgb(50, 100, 212)" opacity="0.85"/>
<rect x="226.6" y="253.5" width="1" height="1" fill="rgb(50, 92, 207)" opacity="0.85"/>
<rect x="233.9" y="257.7" width="1" height="1" fill="rgb(52, 138, 220)" opacity="0.85"/>
<rect x="225.5" y="254.4" width="1" height="1" fill="rgb(50, 83, 201)" opacity="0.85"/>
<rect x="236.1" y="253.2" width="1" height="1" fill="rgb(50, 78, 198)" opacity="0.85"/>
<rect x="235.8" y="253.7" width="1" height="1" fill="rgb(50, 82, 200)" opacity="0.85"/>
<rect x="237.1" y="254.4" width="1" height="1" fill="rgb(52, 139, 220)" opacity="0.85"/>
<rect x="230.7" y="253.5" width="1" height="1" fill="rgb(51, 132, 222)" opacity="0.85"/>
<rect x="236.1" y="259.6" width="1" height="1" fill="rgb(50, 63, 188)" opacity="0.85"/>
<rect x="237.4" y="256.0" width="1" height="1" fill="rgb(50, 97, 210)" opacity="0.85"/>
<rect x="239.2" y="256.9" width="1" height="1" fill="rgb(50, 81, 199)" opacity="0.85"/>
<rect x="231.0" y="259.9" width="1" height="1" fill="rgb(50, 90, 206)" opacity="0.85"/>
<rect x="224.8" y="256.9" width="1" height="1" fill="rgb(50, 74, 195)" opacity="0.85"/>
<rect x="241.1" y="254.2" width="1" height="1" fill="rgb(50, 98, 210)" opacity="0.85"/>
<rect x="238.6" y="254.6" width="1" height="1" fill="rgb(50, 113, 221)" opacity="0.85"/>
<rect x="231.3" y="253.7" width="1" height="1" fill="rgb(52, 133, 221)" opacity="0.85"/>
<rect x="232.7" y="252.1" width="1" height="1" fill="rgb(50, 68, 191)" opacity="0.85"/>
<rect x="231.3" y="253.9" width="1" height="1" fill="rgb(50, 102, 213)" opacity="0.85"/>
<rect x="235.5" y="260.3" width="1" height="1" fill="rgb(50, 51, 180)" opacity="0.85"/>
<rect x="227.2" y="255.6" width="1" height="1" fill="rgb(50, 84, 202)" opacity="0.85"/>
<rect x="233.2" y="252.6" width="1" height="1" fill="rgb(50, 113, 220)" opacity="0.85"/>
<rect x="228.4" y="258.2" width="1" height="1" fill="rgb(50, 102, 213)" opacity="0.85"/>
<rect x="228.0" y="257.0" width="1" height="1" fill="rgb(50, 90, 205)" opacity="0.85"/>
<rect x="237.9" y="254.6" width="1" height="1" fill="rgb(50, 113, 220)" opacity="0.85"/>
<rect x="232.2" y="254.0" width="1" height="1" fill="rgb(53, 145, 219)" opacity="0.85"/>
<rect x="229.3" y="254.1" width="1" height="1" fill="rgb(50, 105, 215)" opacity="0.85"/>
<rect x="62.7" y="259.0" width="1" height="1" fill="rgb(120,130,210)"/>
<rect x="197.1" y="251.6" width="1" height="1" fill="rgb(120,130,210)"/>
<rect x="66.1" y="256.0" width="1" height="1" fill="rgb(120,130,210)"/>
<rect x="190.4" y="256.8" width="1" height="1" fill="rgb(120,130,210)"/>
<rect x="69.1" y="251.4" width="1" height="1" fill="rgb(120,130,210)"/>
<rect x="204.4" y="260.1" width="1" height="1" fill="rgb(120,130,210)"/>
<rect x="64.7" y="259.2" width="1" height="1" fill="rgb(120,130,210)"/>
<rect x="188.2" y="254.1" width="1" height="1" fill="rgb(120,130,210)"/>
<rect x="57.3" y="249.8" width="1" height="1" fill="rgb(120,130,210)"/>
<rect x="183.9" y="249.4" width="1" height="1" fill="rgb(120,130,210)"/>
<rect x="57.9" y="249.2" width="1" height="1" fill="rgb(120,130,210)"/>
<rect x="200.8" y="251.1" width="1" height="1" fill="rgb(120,130,210)"/>
<rect x="66.3" y="249.2" width="1" height="1" fill="rgb(120,130,210)"/>
<rect x="192.6" y="250.6" width="1" height="1" fill="rgb(120,130,210)"/>
<rect x="60.1" y="254.1" width="1" height="1" fill="rgb(120,130,210)"/>
<rect x="195.2" y="255.5" width="1" height="1" fill="rgb(120,130,210)"/>
<rect x="57.5" y="259.6" width="1" height="1" fill="rgb(120,130,210)"/>
<rect x="199.6" y="248.2" width="1" height="1" fill="rgb(120,130,210)"/>
<rect x="66.0" y="247.6" width="1" height="1" fill="rgb(120,130,210)"/>
<rect x="195.3" y="258.7" width="1" height="1" fill="rgb(120,130,210)"/>
<rect x="57.4" y="250.3" width="1" height="1" fill="rgb(120,130,210)"/>
<rect x="193.8" y="258.9" width="1" height="1" fill="rgb(120,130,210)"/>
<rect x="60.2" y="250.4" width="1" height="1" fill="rgb(120,130,210)"/>
<rect x="206.1" y="256.0" width="1" height="1" fill="rgb(120,130,210)"/>
<rect x="60.1" y="254.2" width="1" height="1" fill="rgb(120,130,210)"/>
<rect x="192.4" y="248.9" width="1" height="1" fill="rgb(120,130,210)"/>
<rect x="58.2" y="249.3" width="1" height="1" fill="rgb(120,130,210)"/>
<rect x="189.8" y="255.7" width="1" height="1" fill="rgb(120,130,210)"/>
<rect x="62.8" y="259.6" width="1" height="1" fill="rgb(120,130,210)"/>
<rect x="194.2" y="260.2" width="1" height="1" fill="rgb(120,130,210)"/>
<rect x="66.6" y="248.3" width="1" height="1" fill="rgb(120,130,210)"/>
<rect x="198.4" y="251.5" width="1" height="1" fill="rgb(120,130,210)"/>
<rect x="68.0" y="250.8" width="1" height="1" fill="rgb(120,130,210)"/>
<rect x="200.6" y="252.2" width="1" height="1" fill="rgb(120,130,210)"/>
<rect x="58.3" y="258.8" width="1" height="1" fill="rgb(120,130,210)"/>
<rect x="198.4" y="258.1" width="1" height="1" fill="rgb(120,130,210)"/>
<rect x="65.7" y="247.1" width="1" height="1" fill="rgb(120,130,210)"/>
<rect x="199.8" y="252.6" width="1" height="1" fill="rgb(120,130,210)"/>
<rect x="69.0" y="258.7" width="1" height="1" fill="rgb(120,130,210)"/>
<rect x="202.8" y="261.9" width="1" height="1" fill="rgb(120,130,210)"/>
<rect x="63.3" y="258.4" width="1" height="1" fill="rgb(120,130,210)"/>
<rect x="198.6" y="253.8" width="1" height="1" fill="rgb(120,130,210)"/>
<rect x="67.5" y="251.7" width="1" height="1" fill="rgb(120,130,210)"/>
<rect x="194.5" y="249.0" width="1" height="1" fill="rgb(120,130,210)"/>
<rect x="68.7" y="253.6" width="1" height="1" fill="rgb(120,130,210)"/>
<rect x="194.7" y="254.1" width="1" height="1" fill="rgb(120,130,210)"/>
<rect x="64.1" y="254.1" width="1" height="1" fill="rgb(120,130,210)"/>
<rect x="185.8" y="250.5" width="1" height="1" fill="rgb(120,130,210)"/>
<rect x="54.2" y="253.1" width="1" height="1" fill="rgb(120,130,210)"/>
<rect x="204.0" y="257.3" width="1" height="1" fill="rgb(120,130,210)"/>
<rect x="57.8" y="255.6" width="1" height="1" fill="rgb(120,130,210)"/>
<rect x="194.6" y="251.4" width="1" height="1" fill="rgb(120,130,210)"/>
<rect x="53.6" y="248.2" width="1" height="1" fill="rgb(120,130,210)"/>
<rect x="192.8" y="253.2" width="1" height="1" fill="rgb(120,130,210)"/>
<rect x="73.1" y="247.2" width="1" height="1" fill="rgb(120,130,210)"/>
<rect x="185.7" y="256.8" width="1" height="1" fill="rgb(120,130,210)"/>
<rect x="56.5" y="254.0" width="1" height="1" fill="rgb(120,130,210)"/>
<rect x="188.5" y="249.8" width="1" height="1" fill="rgb(120,130,210)"/>
<rect x="60.5" y="257.9" width="1" height="1" fill="rgb(120,130,210)"/>
<rect x="206.0" y="250.9" width="1" height="1" fill="rgb(120,130,210)"/>
<rect x="231.1" y="231.3" width="1" height="1" fill="rgb(190,195,230)"/>
<rect x="231.4" y="205.9" width="1" height="1" fill="rgb(190,195,230)"/>
<rect x="226.0" y="218.0" width="1" height="1" fill="rgb(190,195,230)"/>
<rect x="229.9" y="218.5" width="1" height="1" fill="rgb(190,195,230)"/>
<rect x="218.2" y="231.8" width="1" height="1" fill="rgb(190,195,230)"/>
<rect x="222.2" y="236.6" width="1" height="1" fill="rgb(190,195,230)"/>
<rect x="222.6" y="226.8" width="1" height="1" fill="rgb(190,195,230)"/>
<rect x="235.2" y="209.6" width="1" height="1" fill="rgb(190,195,230)"/>
<rect x="233.3" y="207.7" width="1" height="1" fill="rgb(190,195,230)"/>
<rect x="238.4" y="206.0" width="1" height="1" fill="rgb(190,195,230)"/>
<rect x="233.1" y="219.7" width="1" height="1" fill="rgb(190,195,230)"/>
<rect x="219.5" y="220.8" width="1" height="1" fill="rgb(190,195,230)"/>
<rect x="227.5" y="221.6" width="1" height="1" fill="rgb(190,195,230)"/>
<rect x="218.1" y="225.9" width="1" height="1" fill="rgb(190,195,230)"/>
<text x="340.50" y="161.97" font-size="12.5" text-anchor="start" font-weight="bold" fill="#111" style="color:#111" >E</text>
<line x1="371.00" y1="190.50" x2="371.00" y2="282.00" stroke="#333" stroke-width="1" />
<line x1="370.50" y1="281.50" x2="462.00" y2="281.50" stroke="#333" stroke-width="1" />
<line x1="367.50" y1="281.50" x2="371.00" y2="281.50" stroke="#333" stroke-width="1" />
<text x="366.00" y="284.11" font-size="7.3" text-anchor="end" font-weight="normal" fill="#333" style="color:#333" >0</text>
<line x1="367.50" y1="263.35" x2="371.00" y2="263.35" stroke="#333" stroke-width="1" />
<text x="366.00" y="265.96" font-size="7.3" text-anchor="end" font-weight="normal" fill="#333" style="color:#333" >5</text>
<line x1="367.50" y1="245.20" x2="371.00" y2="245.20" stroke="#333" stroke-width="1" />
<text x="366.00" y="247.81" font-size="7.3" text-anchor="end" font-weight="normal" fill="#333" style="color:#333" >10</text>
<line x1="367.50" y1="227.05" x2="371.00" y2="227.05" stroke="#333" stroke-width="1" />
<text x="366.00" y="229.66" font-size="7.3" text-anchor="end" font-weight="normal" fill="#333" style="color:#333" >15</text>
<line x1="367.50" y1="208.90" x2="371.00" y2="208.90" stroke="#333" stroke-width="1" />
<text x="366.00" y="211.51" font-size="7.3" text-anchor="end" font-weight="normal" fill="#333" style="color:#333" >20</text>
<line x1="367.50" y1="190.75" x2="371.00" y2="190.75" stroke="#333" stroke-width="1" />
<text x="366.00" y="193.36" font-size="7.3" text-anchor="end" font-weight="normal" fill="#333" style="color:#333" >25</text>
<text transform="translate(352.00,236.50) rotate(-90)" x="0" y="2.79" font-size="7.8" text-anchor="middle" font-weight="normal" fill="#222" style="color:#222" >Number of mice</text>
<rect x="383.30" y="198.01" width="25.90" height="61.71" fill="#ec1e26" />
<rect x="383.30" y="259.72" width="25.90" height="21.78" fill="#3b50a3" />
<rect x="422.40" y="190.75" width="25.90" height="36.30" fill="#ec1e26" />
<rect x="422.40" y="227.05" width="25.90" height="54.45" fill="#3b50a3" />
<rect x="383.3" y="198.01" width="25.9" height="83.49" fill="none" stroke="#222" stroke-width="0.8"/>
<rect x="422.4" y="190.75" width="25.9" height="90.75" fill="none" stroke="#222" stroke-width="0.8"/>
<line x1="383.30" y1="259.72" x2="409.20" y2="259.72" stroke="#222" stroke-width="0.8" />
<line x1="422.40" y1="227.05" x2="448.30" y2="227.05" stroke="#222" stroke-width="0.8" />
<text x="396.20" y="231.91" font-size="8.5" text-anchor="middle" font-weight="normal" fill="#f4f4f8" style="color:#f4f4f8;stroke-width:0px" >17</text>
<text x="396.20" y="273.65" font-size="8.5" text-anchor="middle" font-weight="normal" fill="#f4f4f8" style="color:#f4f4f8;stroke-width:0px" >6</text>
<text x="435.30" y="211.94" font-size="8.5" text-anchor="middle" font-weight="normal" fill="#f4f4f8" style="color:#f4f4f8;stroke-width:0px" >10</text>
<text x="435.30" y="257.32" font-size="8.5" text-anchor="middle" font-weight="normal" fill="#f4f4f8" style="color:#f4f4f8;stroke-width:0px" >15</text>
<line x1="396.00" y1="281.50" x2="396.00" y2="284.50" stroke="#333" stroke-width="1" />
<line x1="435.30" y1="281.50" x2="435.30" y2="284.50" stroke="#333" stroke-width="1" />
<text x="395.40" y="294.69" font-size="7.5" text-anchor="middle" font-weight="normal" fill="#222" style="color:#222" >WT-WT</text>
<text x="435.30" y="294.69" font-size="7.5" text-anchor="middle" font-weight="normal" fill="#222" style="color:#222" >KO-WT</text>
<line x1="402.30" y1="180.50" x2="433.50" y2="180.50" stroke="#555" stroke-width="0.9" />
<line x1="402.30" y1="178.50" x2="402.30" y2="182.50" stroke="#555" stroke-width="0.9" />
<line x1="433.50" y1="178.50" x2="433.50" y2="182.50" stroke="#555" stroke-width="0.9" />
<text x="418.00" y="176.51" font-size="7" text-anchor="middle" font-weight="normal" fill="#333" style="color:#333" >0.022</text>
<rect x="455.30" y="194.80" width="9.30" height="4.80" fill="#ec1e26" stroke="#222" stroke-width="0.6"/>
<text x="467.00" y="200.06" font-size="7.7" text-anchor="start" font-weight="normal" fill="#222" style="color:#222" >No met</text>
<rect x="455.30" y="206.80" width="9.30" height="4.80" fill="#3b50a3" stroke="#222" stroke-width="0.6"/>
<text x="467.00" y="212.06" font-size="7.7" text-anchor="start" font-weight="normal" fill="#222" style="color:#222" >Met</text>
<text x="1.50" y="341.48" font-size="12.5" text-anchor="start" font-weight="bold" fill="#111" style="color:#111" >F</text>
<text x="38.20" y="371.42" font-size="9" text-anchor="middle" font-weight="bold" fill="#111" style="color:#111" >WT</text>
<text x="30.20" y="438.62" font-size="9" text-anchor="middle" font-weight="bold" fill="#111" style="color:#111" >SNPH-KO</text>
<defs><filter id="pb" x="-50%" y="-50%" width="200%" height="200%"><feGaussianBlur stdDeviation="1.3"/></filter><filter id="sb" x="-50%" y="-50%" width="200%" height="200%"><feGaussianBlur stdDeviation="0.6"/></filter></defs>
<rect x="55" y="343" width="50.8" height="50.3" fill="#ddd0be"/>
<defs><clipPath id="cl1"><ellipse transform="rotate(15 70.8 366.7)" cx="70.8" cy="366.7" rx="7.2540000000000004" ry="11.904000000000002"/><ellipse transform="rotate(0 87.5 367.0)" cx="87.5" cy="367.0" rx="10.695" ry="14.508000000000001"/></clipPath><filter id="lf1" x="-25%" y="-25%" width="150%" height="150%" color-interpolation-filters="sRGB"><feTurbulence type="fractalNoise" baseFrequency="0.13" numOctaves="2" seed="3" result="n"/><feDisplacementMap in="SourceGraphic" in2="n" scale="3" xChannelSelector="R" yChannelSelector="G" result="d"/><feGaussianBlur in="d" stdDeviation="0.7"/></filter></defs>
<g filter="url(#lf1)">
<ellipse transform="rotate(15 70.8 366.7)" cx="70.8" cy="366.7" rx="8.054" ry="12.704000000000002" fill="#e7ceb7"/>
<ellipse transform="rotate(0 87.5 367.0)" cx="87.5" cy="367.0" rx="11.495000000000001" ry="15.308000000000002" fill="#e7ceb7"/>
<g clip-path="url(#cl1)">
<ellipse transform="rotate(15 70.8 366.7)" cx="70.8" cy="366.7" rx="7.2540000000000004" ry="11.904000000000002" fill="#e89a7c"/>
<ellipse transform="rotate(0 87.5 367.0)" cx="87.5" cy="367.0" rx="10.695" ry="14.508000000000001" fill="#e89a7c"/>
<g filter="url(#pb)">
<ellipse cx="79.2" cy="368.7" rx="4.3" ry="4.7" fill="#efb89b" opacity="0.46"/>
<ellipse cx="81.3" cy="370.8" rx="3.9" ry="3.0" fill="#e06a57" opacity="0.68"/>
<ellipse cx="87.6" cy="353.7" rx="4.4" ry="5.1" fill="#f9e6d7" opacity="0.62"/>
<ellipse cx="69.0" cy="352.9" rx="3.1" ry="2.7" fill="#e1715c" opacity="0.41"/>
<ellipse cx="79.6" cy="365.3" rx="4.0" ry="4.2" fill="#f0bc9f" opacity="0.63"/>
<ellipse cx="79.4" cy="360.6" rx="4.5" ry="5.8" fill="#f9e6d7" opacity="0.65"/>
<ellipse cx="74.5" cy="359.2" rx="2.4" ry="2.3" fill="#db4f42" opacity="0.70"/>
<ellipse cx="76.9" cy="380.3" rx="4.0" ry="5.4" fill="#e1705b" opacity="0.56"/>
<ellipse cx="97.5" cy="364.0" rx="1.7" ry="1.5" fill="#f1c1a3" opacity="0.43"/>
<ellipse cx="75.1" cy="380.5" rx="3.8" ry="2.9" fill="#e06e59" opacity="0.42"/>
<ellipse cx="91.2" cy="357.6" rx="3.2" ry="3.9" fill="#e1715c" opacity="0.45"/>
<ellipse cx="85.9" cy="355.9" rx="2.8" ry="3.8" fill="#e06c58" opacity="0.68"/>
<ellipse cx="74.1" cy="378.2" rx="2.1" ry="2.5" fill="#da4a3e" opacity="0.44"/>
<ellipse cx="97.8" cy="358.7" rx="2.3" ry="2.1" fill="#edb395" opacity="0.43"/>
<ellipse cx="66.7" cy="369.4" rx="2.2" ry="2.3" fill="#eeb497" opacity="0.74"/>
<ellipse cx="80.3" cy="369.2" rx="4.1" ry="5.5" fill="#e1735e" opacity="0.69"/>
<ellipse cx="72.2" cy="358.0" rx="3.7" ry="3.1" fill="#f9e6d7" opacity="0.73"/>
<ellipse cx="94.1" cy="370.0" rx="2.8" ry="3.8" fill="#e27a63" opacity="0.48"/>
<ellipse cx="88.0" cy="359.9" rx="4.0" ry="3.3" fill="#edb294" opacity="0.65"/>
<ellipse cx="65.9" cy="359.1" rx="3.2" ry="2.8" fill="#f0bc9e" opacity="0.72"/>
<ellipse cx="70.6" cy="353.0" rx="2.3" ry="1.9" fill="#e27962" opacity="0.53"/>
<ellipse cx="83.4" cy="356.3" rx="2.6" ry="3.6" fill="#f9e6d7" opacity="0.63"/>
<ellipse cx="87.5" cy="369.5" rx="1.9" ry="2.6" fill="#e37b64" opacity="0.65"/>
<ellipse cx="96.9" cy="353.1" rx="3.4" ry="3.1" fill="#f0bfa2" opacity="0.75"/>
<ellipse cx="70.5" cy="366.0" rx="6.5" ry="11" fill="#dc4a3c" opacity="0.95"/>
<ellipse cx="85.0" cy="364.0" rx="4" ry="7" fill="#d8604c" opacity="0.8"/>
<ellipse cx="92.0" cy="372.0" rx="4" ry="5" fill="#e0806a" opacity="0.6"/>
<ellipse cx="88.0" cy="356.0" rx="4" ry="3" fill="#f2c8b0" opacity="0.7"/>
</g></g></g>
<ellipse cx="80" cy="384" rx="3" ry="4" fill="#ddd0be" filter="url(#pb)"/>
<g filter="url(#sb)">
<circle cx="66.5" cy="373.6" r="2.24" fill="#7a3025" opacity="0.45"/>
<circle cx="66.5" cy="373.6" r="1.26" fill="#361614"/>
<circle cx="67.2" cy="374.0" r="0.84" fill="#3a1814" opacity="0.85"/>
<circle cx="65.7" cy="373.4" r="0.84" fill="#3a1814" opacity="0.85"/>
<circle cx="82.5" cy="360.5" r="2.40" fill="#7a3025" opacity="0.45"/>
<circle cx="82.5" cy="360.5" r="1.35" fill="#361614"/>
<circle cx="82.4" cy="359.6" r="0.90" fill="#3a1814" opacity="0.85"/>
<circle cx="83.2" cy="360.0" r="0.90" fill="#3a1814" opacity="0.85"/>
<circle cx="94.5" cy="369.8" r="1.60" fill="#7a3025" opacity="0.45"/>
<circle cx="94.5" cy="369.8" r="0.90" fill="#361614"/>
<circle cx="94.4" cy="369.2" r="0.60" fill="#3a1814" opacity="0.85"/>
<circle cx="94.3" cy="369.2" r="0.60" fill="#3a1814" opacity="0.85"/>
<circle cx="83.5" cy="366.0" r="1.76" fill="#7a3025" opacity="0.45"/>
<circle cx="83.5" cy="366.0" r="0.99" fill="#361614"/>
<circle cx="83.7" cy="365.4" r="0.66" fill="#3a1814" opacity="0.85"/>
<circle cx="84.1" cy="365.7" r="0.66" fill="#3a1814" opacity="0.85"/>
</g>
<rect x="121.3" y="343" width="50.8" height="50.3" fill="#ddd0be"/>
<defs><clipPath id="cl2"><ellipse transform="rotate(10 137.0 369.0)" cx="137.0" cy="369.0" rx="9.3" ry="12.555000000000001"/><ellipse transform="rotate(0 154.0 367.0)" cx="154.0" cy="367.0" rx="10.23" ry="14.415000000000001"/></clipPath><filter id="lf2" x="-25%" y="-25%" width="150%" height="150%" color-interpolation-filters="sRGB"><feTurbulence type="fractalNoise" baseFrequency="0.13" numOctaves="2" seed="6" result="n"/><feDisplacementMap in="SourceGraphic" in2="n" scale="3" xChannelSelector="R" yChannelSelector="G" result="d"/><feGaussianBlur in="d" stdDeviation="0.7"/></filter></defs>
<g filter="url(#lf2)">
<ellipse transform="rotate(10 137.0 369.0)" cx="137.0" cy="369.0" rx="10.100000000000001" ry="13.355000000000002" fill="#eadfce"/>
<ellipse transform="rotate(0 154.0 367.0)" cx="154.0" cy="367.0" rx="11.030000000000001" ry="15.215000000000002" fill="#eadfce"/>
<g clip-path="url(#cl2)">
<ellipse transform="rotate(10 137.0 369.0)" cx="137.0" cy="369.0" rx="9.3" ry="12.555000000000001" fill="#f2d8b8"/>
<ellipse transform="rotate(0 154.0 367.0)" cx="154.0" cy="367.0" rx="10.23" ry="14.415000000000001" fill="#f2d8b8"/>
<g filter="url(#pb)">
<ellipse cx="140.6" cy="372.4" rx="4.2" ry="4.2" fill="#fdf8f0" opacity="0.68"/>
<ellipse cx="159.2" cy="369.2" rx="3.4" ry="3.8" fill="#e3a585" opacity="0.43"/>
<ellipse cx="151.1" cy="381.4" rx="4.1" ry="5.0" fill="#f7e5ce" opacity="0.60"/>
<ellipse cx="143.8" cy="376.9" rx="1.8" ry="2.0" fill="#f5e0c5" opacity="0.57"/>
<ellipse cx="136.1" cy="372.8" rx="3.0" ry="2.6" fill="#faeedb" opacity="0.40"/>
<ellipse cx="138.7" cy="372.2" rx="2.1" ry="2.4" fill="#df9676" opacity="0.55"/>
<ellipse cx="160.3" cy="362.1" rx="3.5" ry="4.4" fill="#e5ac8c" opacity="0.72"/>
<ellipse cx="159.9" cy="363.7" rx="3.2" ry="3.4" fill="#e9ba9a" opacity="0.69"/>
<ellipse cx="158.7" cy="373.2" rx="4.4" ry="4.4" fill="#e9b898" opacity="0.50"/>
<ellipse cx="135.5" cy="364.6" rx="3.4" ry="4.3" fill="#f6e4cc" opacity="0.74"/>
<ellipse cx="144.2" cy="354.7" rx="1.6" ry="1.2" fill="#fdf8f0" opacity="0.65"/>
<ellipse cx="148.5" cy="361.5" rx="3.9" ry="3.9" fill="#e9ba9a" opacity="0.41"/>
<ellipse cx="158.0" cy="359.5" rx="1.9" ry="1.9" fill="#e3a383" opacity="0.62"/>
<ellipse cx="151.6" cy="376.0" rx="4.4" ry="4.5" fill="#f6e2c9" opacity="0.46"/>
<ellipse cx="128.1" cy="366.3" rx="3.6" ry="3.4" fill="#e7b393" opacity="0.64"/>
<ellipse cx="146.7" cy="370.4" rx="3.8" ry="5.0" fill="#e09b7b" opacity="0.43"/>
<ellipse cx="161.8" cy="373.5" rx="1.9" ry="2.5" fill="#f8e9d4" opacity="0.53"/>
<ellipse cx="148.5" cy="378.1" rx="3.9" ry="4.0" fill="#fdf8f0" opacity="0.63"/>
<ellipse cx="135.2" cy="373.5" rx="4.0" ry="3.4" fill="#f9ead6" opacity="0.71"/>
<ellipse cx="163.5" cy="380.9" rx="3.1" ry="4.2" fill="#f6e4cc" opacity="0.70"/>
<ellipse cx="140.4" cy="355.0" rx="2.8" ry="2.9" fill="#f9ebd7" opacity="0.41"/>
<ellipse cx="157.3" cy="354.4" rx="3.9" ry="4.9" fill="#e6b090" opacity="0.45"/>
<ellipse cx="133.1" cy="367.5" rx="3.7" ry="5.0" fill="#f9ead5" opacity="0.57"/>
<ellipse cx="162.4" cy="355.1" rx="2.2" ry="2.6" fill="#f6e4cb" opacity="0.62"/>
<ellipse cx="145.0" cy="368.0" rx="5" ry="10" fill="#e0907a" opacity="0.8"/>
<ellipse cx="150.0" cy="362.0" rx="4" ry="4" fill="#e4a084" opacity="0.6"/>
</g></g></g>
<ellipse cx="147" cy="385" rx="3.5" ry="5" fill="#ddd0be" filter="url(#pb)"/>
<g filter="url(#sb)">
<circle cx="149.4" cy="359.3" r="1.92" fill="#7a3025" opacity="0.45"/>
<circle cx="149.4" cy="359.3" r="1.08" fill="#361614"/>
<circle cx="148.7" cy="359.2" r="0.72" fill="#3a1814" opacity="0.85"/>
<circle cx="149.8" cy="358.7" r="0.72" fill="#3a1814" opacity="0.85"/>
<circle cx="155.0" cy="366.0" r="1.92" fill="#7a3025" opacity="0.45"/>
<circle cx="155.0" cy="366.0" r="1.08" fill="#361614"/>
<circle cx="154.3" cy="365.7" r="0.72" fill="#3a1814" opacity="0.85"/>
<circle cx="154.7" cy="366.7" r="0.72" fill="#3a1814" opacity="0.85"/>
<circle cx="153.0" cy="373.8" r="1.76" fill="#7a3025" opacity="0.45"/>
<circle cx="153.0" cy="373.8" r="0.99" fill="#361614"/>
<circle cx="152.5" cy="374.2" r="0.66" fill="#3a1814" opacity="0.85"/>
<circle cx="153.4" cy="373.3" r="0.66" fill="#3a1814" opacity="0.85"/>
</g>
<rect x="187.2" y="343" width="50.8" height="50.3" fill="#ddd0be"/>
<defs><clipPath id="cl3"><ellipse transform="rotate(5 203.3 369.5)" cx="203.3" cy="369.5" rx="8.184000000000001" ry="12.555000000000001"/><ellipse transform="rotate(0 222.7 366.5)" cx="222.7" cy="366.5" rx="9.114" ry="15.81"/><ellipse transform="rotate(0 213.0 366.0)" cx="213.0" cy="366.0" rx="4.65" ry="11.16"/></clipPath><filter id="lf3" x="-25%" y="-25%" width="150%" height="150%" color-interpolation-filters="sRGB"><feTurbulence type="fractalNoise" baseFrequency="0.13" numOctaves="2" seed="9" result="n"/><feDisplacementMap in="SourceGraphic" in2="n" scale="3" xChannelSelector="R" yChannelSelector="G" result="d"/><feGaussianBlur in="d" stdDeviation="0.7"/></filter></defs>
<g filter="url(#lf3)">
<ellipse transform="rotate(5 203.3 369.5)" cx="203.3" cy="369.5" rx="8.984000000000002" ry="13.355000000000002" fill="#ebe0cf"/>
<ellipse transform="rotate(0 222.7 366.5)" cx="222.7" cy="366.5" rx="9.914000000000001" ry="16.61" fill="#ebe0cf"/>
<ellipse transform="rotate(0 213.0 366.0)" cx="213.0" cy="366.0" rx="5.45" ry="11.96" fill="#ebe0cf"/>
<g clip-path="url(#cl3)">
<ellipse transform="rotate(5 203.3 369.5)" cx="203.3" cy="369.5" rx="8.184000000000001" ry="12.555000000000001" fill="#f3dcbc"/>
<ellipse transform="rotate(0 222.7 366.5)" cx="222.7" cy="366.5" rx="9.114" ry="15.81" fill="#f3dcbc"/>
<ellipse transform="rotate(0 213.0 366.0)" cx="213.0" cy="366.0" rx="4.65" ry="11.16" fill="#f3dcbc"/>
<g filter="url(#pb)">
<ellipse cx="228.2" cy="357.3" rx="4.1" ry="4.3" fill="#fef9f1" opacity="0.60"/>
<ellipse cx="202.5" cy="367.6" rx="3.0" ry="4.1" fill="#f6e3c8" opacity="0.58"/>
<ellipse cx="209.8" cy="376.0" rx="3.2" ry="2.4" fill="#faedd8" opacity="0.59"/>
<ellipse cx="210.3" cy="380.9" rx="4.3" ry="3.4" fill="#e6aa8a" opacity="0.55"/>
<ellipse cx="225.1" cy="379.2" rx="2.9" ry="3.3" fill="#eab999" opacity="0.72"/>
<ellipse cx="199.9" cy="375.3" rx="1.6" ry="1.9" fill="#e9b797" opacity="0.51"/>
<ellipse cx="208.2" cy="370.3" rx="1.8" ry="1.9" fill="#f6e4ca" opacity="0.49"/>
<ellipse cx="202.4" cy="367.5" rx="2.8" ry="3.0" fill="#e7ad8d" opacity="0.46"/>
<ellipse cx="202.6" cy="370.7" rx="3.4" ry="3.9" fill="#fbefdc" opacity="0.70"/>
<ellipse cx="203.7" cy="374.1" rx="3.9" ry="3.6" fill="#fef9f1" opacity="0.51"/>
<ellipse cx="229.0" cy="357.6" rx="4.5" ry="3.6" fill="#fef9f1" opacity="0.48"/>
<ellipse cx="221.8" cy="358.9" rx="1.8" ry="2.2" fill="#f8e9d2" opacity="0.44"/>
<ellipse cx="209.9" cy="372.4" rx="1.6" ry="2.1" fill="#e4a080" opacity="0.74"/>
<ellipse cx="199.4" cy="366.7" rx="3.8" ry="3.1" fill="#faedd8" opacity="0.42"/>
<ellipse cx="199.0" cy="351.9" rx="3.2" ry="2.5" fill="#f9ebd5" opacity="0.46"/>
<ellipse cx="202.6" cy="377.3" rx="4.5" ry="3.4" fill="#fef9f1" opacity="0.42"/>
<ellipse cx="230.0" cy="365.3" rx="3.8" ry="4.0" fill="#e6ab8b" opacity="0.55"/>
<ellipse cx="217.2" cy="351.1" rx="3.6" ry="3.7" fill="#f7e5cc" opacity="0.66"/>
<ellipse cx="210.0" cy="356.9" rx="2.0" ry="2.6" fill="#f6e3c8" opacity="0.68"/>
<ellipse cx="221.0" cy="377.9" rx="3.4" ry="3.6" fill="#e5a484" opacity="0.74"/>
<ellipse cx="224.7" cy="358.9" rx="4.2" ry="5.4" fill="#faeeda" opacity="0.54"/>
<ellipse cx="228.0" cy="378.5" rx="3.6" ry="3.5" fill="#faeeda" opacity="0.65"/>
<ellipse cx="197.7" cy="361.5" rx="2.9" ry="3.3" fill="#e8b090" opacity="0.62"/>
<ellipse cx="203.6" cy="380.6" rx="3.5" ry="3.8" fill="#e4a181" opacity="0.59"/>
<ellipse cx="212.5" cy="367.0" rx="4.5" ry="11" fill="#e08a6a" opacity="0.9"/>
</g></g></g>
<ellipse cx="213" cy="387" rx="3" ry="5" fill="#ddd0be" filter="url(#pb)"/>
<g filter="url(#sb)">
<circle cx="206.3" cy="374.5" r="1.76" fill="#7a3025" opacity="0.45"/>
<circle cx="206.3" cy="374.5" r="0.99" fill="#361614"/>
<circle cx="205.8" cy="374.9" r="0.66" fill="#3a1814" opacity="0.85"/>
<circle cx="207.0" cy="374.5" r="0.66" fill="#3a1814" opacity="0.85"/>
<circle cx="221.2" cy="360.7" r="1.76" fill="#7a3025" opacity="0.45"/>
<circle cx="221.2" cy="360.7" r="0.99" fill="#361614"/>
<circle cx="220.8" cy="360.2" r="0.66" fill="#3a1814" opacity="0.85"/>
<circle cx="221.0" cy="360.1" r="0.66" fill="#3a1814" opacity="0.85"/>
<circle cx="220.2" cy="369.6" r="1.76" fill="#7a3025" opacity="0.45"/>
<circle cx="220.2" cy="369.6" r="0.99" fill="#361614"/>
<circle cx="220.2" cy="368.9" r="0.66" fill="#3a1814" opacity="0.85"/>
<circle cx="220.9" cy="369.5" r="0.66" fill="#3a1814" opacity="0.85"/>
<circle cx="226.0" cy="376.3" r="1.60" fill="#7a3025" opacity="0.45"/>
<circle cx="226.0" cy="376.3" r="0.90" fill="#361614"/>
<circle cx="226.6" cy="376.4" r="0.60" fill="#3a1814" opacity="0.85"/>
<circle cx="225.6" cy="375.9" r="0.60" fill="#3a1814" opacity="0.85"/>
<circle cx="224.5" cy="365.0" r="1.28" fill="#7a3025" opacity="0.45"/>
<circle cx="224.5" cy="365.0" r="0.72" fill="#361614"/>
<circle cx="224.5" cy="364.5" r="0.48" fill="#3a1814" opacity="0.85"/>
<circle cx="224.5" cy="365.5" r="0.48" fill="#3a1814" opacity="0.85"/>
</g>
<rect x="253.8" y="343" width="50.8" height="50.3" fill="#ddd0be"/>
<defs><clipPath id="cl4"><ellipse transform="rotate(0 271.0 371.0)" cx="271.0" cy="371.0" rx="7.905" ry="11.625"/><ellipse transform="rotate(0 285.5 366.5)" cx="285.5" cy="366.5" rx="10.23" ry="13.485000000000001"/></clipPath><filter id="lf4" x="-25%" y="-25%" width="150%" height="150%" color-interpolation-filters="sRGB"><feTurbulence type="fractalNoise" baseFrequency="0.13" numOctaves="2" seed="12" result="n"/><feDisplacementMap in="SourceGraphic" in2="n" scale="3" xChannelSelector="R" yChannelSelector="G" result="d"/><feGaussianBlur in="d" stdDeviation="0.7"/></filter></defs>
<g filter="url(#lf4)">
<ellipse transform="rotate(0 271.0 371.0)" cx="271.0" cy="371.0" rx="8.705" ry="12.425" fill="#e6cdb7"/>
<ellipse transform="rotate(0 285.5 366.5)" cx="285.5" cy="366.5" rx="11.030000000000001" ry="14.285000000000002" fill="#e6cdb7"/>
<g clip-path="url(#cl4)">
<ellipse transform="rotate(0 271.0 371.0)" cx="271.0" cy="371.0" rx="7.905" ry="11.625" fill="#e2a080"/>
<ellipse transform="rotate(0 285.5 366.5)" cx="285.5" cy="366.5" rx="10.23" ry="13.485000000000001" fill="#e2a080"/>
<g filter="url(#pb)">
<ellipse cx="276.2" cy="354.5" rx="2.1" ry="1.8" fill="#d58669" opacity="0.72"/>
<ellipse cx="281.0" cy="368.1" rx="4.4" ry="5.0" fill="#f0c5ab" opacity="0.68"/>
<ellipse cx="265.6" cy="370.7" rx="3.8" ry="3.1" fill="#c46249" opacity="0.57"/>
<ellipse cx="268.6" cy="367.7" rx="3.3" ry="3.3" fill="#c46148" opacity="0.58"/>
<ellipse cx="282.6" cy="363.8" rx="2.4" ry="2.1" fill="#ecba9e" opacity="0.65"/>
<ellipse cx="272.8" cy="353.4" rx="2.2" ry="2.7" fill="#d48366" opacity="0.54"/>
<ellipse cx="292.4" cy="375.2" rx="1.7" ry="2.2" fill="#f8e4d7" opacity="0.43"/>
<ellipse cx="292.6" cy="365.7" rx="2.9" ry="2.6" fill="#f8e4d7" opacity="0.58"/>
<ellipse cx="293.7" cy="374.4" rx="2.9" ry="3.7" fill="#f8e4d7" opacity="0.61"/>
<ellipse cx="266.9" cy="371.5" rx="2.9" ry="3.1" fill="#d6886a" opacity="0.44"/>
<ellipse cx="277.5" cy="372.8" rx="2.9" ry="2.8" fill="#cb7156" opacity="0.67"/>
<ellipse cx="280.4" cy="382.6" rx="4.4" ry="3.4" fill="#e9b295" opacity="0.71"/>
<ellipse cx="288.7" cy="371.5" rx="2.6" ry="2.8" fill="#c96c52" opacity="0.61"/>
<ellipse cx="283.8" cy="375.3" rx="2.1" ry="2.8" fill="#c36047" opacity="0.71"/>
<ellipse cx="264.4" cy="354.8" rx="2.3" ry="1.8" fill="#cb6f54" opacity="0.59"/>
<ellipse cx="265.5" cy="355.6" rx="3.5" ry="3.4" fill="#ecbca0" opacity="0.57"/>
<ellipse cx="270.0" cy="363.2" rx="3.7" ry="2.9" fill="#e7ae90" opacity="0.68"/>
<ellipse cx="283.5" cy="375.8" rx="2.1" ry="2.7" fill="#d27f62" opacity="0.53"/>
<ellipse cx="284.4" cy="382.3" rx="2.5" ry="3.3" fill="#edbfa3" opacity="0.55"/>
<ellipse cx="275.1" cy="355.9" rx="4.1" ry="4.5" fill="#d68669" opacity="0.57"/>
<ellipse cx="285.5" cy="361.9" rx="3.8" ry="4.5" fill="#d38164" opacity="0.43"/>
<ellipse cx="273.0" cy="374.5" rx="3.6" ry="3.4" fill="#d48467" opacity="0.65"/>
<ellipse cx="275.1" cy="356.5" rx="3.6" ry="4.9" fill="#efc3a8" opacity="0.72"/>
<ellipse cx="277.4" cy="376.8" rx="2.4" ry="3.3" fill="#cf795d" opacity="0.71"/>
<ellipse cx="281.0" cy="368.0" rx="8" ry="9" fill="#cc6a50" opacity="0.8"/>
<ellipse cx="266.0" cy="377.0" rx="4" ry="5" fill="#f0c0a0" opacity="0.6"/>
</g></g></g>
<ellipse cx="280" cy="386" rx="3" ry="4" fill="#ddd0be" filter="url(#pb)"/>
<g filter="url(#sb)">
<circle cx="282.6" cy="358.8" r="2.08" fill="#7a3025" opacity="0.45"/>
<circle cx="282.6" cy="358.8" r="1.17" fill="#361614"/>
<circle cx="282.6" cy="359.6" r="0.78" fill="#3a1814" opacity="0.85"/>
<circle cx="282.1" cy="359.4" r="0.78" fill="#3a1814" opacity="0.85"/>
<circle cx="284.1" cy="366.5" r="2.08" fill="#7a3025" opacity="0.45"/>
<circle cx="284.1" cy="366.5" r="1.17" fill="#361614"/>
<circle cx="283.6" cy="367.1" r="0.78" fill="#3a1814" opacity="0.85"/>
<circle cx="283.6" cy="367.1" r="0.78" fill="#3a1814" opacity="0.85"/>
<circle cx="293.8" cy="372.1" r="1.60" fill="#7a3025" opacity="0.45"/>
<circle cx="293.8" cy="372.1" r="0.90" fill="#361614"/>
<circle cx="293.3" cy="372.5" r="0.60" fill="#3a1814" opacity="0.85"/>
<circle cx="293.3" cy="372.5" r="0.60" fill="#3a1814" opacity="0.85"/>
</g>
<rect x="320.2" y="343" width="50.8" height="50.3" fill="#ddd0be"/>
<defs><clipPath id="cl5"><ellipse transform="rotate(0 345.0 368.5)" cx="345.0" cy="368.5" rx="14.415000000000001" ry="14.88"/></clipPath><filter id="lf5" x="-25%" y="-25%" width="150%" height="150%" color-interpolation-filters="sRGB"><feTurbulence type="fractalNoise" baseFrequency="0.13" numOctaves="2" seed="15" result="n"/><feDisplacementMap in="SourceGraphic" in2="n" scale="3" xChannelSelector="R" yChannelSelector="G" result="d"/><feGaussianBlur in="d" stdDeviation="0.7"/></filter></defs>
<g filter="url(#lf5)">
<ellipse transform="rotate(0 345.0 368.5)" cx="345.0" cy="368.5" rx="15.215000000000002" ry="15.680000000000001" fill="#e6d1b9"/>
<g clip-path="url(#cl5)">
<ellipse transform="rotate(0 345.0 368.5)" cx="345.0" cy="368.5" rx="14.415000000000001" ry="14.88" fill="#e2ac84"/>
<g filter="url(#pb)">
<ellipse cx="336.2" cy="370.4" rx="3.9" ry="4.3" fill="#eeccaa" opacity="0.46"/>
<ellipse cx="352.5" cy="379.8" rx="2.3" ry="2.5" fill="#d49169" opacity="0.60"/>
<ellipse cx="358.4" cy="373.0" rx="3.9" ry="4.9" fill="#d49068" opacity="0.43"/>
<ellipse cx="332.9" cy="375.6" rx="4.2" ry="3.4" fill="#d38e66" opacity="0.66"/>
<ellipse cx="349.3" cy="360.9" rx="2.2" ry="2.7" fill="#ebc4a1" opacity="0.54"/>
<ellipse cx="340.3" cy="382.4" rx="3.5" ry="4.2" fill="#ebc4a1" opacity="0.65"/>
<ellipse cx="357.0" cy="365.8" rx="4.0" ry="5.0" fill="#eeccaa" opacity="0.69"/>
<ellipse cx="356.2" cy="382.1" rx="3.4" ry="4.3" fill="#edc9a6" opacity="0.55"/>
<ellipse cx="342.7" cy="358.0" rx="3.7" ry="3.6" fill="#f8e9d9" opacity="0.46"/>
<ellipse cx="336.5" cy="366.3" rx="2.4" ry="1.8" fill="#f8e9d9" opacity="0.51"/>
<ellipse cx="333.9" cy="372.9" rx="3.8" ry="3.9" fill="#da9d75" opacity="0.60"/>
<ellipse cx="356.8" cy="354.7" rx="1.8" ry="1.6" fill="#d89971" opacity="0.65"/>
<ellipse cx="347.7" cy="360.3" rx="2.1" ry="2.5" fill="#d99a72" opacity="0.51"/>
<ellipse cx="346.4" cy="377.9" rx="2.9" ry="3.9" fill="#cf875f" opacity="0.52"/>
<ellipse cx="346.4" cy="382.1" rx="2.9" ry="4.0" fill="#da9d75" opacity="0.68"/>
<ellipse cx="341.7" cy="369.3" rx="3.0" ry="3.5" fill="#ce845c" opacity="0.48"/>
<ellipse cx="330.9" cy="367.7" rx="2.6" ry="2.9" fill="#edc9a6" opacity="0.46"/>
<ellipse cx="335.1" cy="363.2" rx="2.3" ry="2.4" fill="#f8e9d9" opacity="0.62"/>
<ellipse cx="359.2" cy="361.6" rx="3.1" ry="2.2" fill="#d18a62" opacity="0.69"/>
<ellipse cx="355.0" cy="378.1" rx="1.7" ry="1.3" fill="#d18b63" opacity="0.57"/>
<ellipse cx="344.1" cy="382.1" rx="3.3" ry="4.1" fill="#e9bf9b" opacity="0.55"/>
<ellipse cx="357.0" cy="356.3" rx="4.0" ry="4.2" fill="#d49068" opacity="0.46"/>
<ellipse cx="354.6" cy="362.9" rx="2.4" ry="2.5" fill="#d7966e" opacity="0.65"/>
<ellipse cx="341.0" cy="374.1" rx="1.8" ry="2.5" fill="#d5926a" opacity="0.69"/>
<ellipse cx="349.0" cy="371.0" rx="9" ry="9" fill="#d49068" opacity="0.7"/>
<ellipse cx="336.0" cy="363.0" rx="5" ry="5" fill="#f0d0b0" opacity="0.7"/>
</g></g></g>
<g filter="url(#sb)">
<circle cx="343.5" cy="364.0" r="2.08" fill="#7a3025" opacity="0.45"/>
<circle cx="343.5" cy="364.0" r="1.17" fill="#361614"/>
<circle cx="343.1" cy="363.4" r="0.78" fill="#3a1814" opacity="0.85"/>
<circle cx="344.3" cy="364.1" r="0.78" fill="#3a1814" opacity="0.85"/>
<circle cx="356.8" cy="361.4" r="1.92" fill="#7a3025" opacity="0.45"/>
<circle cx="356.8" cy="361.4" r="1.08" fill="#361614"/>
<circle cx="356.3" cy="361.9" r="0.72" fill="#3a1814" opacity="0.85"/>
<circle cx="356.6" cy="360.7" r="0.72" fill="#3a1814" opacity="0.85"/>
<circle cx="358.3" cy="368.0" r="1.92" fill="#7a3025" opacity="0.45"/>
<circle cx="358.3" cy="368.0" r="1.08" fill="#361614"/>
<circle cx="358.4" cy="368.7" r="0.72" fill="#3a1814" opacity="0.85"/>
<circle cx="357.6" cy="367.7" r="0.72" fill="#3a1814" opacity="0.85"/>
</g>
<rect x="55" y="410" width="50.8" height="50.3" fill="#ddd0be"/>
<defs><clipPath id="cl6"><ellipse transform="rotate(8 72.0 436.0)" cx="72.0" cy="436.0" rx="8.370000000000001" ry="12.555000000000001"/><ellipse transform="rotate(0 87.0 433.5)" cx="87.0" cy="433.5" rx="9.3" ry="13.020000000000001"/></clipPath><filter id="lf6" x="-25%" y="-25%" width="150%" height="150%" color-interpolation-filters="sRGB"><feTurbulence type="fractalNoise" baseFrequency="0.13" numOctaves="2" seed="18" result="n"/><feDisplacementMap in="SourceGraphic" in2="n" scale="3" xChannelSelector="R" yChannelSelector="G" result="d"/><feGaussianBlur in="d" stdDeviation="0.7"/></filter></defs>
<g filter="url(#lf6)">
<ellipse transform="rotate(8 72.0 436.0)" cx="72.0" cy="436.0" rx="9.170000000000002" ry="13.355000000000002" fill="#e1bea9"/>
<ellipse transform="rotate(0 87.0 433.5)" cx="87.0" cy="433.5" rx="10.100000000000001" ry="13.820000000000002" fill="#e1bea9"/>
<g clip-path="url(#cl6)">
<ellipse transform="rotate(8 72.0 436.0)" cx="72.0" cy="436.0" rx="8.370000000000001" ry="12.555000000000001" fill="#c86a52"/>
<ellipse transform="rotate(0 87.0 433.5)" cx="87.0" cy="433.5" rx="9.3" ry="13.020000000000001" fill="#c86a52"/>
<g filter="url(#pb)">
<ellipse cx="78.6" cy="420.8" rx="4.5" ry="5.1" fill="#d5846c" opacity="0.50"/>
<ellipse cx="75.9" cy="435.6" rx="2.4" ry="2.8" fill="#954232" opacity="0.49"/>
<ellipse cx="70.2" cy="441.0" rx="2.5" ry="2.7" fill="#f3d3c7" opacity="0.65"/>
<ellipse cx="74.5" cy="443.7" rx="1.8" ry="2.1" fill="#a64f3d" opacity="0.65"/>
<ellipse cx="69.5" cy="431.8" rx="4.0" ry="3.4" fill="#d37f67" opacity="0.45"/>
<ellipse cx="67.7" cy="431.9" rx="1.7" ry="1.7" fill="#f3d3c7" opacity="0.58"/>
<ellipse cx="84.8" cy="442.0" rx="4.0" ry="3.9" fill="#994535" opacity="0.41"/>
<ellipse cx="76.7" cy="440.1" rx="4.4" ry="5.0" fill="#de957d" opacity="0.41"/>
<ellipse cx="74.4" cy="430.1" rx="3.5" ry="3.6" fill="#964333" opacity="0.68"/>
<ellipse cx="90.6" cy="437.6" rx="2.0" ry="2.1" fill="#e29e86" opacity="0.52"/>
<ellipse cx="80.0" cy="424.5" rx="3.6" ry="3.9" fill="#f3d3c7" opacity="0.65"/>
<ellipse cx="90.9" cy="426.0" rx="4.3" ry="3.3" fill="#d5836b" opacity="0.49"/>
<ellipse cx="82.5" cy="440.1" rx="2.5" ry="2.4" fill="#f3d3c7" opacity="0.56"/>
<ellipse cx="67.7" cy="447.8" rx="1.9" ry="2.1" fill="#f3d3c7" opacity="0.60"/>
<ellipse cx="81.9" cy="427.9" rx="4.2" ry="5.4" fill="#f3d3c7" opacity="0.61"/>
<ellipse cx="67.6" cy="443.6" rx="2.4" ry="2.1" fill="#f3d3c7" opacity="0.60"/>
<ellipse cx="90.8" cy="425.7" rx="3.1" ry="2.6" fill="#a9523f" opacity="0.75"/>
<ellipse cx="94.3" cy="439.0" rx="2.4" ry="2.3" fill="#df9880" opacity="0.61"/>
<ellipse cx="89.9" cy="420.9" rx="2.1" ry="2.0" fill="#d48169" opacity="0.60"/>
<ellipse cx="69.3" cy="435.1" rx="2.3" ry="2.6" fill="#d78870" opacity="0.41"/>
<ellipse cx="85.6" cy="424.5" rx="4.4" ry="4.3" fill="#da8e76" opacity="0.62"/>
<ellipse cx="86.1" cy="441.8" rx="3.8" ry="4.8" fill="#e4a189" opacity="0.70"/>
<ellipse cx="77.0" cy="432.7" rx="3.2" ry="3.4" fill="#f3d3c7" opacity="0.58"/>
<ellipse cx="77.8" cy="445.9" rx="2.5" ry="3.3" fill="#823327" opacity="0.66"/>
<ellipse cx="80.0" cy="432.0" rx="6" ry="8" fill="#a84a38" opacity="0.7"/>
<ellipse cx="88.0" cy="440.0" rx="5" ry="6" fill="#9a3a30" opacity="0.7"/>
<ellipse cx="70.0" cy="436.0" rx="5" ry="6" fill="#e09a80" opacity="0.6"/>
</g></g></g>
<ellipse cx="80" cy="450" rx="3" ry="4" fill="#ddd0be" filter="url(#pb)"/>
<g filter="url(#sb)">
<circle cx="65.7" cy="431.4" r="2.40" fill="#7a3025" opacity="0.45"/>
<circle cx="65.7" cy="431.4" r="1.35" fill="#361614"/>
<circle cx="65.0" cy="430.9" r="0.90" fill="#3a1814" opacity="0.85"/>
<circle cx="65.7" cy="430.5" r="0.90" fill="#3a1814" opacity="0.85"/>
<circle cx="71.3" cy="427.4" r="2.24" fill="#7a3025" opacity="0.45"/>
<circle cx="71.3" cy="427.4" r="1.26" fill="#361614"/>
<circle cx="71.0" cy="428.2" r="0.84" fill="#3a1814" opacity="0.85"/>
<circle cx="70.6" cy="426.9" r="0.84" fill="#3a1814" opacity="0.85"/>
<circle cx="72.9" cy="442.2" r="2.72" fill="#7a3025" opacity="0.45"/>
<circle cx="72.9" cy="442.2" r="1.53" fill="#361614"/>
<circle cx="73.8" cy="442.6" r="1.02" fill="#3a1814" opacity="0.85"/>
<circle cx="73.6" cy="442.9" r="1.02" fill="#3a1814" opacity="0.85"/>
<circle cx="88.7" cy="441.7" r="2.56" fill="#7a3025" opacity="0.45"/>
<circle cx="88.7" cy="441.7" r="1.44" fill="#361614"/>
<circle cx="87.8" cy="442.0" r="0.96" fill="#3a1814" opacity="0.85"/>
<circle cx="87.7" cy="441.7" r="0.96" fill="#3a1814" opacity="0.85"/>
<circle cx="91.8" cy="428.9" r="1.76" fill="#7a3025" opacity="0.45"/>
<circle cx="91.8" cy="428.9" r="0.99" fill="#361614"/>
<circle cx="91.3" cy="429.3" r="0.66" fill="#3a1814" opacity="0.85"/>
<circle cx="92.4" cy="429.1" r="0.66" fill="#3a1814" opacity="0.85"/>
<circle cx="84.6" cy="429.4" r="1.92" fill="#7a3025" opacity="0.45"/>
<circle cx="84.6" cy="429.4" r="1.08" fill="#361614"/>
<circle cx="84.4" cy="428.7" r="0.72" fill="#3a1814" opacity="0.85"/>
<circle cx="83.9" cy="429.3" r="0.72" fill="#3a1814" opacity="0.85"/>
<circle cx="81.0" cy="436.0" r="1.44" fill="#7a3025" opacity="0.45"/>
<circle cx="81.0" cy="436.0" r="0.81" fill="#361614"/>
<circle cx="81.0" cy="436.5" r="0.54" fill="#3a1814" opacity="0.85"/>
<circle cx="80.8" cy="436.5" r="0.54" fill="#3a1814" opacity="0.85"/>
</g>
<rect x="121.3" y="410" width="50.8" height="50.3" fill="#ddd0be"/>
<defs><clipPath id="cl7"><ellipse transform="rotate(8 138.0 437.0)" cx="138.0" cy="437.0" rx="8.835" ry="13.485000000000001"/><ellipse transform="rotate(0 154.0 435.0)" cx="154.0" cy="435.0" rx="9.3" ry="14.415000000000001"/></clipPath><filter id="lf7" x="-25%" y="-25%" width="150%" height="150%" color-interpolation-filters="sRGB"><feTurbulence type="fractalNoise" baseFrequency="0.13" numOctaves="2" seed="21" result="n"/><feDisplacementMap in="SourceGraphic" in2="n" scale="3" xChannelSelector="R" yChannelSelector="G" result="d"/><feGaussianBlur in="d" stdDeviation="0.7"/></filter></defs>
<g filter="url(#lf7)">
<ellipse transform="rotate(8 138.0 437.0)" cx="138.0" cy="437.0" rx="9.635000000000002" ry="14.285000000000002" fill="#e6c8b0"/>
<ellipse transform="rotate(0 154.0 435.0)" cx="154.0" cy="435.0" rx="10.100000000000001" ry="15.215000000000002" fill="#e6c8b0"/>
<g clip-path="url(#cl7)">
<ellipse transform="rotate(8 138.0 437.0)" cx="138.0" cy="437.0" rx="8.835" ry="13.485000000000001" fill="#dc8a62"/>
<ellipse transform="rotate(0 154.0 435.0)" cx="154.0" cy="435.0" rx="9.3" ry="14.415000000000001" fill="#dc8a62"/>
<g filter="url(#pb)">
<ellipse cx="142.7" cy="427.6" rx="1.7" ry="2.3" fill="#f8dfcf" opacity="0.63"/>
<ellipse cx="158.7" cy="433.2" rx="3.9" ry="4.3" fill="#af4c36" opacity="0.72"/>
<ellipse cx="132.5" cy="444.3" rx="1.9" ry="1.3" fill="#efb997" opacity="0.49"/>
<ellipse cx="139.4" cy="430.3" rx="1.7" ry="2.1" fill="#f8dfcf" opacity="0.54"/>
<ellipse cx="141.3" cy="438.1" rx="1.6" ry="1.5" fill="#a94531" opacity="0.57"/>
<ellipse cx="161.0" cy="449.8" rx="2.9" ry="3.9" fill="#bf6246" opacity="0.71"/>
<ellipse cx="135.8" cy="445.6" rx="2.6" ry="3.4" fill="#e49f7a" opacity="0.75"/>
<ellipse cx="136.1" cy="439.5" rx="2.1" ry="1.5" fill="#f8dfcf" opacity="0.44"/>
<ellipse cx="153.9" cy="429.9" rx="4.2" ry="5.0" fill="#f8dfcf" opacity="0.45"/>
<ellipse cx="152.9" cy="448.6" rx="2.8" ry="2.6" fill="#c16648" opacity="0.65"/>
<ellipse cx="135.9" cy="426.0" rx="2.2" ry="2.1" fill="#edb392" opacity="0.63"/>
<ellipse cx="159.4" cy="438.2" rx="2.2" ry="2.6" fill="#a84330" opacity="0.50"/>
<ellipse cx="151.0" cy="423.3" rx="4.4" ry="4.8" fill="#b6573e" opacity="0.42"/>
<ellipse cx="149.6" cy="429.1" rx="2.3" ry="2.0" fill="#e39d77" opacity="0.66"/>
<ellipse cx="137.6" cy="428.9" rx="3.1" ry="4.4" fill="#a94531" opacity="0.41"/>
<ellipse cx="144.9" cy="443.0" rx="2.7" ry="2.8" fill="#f8dfcf" opacity="0.46"/>
<ellipse cx="148.1" cy="439.9" rx="2.6" ry="2.7" fill="#ecb391" opacity="0.58"/>
<ellipse cx="158.0" cy="441.0" rx="3.1" ry="2.5" fill="#f8dfcf" opacity="0.67"/>
<ellipse cx="134.8" cy="438.8" rx="2.2" ry="2.8" fill="#ae4b35" opacity="0.68"/>
<ellipse cx="137.2" cy="435.2" rx="2.2" ry="1.6" fill="#e9aa87" opacity="0.61"/>
<ellipse cx="153.6" cy="437.7" rx="4.1" ry="2.9" fill="#c4694b" opacity="0.57"/>
<ellipse cx="144.0" cy="433.8" rx="2.3" ry="3.1" fill="#e39c77" opacity="0.60"/>
<ellipse cx="147.7" cy="444.3" rx="2.2" ry="1.6" fill="#be6245" opacity="0.51"/>
<ellipse cx="150.4" cy="436.3" rx="2.3" ry="2.9" fill="#e39d77" opacity="0.46"/>
<ellipse cx="146.0" cy="433.0" rx="6" ry="10" fill="#c8704e" opacity="0.7"/>
<ellipse cx="156.0" cy="446.0" rx="4" ry="4" fill="#c86048" opacity="0.6"/>
</g></g></g>
<ellipse cx="146" cy="453" rx="3" ry="5" fill="#ddd0be" filter="url(#pb)"/>
<g filter="url(#sb)">
<circle cx="132.2" cy="429.9" r="2.08" fill="#7a3025" opacity="0.45"/>
<circle cx="132.2" cy="429.9" r="1.17" fill="#361614"/>
<circle cx="132.2" cy="430.7" r="0.78" fill="#3a1814" opacity="0.85"/>
<circle cx="132.6" cy="430.6" r="0.78" fill="#3a1814" opacity="0.85"/>
<circle cx="132.2" cy="438.6" r="2.40" fill="#7a3025" opacity="0.45"/>
<circle cx="132.2" cy="438.6" r="1.35" fill="#361614"/>
<circle cx="131.9" cy="437.8" r="0.90" fill="#3a1814" opacity="0.85"/>
<circle cx="132.6" cy="437.8" r="0.90" fill="#3a1814" opacity="0.85"/>
<circle cx="149.6" cy="433.5" r="3.20" fill="#7a3025" opacity="0.45"/>
<circle cx="149.6" cy="433.5" r="1.80" fill="#361614"/>
<circle cx="149.9" cy="432.3" r="1.20" fill="#3a1814" opacity="0.85"/>
<circle cx="150.7" cy="433.9" r="1.20" fill="#3a1814" opacity="0.85"/>
<circle cx="157.2" cy="429.4" r="2.08" fill="#7a3025" opacity="0.45"/>
<circle cx="157.2" cy="429.4" r="1.17" fill="#361614"/>
<circle cx="156.5" cy="429.8" r="0.78" fill="#3a1814" opacity="0.85"/>
<circle cx="156.7" cy="430.0" r="0.78" fill="#3a1814" opacity="0.85"/>
<circle cx="154.2" cy="438.6" r="2.08" fill="#7a3025" opacity="0.45"/>
<circle cx="154.2" cy="438.6" r="1.17" fill="#361614"/>
<circle cx="154.4" cy="439.4" r="0.78" fill="#3a1814" opacity="0.85"/>
<circle cx="155.0" cy="438.5" r="0.78" fill="#3a1814" opacity="0.85"/>
<circle cx="160.8" cy="438.0" r="1.44" fill="#7a3025" opacity="0.45"/>
<circle cx="160.8" cy="438.0" r="0.81" fill="#361614"/>
<circle cx="161.3" cy="438.1" r="0.54" fill="#3a1814" opacity="0.85"/>
<circle cx="160.3" cy="438.0" r="0.54" fill="#3a1814" opacity="0.85"/>
</g>
<rect x="187.2" y="410" width="50.8" height="50.3" fill="#ddd0be"/>
<defs><clipPath id="cl8"><ellipse transform="rotate(8 204.0 437.0)" cx="204.0" cy="437.0" rx="8.370000000000001" ry="12.09"/><ellipse transform="rotate(0 221.0 436.0)" cx="221.0" cy="436.0" rx="9.3" ry="13.485000000000001"/></clipPath><filter id="lf8" x="-25%" y="-25%" width="150%" height="150%" color-interpolation-filters="sRGB"><feTurbulence type="fractalNoise" baseFrequency="0.13" numOctaves="2" seed="24" result="n"/><feDisplacementMap in="SourceGraphic" in2="n" scale="3" xChannelSelector="R" yChannelSelector="G" result="d"/><feGaussianBlur in="d" stdDeviation="0.7"/></filter></defs>
<g filter="url(#lf8)">
<ellipse transform="rotate(8 204.0 437.0)" cx="204.0" cy="437.0" rx="9.170000000000002" ry="12.89" fill="#e6cab4"/>
<ellipse transform="rotate(0 221.0 436.0)" cx="221.0" cy="436.0" rx="10.100000000000001" ry="14.285000000000002" fill="#e6cab4"/>
<g clip-path="url(#cl8)">
<ellipse transform="rotate(8 204.0 437.0)" cx="204.0" cy="437.0" rx="8.370000000000001" ry="12.09" fill="#d88e6c"/>
<ellipse transform="rotate(0 221.0 436.0)" cx="221.0" cy="436.0" rx="9.3" ry="13.485000000000001" fill="#d88e6c"/>
<g filter="url(#pb)">
<ellipse cx="222.0" cy="449.1" rx="1.9" ry="1.4" fill="#ebb698" opacity="0.48"/>
<ellipse cx="226.5" cy="426.3" rx="2.7" ry="2.0" fill="#ac5f48" opacity="0.41"/>
<ellipse cx="230.2" cy="443.1" rx="3.7" ry="4.0" fill="#b4684f" opacity="0.48"/>
<ellipse cx="211.6" cy="447.7" rx="2.6" ry="2.9" fill="#924333" opacity="0.41"/>
<ellipse cx="209.6" cy="440.0" rx="1.7" ry="2.2" fill="#a0513e" opacity="0.61"/>
<ellipse cx="226.4" cy="435.0" rx="2.7" ry="3.3" fill="#e5aa8b" opacity="0.48"/>
<ellipse cx="207.7" cy="427.5" rx="3.1" ry="2.7" fill="#b76a50" opacity="0.56"/>
<ellipse cx="206.3" cy="434.6" rx="4.5" ry="3.8" fill="#edba9d" opacity="0.53"/>
<ellipse cx="198.2" cy="441.2" rx="2.6" ry="2.1" fill="#bf7358" opacity="0.49"/>
<ellipse cx="209.3" cy="447.4" rx="3.6" ry="2.9" fill="#af624a" opacity="0.73"/>
<ellipse cx="208.1" cy="443.2" rx="3.7" ry="2.6" fill="#f8e1d3" opacity="0.51"/>
<ellipse cx="209.0" cy="424.8" rx="4.1" ry="4.4" fill="#9c4d3b" opacity="0.42"/>
<ellipse cx="209.3" cy="428.9" rx="1.6" ry="1.2" fill="#a45641" opacity="0.51"/>
<ellipse cx="210.3" cy="437.2" rx="1.9" ry="2.3" fill="#e3a687" opacity="0.63"/>
<ellipse cx="200.7" cy="428.0" rx="2.3" ry="2.3" fill="#e6ab8c" opacity="0.70"/>
<ellipse cx="203.5" cy="430.4" rx="2.5" ry="1.8" fill="#be7257" opacity="0.62"/>
<ellipse cx="215.3" cy="444.3" rx="4.4" ry="5.9" fill="#a1533f" opacity="0.48"/>
<ellipse cx="219.5" cy="440.5" rx="4.4" ry="3.8" fill="#f8e1d3" opacity="0.62"/>
<ellipse cx="198.7" cy="434.1" rx="2.7" ry="2.5" fill="#ae614a" opacity="0.57"/>
<ellipse cx="205.3" cy="426.8" rx="2.7" ry="3.2" fill="#e2a384" opacity="0.48"/>
<ellipse cx="198.9" cy="431.7" rx="2.8" ry="3.3" fill="#a55742" opacity="0.59"/>
<ellipse cx="219.9" cy="423.1" rx="2.7" ry="2.6" fill="#bd7156" opacity="0.42"/>
<ellipse cx="212.8" cy="438.3" rx="2.9" ry="2.1" fill="#b4684f" opacity="0.52"/>
<ellipse cx="226.5" cy="437.8" rx="2.3" ry="2.4" fill="#e2a484" opacity="0.62"/>
<ellipse cx="212.0" cy="436.0" rx="6" ry="10" fill="#c06a4a" opacity="0.8"/>
<ellipse cx="203.0" cy="436.0" rx="4" ry="5" fill="#b86050" opacity="0.5"/>
</g></g></g>
<ellipse cx="213" cy="452" rx="3" ry="4" fill="#ddd0be" filter="url(#pb)"/>
<g filter="url(#sb)">
<circle cx="204.9" cy="432.5" r="3.04" fill="#7a3025" opacity="0.45"/>
<circle cx="204.9" cy="432.5" r="1.71" fill="#361614"/>
<circle cx="206.0" cy="432.2" r="1.14" fill="#3a1814" opacity="0.85"/>
<circle cx="204.2" cy="433.4" r="1.14" fill="#3a1814" opacity="0.85"/>
<circle cx="203.9" cy="438.6" r="2.08" fill="#7a3025" opacity="0.45"/>
<circle cx="203.9" cy="438.6" r="1.17" fill="#361614"/>
<circle cx="203.2" cy="438.2" r="0.78" fill="#3a1814" opacity="0.85"/>
<circle cx="204.6" cy="438.3" r="0.78" fill="#3a1814" opacity="0.85"/>
<circle cx="216.6" cy="428.4" r="2.24" fill="#7a3025" opacity="0.45"/>
<circle cx="216.6" cy="428.4" r="1.26" fill="#361614"/>
<circle cx="216.7" cy="427.6" r="0.84" fill="#3a1814" opacity="0.85"/>
<circle cx="216.0" cy="427.8" r="0.84" fill="#3a1814" opacity="0.85"/>
<circle cx="222.7" cy="427.9" r="2.08" fill="#7a3025" opacity="0.45"/>
<circle cx="222.7" cy="427.9" r="1.17" fill="#361614"/>
<circle cx="222.1" cy="427.4" r="0.78" fill="#3a1814" opacity="0.85"/>
<circle cx="222.0" cy="428.3" r="0.78" fill="#3a1814" opacity="0.85"/>
<circle cx="225.3" cy="439.1" r="2.88" fill="#7a3025" opacity="0.45"/>
<circle cx="225.3" cy="439.1" r="1.62" fill="#361614"/>
<circle cx="224.4" cy="439.6" r="1.08" fill="#3a1814" opacity="0.85"/>
<circle cx="225.1" cy="440.2" r="1.08" fill="#3a1814" opacity="0.85"/>
<circle cx="221.7" cy="434.5" r="1.76" fill="#7a3025" opacity="0.45"/>
<circle cx="221.7" cy="434.5" r="0.99" fill="#361614"/>
<circle cx="222.0" cy="433.9" r="0.66" fill="#3a1814" opacity="0.85"/>
<circle cx="222.2" cy="434.0" r="0.66" fill="#3a1814" opacity="0.85"/>
</g>
<rect x="253.8" y="410" width="50.8" height="50.3" fill="#ddd0be"/>
<defs><clipPath id="cl9"><ellipse transform="rotate(5 270.0 436.0)" cx="270.0" cy="436.0" rx="8.835" ry="14.88"/><ellipse transform="rotate(0 286.0 434.5)" cx="286.0" cy="434.5" rx="9.765" ry="14.88"/></clipPath><filter id="lf9" x="-25%" y="-25%" width="150%" height="150%" color-interpolation-filters="sRGB"><feTurbulence type="fractalNoise" baseFrequency="0.13" numOctaves="2" seed="27" result="n"/><feDisplacementMap in="SourceGraphic" in2="n" scale="3" xChannelSelector="R" yChannelSelector="G" result="d"/><feGaussianBlur in="d" stdDeviation="0.7"/></filter></defs>
<g filter="url(#lf9)">
<ellipse transform="rotate(5 270.0 436.0)" cx="270.0" cy="436.0" rx="9.635000000000002" ry="15.680000000000001" fill="#e5c8b0"/>
<ellipse transform="rotate(0 286.0 434.5)" cx="286.0" cy="434.5" rx="10.565000000000001" ry="15.680000000000001" fill="#e5c8b0"/>
<g clip-path="url(#cl9)">
<ellipse transform="rotate(5 270.0 436.0)" cx="270.0" cy="436.0" rx="8.835" ry="14.88" fill="#d8906a"/>
<ellipse transform="rotate(0 286.0 434.5)" cx="286.0" cy="434.5" rx="9.765" ry="14.88" fill="#d8906a"/>
<g filter="url(#pb)">
<ellipse cx="274.4" cy="448.1" rx="1.6" ry="1.5" fill="#b6694c" opacity="0.53"/>
<ellipse cx="295.0" cy="424.3" rx="2.1" ry="1.8" fill="#b06248" opacity="0.40"/>
<ellipse cx="280.0" cy="431.9" rx="2.2" ry="2.4" fill="#e8b18f" opacity="0.62"/>
<ellipse cx="280.6" cy="445.6" rx="4.4" ry="5.8" fill="#bb6f51" opacity="0.51"/>
<ellipse cx="285.9" cy="441.4" rx="3.6" ry="4.5" fill="#f7dfcf" opacity="0.46"/>
<ellipse cx="282.7" cy="435.0" rx="3.2" ry="3.9" fill="#bd7153" opacity="0.59"/>
<ellipse cx="269.4" cy="427.4" rx="2.5" ry="2.0" fill="#b5694c" opacity="0.42"/>
<ellipse cx="263.5" cy="422.8" rx="3.6" ry="4.5" fill="#b86b4e" opacity="0.57"/>
<ellipse cx="266.8" cy="446.7" rx="4.1" ry="4.3" fill="#be7354" opacity="0.68"/>
<ellipse cx="274.7" cy="442.0" rx="2.3" ry="2.1" fill="#e3a784" opacity="0.67"/>
<ellipse cx="290.3" cy="445.5" rx="3.2" ry="3.6" fill="#af6147" opacity="0.69"/>
<ellipse cx="288.9" cy="423.5" rx="2.6" ry="2.2" fill="#e2a581" opacity="0.40"/>
<ellipse cx="281.4" cy="449.0" rx="4.4" ry="4.4" fill="#b06247" opacity="0.62"/>
<ellipse cx="274.9" cy="448.8" rx="4.5" ry="3.5" fill="#af6147" opacity="0.41"/>
<ellipse cx="271.1" cy="442.5" rx="4.5" ry="3.2" fill="#bc7052" opacity="0.59"/>
<ellipse cx="277.9" cy="431.3" rx="2.4" ry="2.2" fill="#ebb695" opacity="0.54"/>
<ellipse cx="282.5" cy="443.5" rx="4.4" ry="4.8" fill="#af6247" opacity="0.68"/>
<ellipse cx="266.2" cy="425.1" rx="1.8" ry="1.6" fill="#f7dfcf" opacity="0.57"/>
<ellipse cx="265.3" cy="429.7" rx="1.6" ry="1.8" fill="#e1a27e" opacity="0.50"/>
<ellipse cx="269.0" cy="434.7" rx="2.6" ry="1.9" fill="#c57a5a" opacity="0.71"/>
<ellipse cx="271.9" cy="422.1" rx="2.0" ry="1.7" fill="#edbb9a" opacity="0.70"/>
<ellipse cx="277.9" cy="432.6" rx="3.9" ry="4.3" fill="#c57a59" opacity="0.63"/>
<ellipse cx="282.7" cy="428.3" rx="4.3" ry="6.0" fill="#f7dfcf" opacity="0.56"/>
<ellipse cx="290.0" cy="442.3" rx="2.0" ry="1.6" fill="#c17656" opacity="0.43"/>
<ellipse cx="278.0" cy="433.0" rx="7" ry="10" fill="#c47050" opacity="0.7"/>
</g></g></g>
<ellipse cx="279" cy="453" rx="3" ry="4" fill="#ddd0be" filter="url(#pb)"/>
<g filter="url(#sb)">
<circle cx="273.4" cy="429.9" r="3.04" fill="#7a3025" opacity="0.45"/>
<circle cx="273.4" cy="429.9" r="1.71" fill="#361614"/>
<circle cx="272.7" cy="430.8" r="1.14" fill="#3a1814" opacity="0.85"/>
<circle cx="273.4" cy="428.8" r="1.14" fill="#3a1814" opacity="0.85"/>
<circle cx="282.1" cy="428.9" r="2.08" fill="#7a3025" opacity="0.45"/>
<circle cx="282.1" cy="428.9" r="1.17" fill="#361614"/>
<circle cx="281.8" cy="429.6" r="0.78" fill="#3a1814" opacity="0.85"/>
<circle cx="281.3" cy="428.8" r="0.78" fill="#3a1814" opacity="0.85"/>
<circle cx="289.2" cy="423.8" r="2.08" fill="#7a3025" opacity="0.45"/>
<circle cx="289.2" cy="423.8" r="1.17" fill="#361614"/>
<circle cx="290.0" cy="423.9" r="0.78" fill="#3a1814" opacity="0.85"/>
<circle cx="289.4" cy="424.6" r="0.78" fill="#3a1814" opacity="0.85"/>
<circle cx="289.7" cy="432.0" r="2.08" fill="#7a3025" opacity="0.45"/>
<circle cx="289.7" cy="432.0" r="1.17" fill="#361614"/>
<circle cx="290.5" cy="431.8" r="0.78" fill="#3a1814" opacity="0.85"/>
<circle cx="290.5" cy="432.1" r="0.78" fill="#3a1814" opacity="0.85"/>
<circle cx="275.4" cy="440.6" r="2.24" fill="#7a3025" opacity="0.45"/>
<circle cx="275.4" cy="440.6" r="1.26" fill="#361614"/>
<circle cx="274.6" cy="440.5" r="0.84" fill="#3a1814" opacity="0.85"/>
<circle cx="275.7" cy="439.8" r="0.84" fill="#3a1814" opacity="0.85"/>
<circle cx="294.3" cy="439.6" r="1.76" fill="#7a3025" opacity="0.45"/>
<circle cx="294.3" cy="439.6" r="0.99" fill="#361614"/>
<circle cx="294.5" cy="439.0" r="0.66" fill="#3a1814" opacity="0.85"/>
<circle cx="294.2" cy="438.9" r="0.66" fill="#3a1814" opacity="0.85"/>
<circle cx="288.7" cy="446.2" r="1.92" fill="#7a3025" opacity="0.45"/>
<circle cx="288.7" cy="446.2" r="1.08" fill="#361614"/>
<circle cx="288.1" cy="446.6" r="0.72" fill="#3a1814" opacity="0.85"/>
<circle cx="288.9" cy="445.5" r="0.72" fill="#3a1814" opacity="0.85"/>
</g>
<rect x="320.2" y="410" width="50.8" height="50.3" fill="#ddd0be"/>
<defs><clipPath id="cl10"><ellipse transform="rotate(8 336.0 437.0)" cx="336.0" cy="437.0" rx="8.370000000000001" ry="13.020000000000001"/><ellipse transform="rotate(0 353.5 435.5)" cx="353.5" cy="435.5" rx="9.765" ry="14.415000000000001"/></clipPath><filter id="lf10" x="-25%" y="-25%" width="150%" height="150%" color-interpolation-filters="sRGB"><feTurbulence type="fractalNoise" baseFrequency="0.13" numOctaves="2" seed="30" result="n"/><feDisplacementMap in="SourceGraphic" in2="n" scale="3" xChannelSelector="R" yChannelSelector="G" result="d"/><feGaussianBlur in="d" stdDeviation="0.7"/></filter></defs>
<g filter="url(#lf10)">
<ellipse transform="rotate(8 336.0 437.0)" cx="336.0" cy="437.0" rx="9.170000000000002" ry="13.820000000000002" fill="#e4c1a9"/>
<ellipse transform="rotate(0 353.5 435.5)" cx="353.5" cy="435.5" rx="10.565000000000001" ry="15.215000000000002" fill="#e4c1a9"/>
<g clip-path="url(#cl10)">
<ellipse transform="rotate(8 336.0 437.0)" cx="336.0" cy="437.0" rx="8.370000000000001" ry="13.020000000000001" fill="#d07a58"/>
<ellipse transform="rotate(0 353.5 435.5)" cx="353.5" cy="435.5" rx="9.765" ry="14.415000000000001" fill="#d07a58"/>
<g filter="url(#pb)">
<ellipse cx="357.1" cy="443.3" rx="4.5" ry="4.4" fill="#a14231" opacity="0.65"/>
<ellipse cx="336.6" cy="447.4" rx="1.6" ry="1.5" fill="#dd9170" opacity="0.53"/>
<ellipse cx="351.0" cy="444.5" rx="2.6" ry="2.3" fill="#df9574" opacity="0.72"/>
<ellipse cx="339.1" cy="423.8" rx="2.5" ry="3.1" fill="#dc916f" opacity="0.59"/>
<ellipse cx="351.9" cy="426.2" rx="1.8" ry="1.8" fill="#b45941" opacity="0.40"/>
<ellipse cx="345.5" cy="432.8" rx="2.5" ry="2.1" fill="#eaa988" opacity="0.71"/>
<ellipse cx="339.1" cy="442.9" rx="1.8" ry="1.8" fill="#f6d7c7" opacity="0.74"/>
<ellipse cx="335.5" cy="432.9" rx="3.6" ry="4.2" fill="#b65c43" opacity="0.73"/>
<ellipse cx="339.1" cy="426.4" rx="2.6" ry="2.1" fill="#f6d7c7" opacity="0.62"/>
<ellipse cx="341.1" cy="439.7" rx="2.1" ry="2.8" fill="#e8a686" opacity="0.62"/>
<ellipse cx="345.6" cy="437.5" rx="1.8" ry="1.9" fill="#e5a07f" opacity="0.63"/>
<ellipse cx="342.6" cy="432.2" rx="2.2" ry="2.3" fill="#e39c7c" opacity="0.41"/>
<ellipse cx="350.0" cy="434.0" rx="3.3" ry="2.6" fill="#e9a888" opacity="0.56"/>
<ellipse cx="363.0" cy="442.4" rx="2.4" ry="2.4" fill="#eaaa8a" opacity="0.70"/>
<ellipse cx="332.1" cy="449.7" rx="3.0" ry="3.4" fill="#a44634" opacity="0.73"/>
<ellipse cx="357.2" cy="444.2" rx="3.0" ry="2.3" fill="#f6d7c7" opacity="0.70"/>
<ellipse cx="353.0" cy="428.3" rx="3.9" ry="5.1" fill="#e29b7a" opacity="0.47"/>
<ellipse cx="337.6" cy="439.7" rx="1.7" ry="1.8" fill="#e7a383" opacity="0.48"/>
<ellipse cx="356.1" cy="445.8" rx="3.8" ry="4.8" fill="#e9a787" opacity="0.45"/>
<ellipse cx="340.7" cy="424.0" rx="1.6" ry="2.1" fill="#a34533" opacity="0.44"/>
<ellipse cx="334.1" cy="432.3" rx="4.0" ry="3.0" fill="#e9a787" opacity="0.75"/>
<ellipse cx="335.0" cy="439.3" rx="4.1" ry="4.8" fill="#dc906f" opacity="0.55"/>
<ellipse cx="328.2" cy="430.9" rx="2.4" ry="2.7" fill="#de9372" opacity="0.64"/>
<ellipse cx="334.1" cy="424.8" rx="3.6" ry="2.8" fill="#db8e6d" opacity="0.73"/>
<ellipse cx="344.0" cy="436.0" rx="6" ry="9" fill="#b85c44" opacity="0.7"/>
<ellipse cx="358.0" cy="445.0" rx="4" ry="5" fill="#c06040" opacity="0.6"/>
</g></g></g>
<ellipse cx="345" cy="453" rx="3" ry="4" fill="#ddd0be" filter="url(#pb)"/>
<g filter="url(#sb)">
<circle cx="339.4" cy="434.0" r="2.40" fill="#7a3025" opacity="0.45"/>
<circle cx="339.4" cy="434.0" r="1.35" fill="#361614"/>
<circle cx="338.7" cy="433.4" r="0.90" fill="#3a1814" opacity="0.85"/>
<circle cx="338.8" cy="434.7" r="0.90" fill="#3a1814" opacity="0.85"/>
<circle cx="334.3" cy="439.6" r="2.24" fill="#7a3025" opacity="0.45"/>
<circle cx="334.3" cy="439.6" r="1.26" fill="#361614"/>
<circle cx="334.6" cy="440.4" r="0.84" fill="#3a1814" opacity="0.85"/>
<circle cx="335.1" cy="439.6" r="0.84" fill="#3a1814" opacity="0.85"/>
<circle cx="344.5" cy="441.1" r="2.40" fill="#7a3025" opacity="0.45"/>
<circle cx="344.5" cy="441.1" r="1.35" fill="#361614"/>
<circle cx="344.2" cy="440.3" r="0.90" fill="#3a1814" opacity="0.85"/>
<circle cx="344.4" cy="440.2" r="0.90" fill="#3a1814" opacity="0.85"/>
<circle cx="355.2" cy="425.3" r="2.08" fill="#7a3025" opacity="0.45"/>
<circle cx="355.2" cy="425.3" r="1.17" fill="#361614"/>
<circle cx="354.7" cy="425.9" r="0.78" fill="#3a1814" opacity="0.85"/>
<circle cx="354.9" cy="426.0" r="0.78" fill="#3a1814" opacity="0.85"/>
<circle cx="354.2" cy="433.0" r="2.08" fill="#7a3025" opacity="0.45"/>
<circle cx="354.2" cy="433.0" r="1.17" fill="#361614"/>
<circle cx="353.5" cy="433.4" r="0.78" fill="#3a1814" opacity="0.85"/>
<circle cx="354.7" cy="433.6" r="0.78" fill="#3a1814" opacity="0.85"/>
<circle cx="361.9" cy="433.0" r="1.60" fill="#7a3025" opacity="0.45"/>
<circle cx="361.9" cy="433.0" r="0.90" fill="#361614"/>
<circle cx="361.5" cy="432.6" r="0.60" fill="#3a1814" opacity="0.85"/>
<circle cx="361.4" cy="433.3" r="0.60" fill="#3a1814" opacity="0.85"/>
<circle cx="360.3" cy="443.7" r="1.60" fill="#7a3025" opacity="0.45"/>
<circle cx="360.3" cy="443.7" r="0.90" fill="#361614"/>
<circle cx="360.6" cy="443.2" r="0.60" fill="#3a1814" opacity="0.85"/>
<circle cx="359.8" cy="444.0" r="0.60" fill="#3a1814" opacity="0.85"/>
</g>
<line x1="402.60" y1="340.00" x2="402.60" y2="460.50" stroke="#333" stroke-width="1" />
<line x1="402.10" y1="460.00" x2="482.50" y2="460.00" stroke="#333" stroke-width="1" />
<line x1="399.00" y1="460.00" x2="402.60" y2="460.00" stroke="#333" stroke-width="1" />
<text x="397.50" y="463.01" font-size="8.4" text-anchor="end" font-weight="normal" fill="#333" style="color:#333" >0</text>
<line x1="399.00" y1="436.20" x2="402.60" y2="436.20" stroke="#333" stroke-width="1" />
<text x="397.50" y="439.21" font-size="8.4" text-anchor="end" font-weight="normal" fill="#333" style="color:#333" >2</text>
<line x1="399.00" y1="412.40" x2="402.60" y2="412.40" stroke="#333" stroke-width="1" />
<text x="397.50" y="415.41" font-size="8.4" text-anchor="end" font-weight="normal" fill="#333" style="color:#333" >4</text>
<line x1="399.00" y1="388.60" x2="402.60" y2="388.60" stroke="#333" stroke-width="1" />
<text x="397.50" y="391.61" font-size="8.4" text-anchor="end" font-weight="normal" fill="#333" style="color:#333" >6</text>
<line x1="399.00" y1="364.80" x2="402.60" y2="364.80" stroke="#333" stroke-width="1" />
<text x="397.50" y="367.81" font-size="8.4" text-anchor="end" font-weight="normal" fill="#333" style="color:#333" >8</text>
<line x1="399.00" y1="341.00" x2="402.60" y2="341.00" stroke="#333" stroke-width="1" />
<text x="397.50" y="344.01" font-size="8.4" text-anchor="end" font-weight="normal" fill="#333" style="color:#333" >10</text>
<line x1="426.20" y1="460.00" x2="426.20" y2="463.50" stroke="#333" stroke-width="1" />
<line x1="460.00" y1="460.00" x2="460.00" y2="463.50" stroke="#333" stroke-width="1" />
<text x="426.20" y="473.15" font-size="8.8" text-anchor="middle" font-weight="normal" fill="#222" style="color:#222" >WT</text>
<text x="460.80" y="473.15" font-size="8.8" text-anchor="middle" font-weight="normal" fill="#222" style="color:#222" >SNPH-KO</text>
<text transform="translate(381.00,401.00) rotate(-90)" x="0" y="3.08" font-size="8.6" text-anchor="middle" font-weight="normal" fill="#222" style="color:#222" >Number of lesions</text>
<line x1="425.70" y1="331.60" x2="459.40" y2="331.60" stroke="#555" stroke-width="0.9" />
<line x1="425.70" y1="329.30" x2="425.70" y2="333.90" stroke="#555" stroke-width="0.9" />
<line x1="459.40" y1="329.30" x2="459.40" y2="333.90" stroke="#555" stroke-width="0.9" />
<text x="442.50" y="326.52" font-size="7.6" text-anchor="middle" font-weight="normal" fill="#333" style="color:#333" >0.0007</text>
<circle cx="426.20" cy="376.70" r="1.9" fill="#2c3888"/>
<circle cx="426.20" cy="412.40" r="1.9" fill="#2c3888"/>
<circle cx="421.00" cy="424.30" r="1.9" fill="#2c3888"/>
<circle cx="431.40" cy="424.30" r="1.9" fill="#2c3888"/>
<circle cx="426.20" cy="436.20" r="1.9" fill="#2c3888"/>
<line x1="414.70" y1="414.78" x2="437.80" y2="414.78" stroke="#34479a" stroke-width="1.1" />
<line x1="426.20" y1="392.17" x2="426.20" y2="437.39" stroke="#34479a" stroke-width="0.9" />
<line x1="420.50" y1="392.17" x2="431.40" y2="392.17" stroke="#34479a" stroke-width="1.1" />
<line x1="420.50" y1="437.39" x2="431.40" y2="437.39" stroke="#34479a" stroke-width="1.1" />
<circle cx="460.00" cy="341.00" r="1.9" fill="#d21838"/>
<circle cx="455.00" cy="352.90" r="1.9" fill="#d21838"/>
<circle cx="465.00" cy="352.90" r="1.9" fill="#d21838"/>
<circle cx="455.00" cy="364.80" r="1.9" fill="#d21838"/>
<circle cx="465.00" cy="364.80" r="1.9" fill="#d21838"/>
<line x1="448.50" y1="355.28" x2="471.50" y2="355.28" stroke="#e0202e" stroke-width="1.1" />
<line x1="460.00" y1="345.16" x2="460.00" y2="364.80" stroke="#e0202e" stroke-width="0.9" />
<line x1="454.50" y1="345.16" x2="465.50" y2="345.16" stroke="#e0202e" stroke-width="1.1" />
<line x1="454.50" y1="364.80" x2="465.50" y2="364.80" stroke="#e0202e" stroke-width="1.1" />
<text x="1.50" y="495.48" font-size="12.5" text-anchor="start" font-weight="bold" fill="#111" style="color:#111" >G</text>
<line x1="29.00" y1="505.30" x2="29.00" y2="603.80" stroke="#555" stroke-width="1" />
<line x1="28.50" y1="603.30" x2="120.20" y2="603.30" stroke="#555" stroke-width="1" />
<line x1="25.50" y1="603.30" x2="29.00" y2="603.30" stroke="#555" stroke-width="1" />
<text x="24.00" y="606.02" font-size="7.6" text-anchor="end" font-weight="normal" fill="#333" style="color:#333" >0</text>
<line x1="25.50" y1="578.92" x2="29.00" y2="578.92" stroke="#555" stroke-width="1" />
<text x="24.00" y="581.65" font-size="7.6" text-anchor="end" font-weight="normal" fill="#333" style="color:#333" >5</text>
<line x1="25.50" y1="554.55" x2="29.00" y2="554.55" stroke="#555" stroke-width="1" />
<text x="24.00" y="557.27" font-size="7.6" text-anchor="end" font-weight="normal" fill="#333" style="color:#333" >10</text>
<line x1="25.50" y1="530.17" x2="29.00" y2="530.17" stroke="#555" stroke-width="1" />
<text x="24.00" y="532.90" font-size="7.6" text-anchor="end" font-weight="normal" fill="#333" style="color:#333" >15</text>
<line x1="25.50" y1="505.80" x2="29.00" y2="505.80" stroke="#555" stroke-width="1" />
<text x="24.00" y="508.52" font-size="7.6" text-anchor="end" font-weight="normal" fill="#333" style="color:#333" >20</text>
<text transform="translate(8.80,554.80) rotate(-90)" x="0" y="2.72" font-size="7.6" text-anchor="middle" font-weight="normal" fill="#222" style="color:#222" >Mice</text>
<rect x="41.70" y="510.67" width="26.40" height="92.62" fill="#ee4343" stroke="#3a2a2a" stroke-width="0.6"/>
<rect x="81.60" y="505.80" width="26.10" height="73.12" fill="#3b50a3" stroke="#2a2a3a" stroke-width="0.6"/>
<rect x="81.60" y="578.92" width="26.10" height="24.38" fill="#ee4343" stroke="#3a2a2a" stroke-width="0.6"/>
<text x="54.90" y="552.55" font-size="8.8" text-anchor="middle" font-weight="bold" fill="#fff" style="color:#fff;stroke-width:0px" >19</text>
<text x="94.60" y="552.55" font-size="8.8" text-anchor="middle" font-weight="bold" fill="#fff" style="color:#fff;stroke-width:0px" >15</text>
<text x="94.60" y="598.35" font-size="8.8" text-anchor="middle" font-weight="bold" fill="#fff" style="color:#fff;stroke-width:0px" >5</text>
<text x="54.90" y="614.92" font-size="7.6" text-anchor="middle" font-weight="normal" fill="#222" style="color:#222" >WT</text>
<text x="94.60" y="614.92" font-size="7.6" text-anchor="middle" font-weight="normal" fill="#222" style="color:#222" >SNPH KO</text>
<line x1="53.30" y1="491.00" x2="94.20" y2="491.00" stroke="#555" stroke-width="0.9" />
<line x1="53.30" y1="488.80" x2="53.30" y2="493.20" stroke="#555" stroke-width="0.9" />
<line x1="94.20" y1="488.80" x2="94.20" y2="493.20" stroke="#555" stroke-width="0.9" />
<text x="73.50" y="487.31" font-size="7" text-anchor="middle" font-weight="normal" fill="#333" style="color:#333" >&lt; 0.00001</text>
<rect x="110.40" y="517.10" width="8.10" height="5.00" fill="#3b50a3" stroke="#222" stroke-width="0.5"/>
<text x="120.00" y="522.14" font-size="7.1" text-anchor="start" font-weight="normal" fill="#222" style="color:#222" >Tumor</text>
<rect x="110.40" y="527.40" width="8.10" height="5.00" fill="#ee4343" stroke="#222" stroke-width="0.5"/>
<text x="120.00" y="532.54" font-size="7.1" text-anchor="start" font-weight="normal" fill="#222" style="color:#222" >No Tumor</text>
<text x="156.00" y="495.48" font-size="12.5" text-anchor="start" font-weight="bold" fill="#111" style="color:#111" >H</text>
<line x1="190.30" y1="496.00" x2="190.30" y2="601.00" stroke="#555" stroke-width="1" />
<line x1="189.80" y1="600.50" x2="340.20" y2="600.50" stroke="#555" stroke-width="1" />
<line x1="187.00" y1="600.00" x2="190.30" y2="600.00" stroke="#555" stroke-width="0.9" />
<text x="186.00" y="602.43" font-size="6.8" text-anchor="end" font-weight="normal" fill="#333" style="color:#333" >0</text>
<line x1="187.00" y1="582.76" x2="190.30" y2="582.76" stroke="#555" stroke-width="0.9" />
<text x="186.00" y="585.19" font-size="6.8" text-anchor="end" font-weight="normal" fill="#333" style="color:#333" >2,000</text>
<line x1="187.00" y1="565.52" x2="190.30" y2="565.52" stroke="#555" stroke-width="0.9" />
<text x="186.00" y="567.95" font-size="6.8" text-anchor="end" font-weight="normal" fill="#333" style="color:#333" >4,000</text>
<line x1="187.00" y1="548.28" x2="190.30" y2="548.28" stroke="#555" stroke-width="0.9" />
<text x="186.00" y="550.71" font-size="6.8" text-anchor="end" font-weight="normal" fill="#333" style="color:#333" >6,000</text>
<line x1="187.00" y1="531.04" x2="190.30" y2="531.04" stroke="#555" stroke-width="0.9" />
<text x="186.00" y="533.47" font-size="6.8" text-anchor="end" font-weight="normal" fill="#333" style="color:#333" >8,000</text>
<line x1="187.00" y1="513.80" x2="190.30" y2="513.80" stroke="#555" stroke-width="0.9" />
<text x="186.00" y="516.23" font-size="6.8" text-anchor="end" font-weight="normal" fill="#333" style="color:#333" >0,000</text>
<line x1="187.00" y1="496.56" x2="190.30" y2="496.56" stroke="#555" stroke-width="0.9" />
<text x="186.00" y="498.99" font-size="6.8" text-anchor="end" font-weight="normal" fill="#333" style="color:#333" >12,000</text>
<text transform="translate(163.60,548.00) rotate(-90)" x="0" y="2.43" font-size="6.8" text-anchor="middle" font-weight="normal" fill="#222" style="color:#222" >CPM</text>
<line x1="200.75" y1="562.93" x2="200.75" y2="558.62" stroke="#777" stroke-width="0.8" />
<line x1="198.25" y1="558.62" x2="203.25" y2="558.62" stroke="#777" stroke-width="0.8" />
<rect x="197.00" y="562.93" width="7.50" height="37.07" fill="#3b50a3" />
<line x1="212.20" y1="556.90" x2="212.20" y2="549.14" stroke="#777" stroke-width="0.8" />
<line x1="209.70" y1="549.14" x2="214.70" y2="549.14" stroke="#777" stroke-width="0.8" />
<rect x="208.40" y="556.90" width="7.60" height="43.10" fill="#ec1e26" />
<line x1="231.45" y1="524.14" x2="231.45" y2="521.56" stroke="#777" stroke-width="0.8" />
<line x1="228.95" y1="521.56" x2="233.95" y2="521.56" stroke="#777" stroke-width="0.8" />
<rect x="228.00" y="524.14" width="6.90" height="75.86" fill="#3b50a3" />
<line x1="242.60" y1="520.70" x2="242.60" y2="513.80" stroke="#777" stroke-width="0.8" />
<line x1="240.10" y1="513.80" x2="245.10" y2="513.80" stroke="#777" stroke-width="0.8" />
<rect x="238.80" y="520.70" width="7.60" height="79.30" fill="#ec1e26" />
<line x1="263.00" y1="530.18" x2="263.00" y2="512.51" stroke="#777" stroke-width="0.8" />
<line x1="260.50" y1="512.51" x2="265.50" y2="512.51" stroke="#777" stroke-width="0.8" />
<rect x="259.40" y="530.18" width="7.20" height="69.82" fill="#3b50a3" />
<line x1="273.95" y1="535.35" x2="273.95" y2="529.32" stroke="#777" stroke-width="0.8" />
<line x1="271.45" y1="529.32" x2="276.45" y2="529.32" stroke="#777" stroke-width="0.8" />
<rect x="270.50" y="535.35" width="6.90" height="64.65" fill="#ec1e26" />
<line x1="293.25" y1="524.14" x2="293.25" y2="518.11" stroke="#777" stroke-width="0.8" />
<line x1="290.75" y1="518.11" x2="295.75" y2="518.11" stroke="#777" stroke-width="0.8" />
<rect x="289.50" y="524.14" width="7.50" height="75.86" fill="#111" />
<rect x="320.60" y="598.60" width="8.00" height="2.00" fill="#111" />
<line x1="206.50" y1="600.50" x2="206.50" y2="603.00" stroke="#555" stroke-width="0.9" />
<text x="206.50" y="609.93" font-size="6.8" text-anchor="middle" font-weight="normal" fill="#333" style="color:#333" >1:1</text>
<line x1="237.30" y1="600.50" x2="237.30" y2="603.00" stroke="#555" stroke-width="0.9" />
<text x="237.30" y="609.93" font-size="6.8" text-anchor="middle" font-weight="normal" fill="#333" style="color:#333" >1:2</text>
<line x1="268.30" y1="600.50" x2="268.30" y2="603.00" stroke="#555" stroke-width="0.9" />
<text x="268.30" y="609.93" font-size="6.8" text-anchor="middle" font-weight="normal" fill="#333" style="color:#333" >1:4</text>
<line x1="293.30" y1="600.50" x2="293.30" y2="603.00" stroke="#555" stroke-width="0.9" />
<text x="293.30" y="609.93" font-size="6.8" text-anchor="middle" font-weight="normal" fill="#333" style="color:#333" >Pos</text>
<line x1="324.60" y1="600.50" x2="324.60" y2="603.00" stroke="#555" stroke-width="0.9" />
<text x="324.60" y="609.93" font-size="6.8" text-anchor="middle" font-weight="normal" fill="#333" style="color:#333" >Neg</text>
<text x="260.00" y="616.51" font-size="7" text-anchor="middle" font-weight="normal" fill="#222" style="color:#222" >PMN-MDSC : splenocytes ratios</text>
<line x1="212.70" y1="495.50" x2="292.80" y2="495.50" stroke="#777" stroke-width="0.9" />
<line x1="212.70" y1="493.50" x2="212.70" y2="497.50" stroke="#777" stroke-width="0.9" />
<line x1="198.00" y1="503.70" x2="292.80" y2="503.70" stroke="#777" stroke-width="0.9" />
<line x1="198.00" y1="501.70" x2="198.00" y2="505.70" stroke="#777" stroke-width="0.9" />
<text x="252.60" y="495.95" font-size="6" text-anchor="middle" font-weight="normal" fill="#444" style="color:#444" >**</text>
<text x="249.70" y="504.15" font-size="6" text-anchor="middle" font-weight="normal" fill="#444" style="color:#444" >**</text>
<line x1="292.80" y1="493.50" x2="292.80" y2="497.50" stroke="#777" stroke-width="0.9" />
<line x1="292.80" y1="501.70" x2="292.80" y2="505.70" stroke="#777" stroke-width="0.9" />
<rect x="299.30" y="501.40" width="8.20" height="4.60" fill="#3b50a3" />
<text x="308.80" y="506.06" font-size="6.6" text-anchor="start" font-weight="normal" fill="#222" style="color:#222;stroke-width:0.1px" >WT</text>
<rect x="299.30" y="511.80" width="8.20" height="4.60" fill="#ec1e26" />
<text x="308.80" y="516.46" font-size="6.6" text-anchor="start" font-weight="normal" fill="#222" style="color:#222;stroke-width:0.1px" >SNPH-KO</text>
<text x="357.50" y="495.98" font-size="12.5" text-anchor="start" font-weight="bold" fill="#111" style="color:#111" >I</text>
<line x1="381.50" y1="511.00" x2="381.50" y2="603.80" stroke="#666" stroke-width="0.9" />
<line x1="381.00" y1="603.30" x2="509.60" y2="603.30" stroke="#666" stroke-width="0.9" />
<line x1="378.50" y1="603.30" x2="381.50" y2="603.30" stroke="#666" stroke-width="0.9" />
<text x="377.00" y="605.81" font-size="7" text-anchor="end" font-weight="normal" fill="#333" style="color:#333" >0</text>
<line x1="378.50" y1="580.35" x2="381.50" y2="580.35" stroke="#666" stroke-width="0.9" />
<text x="377.00" y="582.86" font-size="7" text-anchor="end" font-weight="normal" fill="#333" style="color:#333" >20</text>
<line x1="378.50" y1="557.40" x2="381.50" y2="557.40" stroke="#666" stroke-width="0.9" />
<text x="377.00" y="559.91" font-size="7" text-anchor="end" font-weight="normal" fill="#333" style="color:#333" >40</text>
<line x1="378.50" y1="534.45" x2="381.50" y2="534.45" stroke="#666" stroke-width="0.9" />
<text x="377.00" y="536.96" font-size="7" text-anchor="end" font-weight="normal" fill="#333" style="color:#333" >60</text>
<line x1="378.50" y1="511.50" x2="381.50" y2="511.50" stroke="#666" stroke-width="0.9" />
<text x="377.00" y="514.01" font-size="7" text-anchor="end" font-weight="normal" fill="#333" style="color:#333" >80</text>
<text transform="translate(357.6,561.7) rotate(-90)" font-size="7.2" text-anchor="middle" fill="#222" y="2.6">Number of cells (×10<tspan font-size="4.8" dy="-2.8">4</tspan><tspan dy="2.8">)</tspan></text>
<line x1="415.50" y1="603.30" x2="415.50" y2="606.00" stroke="#666" stroke-width="0.9" />
<line x1="484.70" y1="603.30" x2="484.70" y2="606.00" stroke="#666" stroke-width="0.9" />
<text x="415.50" y="613.71" font-size="7" text-anchor="middle" font-weight="normal" fill="#222" style="color:#222" >WT</text>
<text x="484.70" y="613.71" font-size="7" text-anchor="middle" font-weight="normal" fill="#222" style="color:#222" >SNPH-KO</text>
<polyline points="415.5,563.5 415.5,517.8 484.7,517.8 484.7,522" fill="none" stroke="#777" stroke-width="0.9"/>
<text x="450.00" y="517.08" font-size="10" text-anchor="middle" font-weight="bold" fill="#111" style="color:#111" >**</text>
<circle cx="415.50" cy="568.88" r="1.9" fill="#2c3888"/>
<circle cx="415.50" cy="582.64" r="1.9" fill="#2c3888"/>
<circle cx="410.00" cy="588.38" r="1.9" fill="#2c3888"/>
<circle cx="421.00" cy="588.38" r="1.9" fill="#2c3888"/>
<circle cx="415.50" cy="594.12" r="1.9" fill="#2c3888"/>
<line x1="392.00" y1="584.94" x2="438.60" y2="584.94" stroke="#5a6cc0" stroke-width="1.0" />
<line x1="415.50" y1="580.35" x2="415.50" y2="589.53" stroke="#5a6cc0" stroke-width="0.9" />
<line x1="404.00" y1="580.35" x2="426.50" y2="580.35" stroke="#5a6cc0" stroke-width="1.0" />
<line x1="404.00" y1="589.53" x2="426.50" y2="589.53" stroke="#5a6cc0" stroke-width="1.0" />
<circle cx="484.70" cy="528.71" r="1.9" fill="#d21838"/>
<circle cx="488.80" cy="533.30" r="1.9" fill="#d21838"/>
<circle cx="481.20" cy="535.60" r="1.9" fill="#d21838"/>
<circle cx="484.70" cy="543.63" r="1.9" fill="#d21838"/>
<circle cx="484.70" cy="571.17" r="1.9" fill="#d21838"/>
<line x1="461.00" y1="542.48" x2="507.90" y2="542.48" stroke="#e65a6a" stroke-width="1.0" />
<line x1="484.70" y1="535.02" x2="484.70" y2="550.51" stroke="#e65a6a" stroke-width="0.9" />
<line x1="473.00" y1="535.02" x2="495.80" y2="535.02" stroke="#e65a6a" stroke-width="1.0" />
<line x1="473.00" y1="550.51" x2="495.80" y2="550.51" stroke="#e65a6a" stroke-width="1.0" />
</svg></body></html>
